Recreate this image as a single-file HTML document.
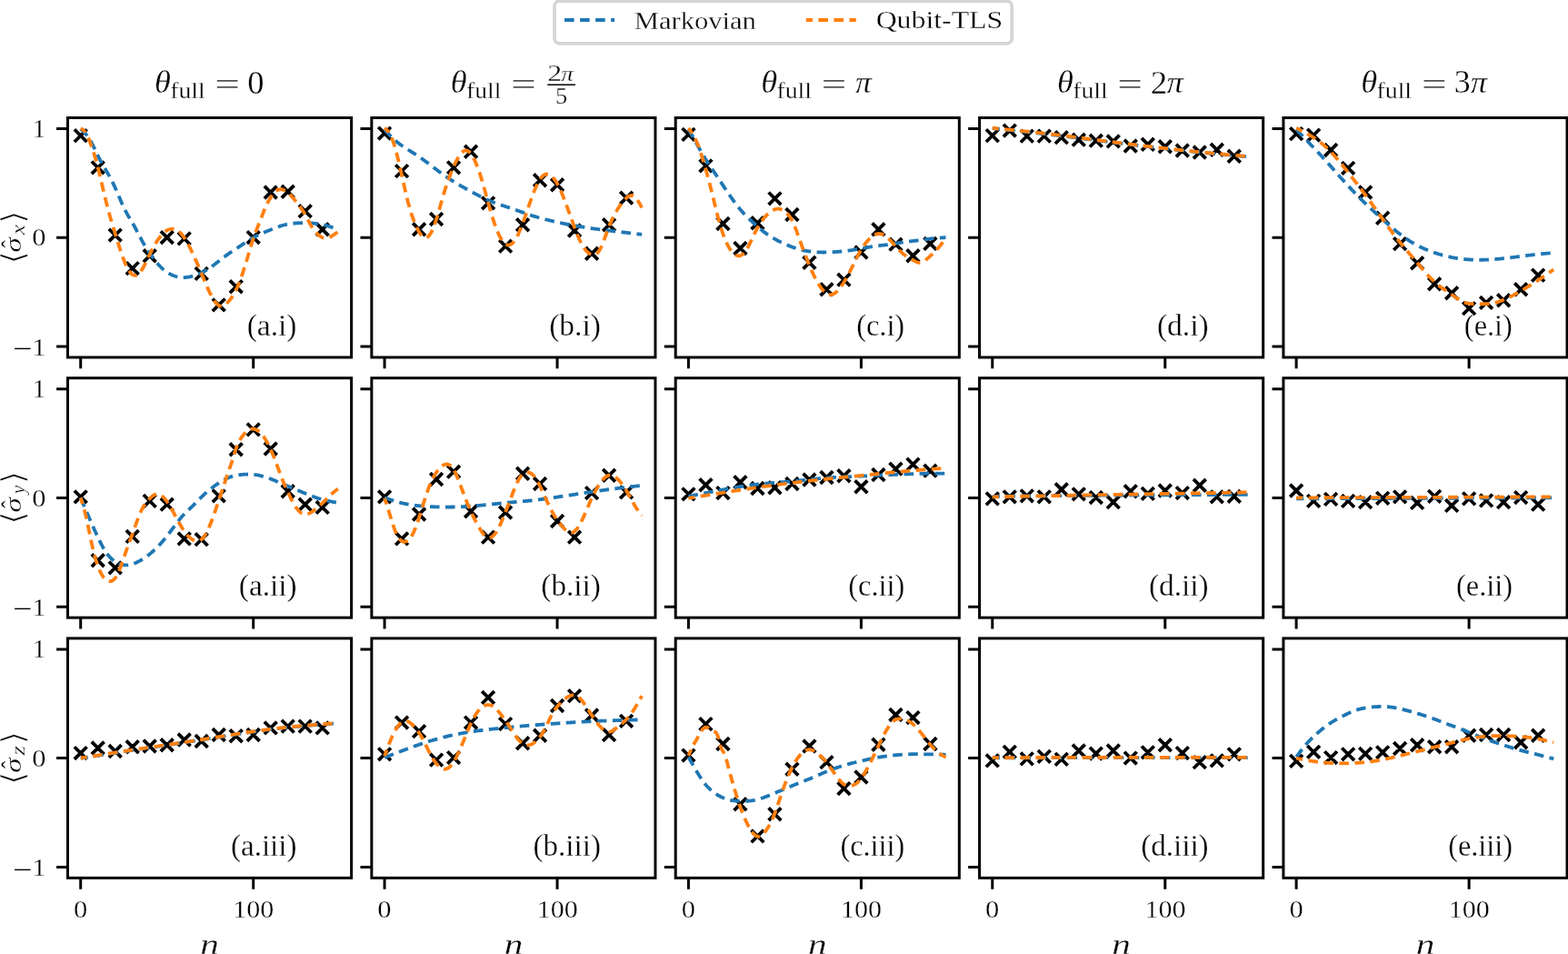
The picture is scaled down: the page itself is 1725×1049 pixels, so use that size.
<!DOCTYPE html><html><head><meta charset="utf-8"><style>html,body{margin:0;padding:0;background:#fff;overflow:hidden}svg{display:block}text{font-family:'Liberation Serif', 'DejaVu Serif', serif;fill:#000;stroke:#fff;stroke-width:0.3px}</style></head><body>
<svg width="1725" height="1049" viewBox="0 0 1725 1049">
<rect width="1725" height="1049" fill="#fff"/>
<defs>
<clipPath id="cp00"><rect x="74.50" y="129.50" width="312.10" height="263.45"/></clipPath>
<clipPath id="cp01"><rect x="408.85" y="129.50" width="312.10" height="263.45"/></clipPath>
<clipPath id="cp02"><rect x="743.20" y="129.50" width="312.10" height="263.45"/></clipPath>
<clipPath id="cp03"><rect x="1077.55" y="129.50" width="312.10" height="263.45"/></clipPath>
<clipPath id="cp04"><rect x="1411.90" y="129.50" width="312.10" height="263.45"/></clipPath>
<clipPath id="cp10"><rect x="74.50" y="415.70" width="312.10" height="263.45"/></clipPath>
<clipPath id="cp11"><rect x="408.85" y="415.70" width="312.10" height="263.45"/></clipPath>
<clipPath id="cp12"><rect x="743.20" y="415.70" width="312.10" height="263.45"/></clipPath>
<clipPath id="cp13"><rect x="1077.55" y="415.70" width="312.10" height="263.45"/></clipPath>
<clipPath id="cp14"><rect x="1411.90" y="415.70" width="312.10" height="263.45"/></clipPath>
<clipPath id="cp20"><rect x="74.50" y="701.90" width="312.10" height="263.45"/></clipPath>
<clipPath id="cp21"><rect x="408.85" y="701.90" width="312.10" height="263.45"/></clipPath>
<clipPath id="cp22"><rect x="743.20" y="701.90" width="312.10" height="263.45"/></clipPath>
<clipPath id="cp23"><rect x="1077.55" y="701.90" width="312.10" height="263.45"/></clipPath>
<clipPath id="cp24"><rect x="1411.90" y="701.90" width="312.10" height="263.45"/></clipPath>
</defs>
<g clip-path="url(#cp00)">
<path d="M81.85,142.28L95.55,155.98M81.85,155.98L95.55,142.28M100.85,177.51L114.55,191.21M100.85,191.21L114.55,177.51M119.85,251.74L133.55,265.44M119.85,265.44L133.55,251.74M138.85,288.23L152.55,301.93M138.85,301.93L152.55,288.23M157.85,274.39L171.55,288.09M157.85,288.09L171.55,274.39M176.85,254.26L190.55,267.96M176.85,267.96L190.55,254.26M195.85,255.52L209.55,269.22M195.85,269.22L209.55,255.52M214.85,294.02L228.55,307.72M214.85,307.72L228.55,294.02M233.85,328.49L247.55,342.19M233.85,342.19L247.55,328.49M252.85,308.36L266.55,322.06M252.85,322.06L266.55,308.36M271.85,254.26L285.55,267.96M271.85,267.96L285.55,254.26M290.85,204.69L304.55,218.39M290.85,218.39L304.55,204.69M309.85,203.93L323.55,217.63M309.85,217.63L323.55,203.93M328.85,225.32L342.55,239.02M328.85,239.02L342.55,225.32M347.85,245.45L361.55,259.15M347.85,259.15L361.55,245.45" stroke="#000" stroke-width="3.8" fill="none"/>
<path d="M88.70,141.68 L89.65,142.58 L90.59,143.49 L91.54,144.43 L92.49,145.40 L93.43,146.41 L94.38,147.48 L95.33,148.62 L96.27,149.84 L97.22,151.15 L98.17,152.56 L99.12,154.08 L100.06,155.72 L101.01,157.47 L101.96,159.30 L102.90,161.21 L103.85,163.16 L104.80,165.14 L105.74,167.14 L106.69,169.13 L107.64,171.10 L108.58,173.02 L109.53,174.88 L110.48,176.67 L111.42,178.40 L112.37,180.08 L113.32,181.72 L114.26,183.34 L115.21,184.94 L116.16,186.53 L117.10,188.13 L118.05,189.75 L119.00,191.39 L119.95,193.07 L120.89,194.79 L121.84,196.56 L122.79,198.37 L123.73,200.24 L124.68,202.15 L125.63,204.12 L126.57,206.14 L127.52,208.22 L128.47,210.35 L129.41,212.54 L130.36,214.76 L131.31,217.00 L132.25,219.24 L133.20,221.47 L134.15,223.65 L135.09,225.78 L136.04,227.84 L136.99,229.82 L137.93,231.69 L138.88,233.47 L139.83,235.18 L140.78,236.83 L141.72,238.44 L142.67,240.02 L143.62,241.58 L144.56,243.15 L145.51,244.74 L146.46,246.36 L147.40,248.03 L148.35,249.75 L149.30,251.51 L150.24,253.30 L151.19,255.12 L152.14,256.94 L153.08,258.76 L154.03,260.57 L154.98,262.36 L155.92,264.12 L156.87,265.84 L157.82,267.51 L158.76,269.12 L159.71,270.69 L160.66,272.22 L161.61,273.70 L162.55,275.16 L163.50,276.57 L164.45,277.97 L165.39,279.33 L166.34,280.68 L167.29,282.01 L168.23,283.31 L169.18,284.59 L170.13,285.84 L171.07,287.05 L172.02,288.23 L172.97,289.38 L173.91,290.48 L174.86,291.53 L175.81,292.54 L176.75,293.50 L177.70,294.42 L178.65,295.30 L179.59,296.13 L180.54,296.91 L181.49,297.66 L182.44,298.37 L183.38,299.04 L184.33,299.67 L185.28,300.26 L186.22,300.81 L187.17,301.34 L188.12,301.82 L189.06,302.27 L190.01,302.69 L190.96,303.07 L191.90,303.42 L192.85,303.74 L193.80,304.03 L194.74,304.28 L195.69,304.50 L196.64,304.68 L197.58,304.84 L198.53,304.96 L199.48,305.06 L200.43,305.12 L201.37,305.15 L202.32,305.15 L203.27,305.11 L204.21,305.05 L205.16,304.96 L206.11,304.85 L207.05,304.70 L208.00,304.54 L208.95,304.34 L209.89,304.13 L210.84,303.89 L211.79,303.63 L212.73,303.35 L213.68,303.05 L214.63,302.73 L215.57,302.39 L216.52,302.04 L217.47,301.67 L218.41,301.28 L219.36,300.88 L220.31,300.46 L221.26,300.02 L222.20,299.56 L223.15,299.08 L224.10,298.59 L225.04,298.08 L225.99,297.54 L226.94,297.00 L227.88,296.43 L228.83,295.84 L229.78,295.23 L230.72,294.61 L231.67,293.97 L232.62,293.31 L233.56,292.63 L234.51,291.95 L235.46,291.25 L236.40,290.54 L237.35,289.82 L238.30,289.09 L239.24,288.36 L240.19,287.62 L241.14,286.88 L242.09,286.14 L243.03,285.40 L243.98,284.66 L244.93,283.92 L245.87,283.19 L246.82,282.46 L247.77,281.74 L248.71,281.03 L249.66,280.34 L250.61,279.65 L251.55,278.97 L252.50,278.31 L253.45,277.65 L254.39,277.01 L255.34,276.37 L256.29,275.74 L257.23,275.12 L258.18,274.50 L259.13,273.88 L260.07,273.27 L261.02,272.66 L261.97,272.04 L262.92,271.43 L263.86,270.82 L264.81,270.20 L265.76,269.58 L266.70,268.95 L267.65,268.33 L268.60,267.70 L269.54,267.07 L270.49,266.45 L271.44,265.82 L272.38,265.21 L273.33,264.60 L274.28,263.99 L275.22,263.40 L276.17,262.82 L277.12,262.25 L278.06,261.69 L279.01,261.15 L279.96,260.62 L280.91,260.11 L281.85,259.62 L282.80,259.14 L283.75,258.67 L284.69,258.21 L285.64,257.77 L286.59,257.33 L287.53,256.90 L288.48,256.49 L289.43,256.07 L290.37,255.67 L291.32,255.27 L292.27,254.87 L293.21,254.48 L294.16,254.09 L295.11,253.70 L296.05,253.31 L297.00,252.92 L297.95,252.53 L298.89,252.14 L299.84,251.76 L300.79,251.38 L301.74,251.01 L302.68,250.64 L303.63,250.28 L304.58,249.93 L305.52,249.59 L306.47,249.25 L307.42,248.93 L308.36,248.62 L309.31,248.32 L310.26,248.03 L311.20,247.76 L312.15,247.50 L313.10,247.26 L314.04,247.03 L314.99,246.83 L315.94,246.63 L316.88,246.46 L317.83,246.29 L318.78,246.14 L319.72,246.01 L320.67,245.88 L321.62,245.77 L322.57,245.67 L323.51,245.57 L324.46,245.49 L325.41,245.42 L326.35,245.36 L327.30,245.30 L328.25,245.25 L329.19,245.21 L330.14,245.17 L331.09,245.14 L332.03,245.12 L332.98,245.11 L333.93,245.10 L334.87,245.10 L335.82,245.10 L336.77,245.12 L337.71,245.14 L338.66,245.17 L339.61,245.20 L340.55,245.25 L341.50,245.30 L342.45,245.36 L343.40,245.43 L344.34,245.51 L345.29,245.59 L346.24,245.69 L347.18,245.79 L348.13,245.91 L349.08,246.04 L350.02,246.17 L350.97,246.32 L351.92,246.48 L352.86,246.65 L353.81,246.84 L354.76,247.03 L355.70,247.24 L356.65,247.46 L357.60,247.69 L358.54,247.94 L359.49,248.20 L360.44,248.46 L361.38,248.74 L362.33,249.02 L363.28,249.31 L364.23,249.61 L365.17,249.92 L366.12,250.23 L367.07,250.54 L368.01,250.86 L368.96,251.19 L369.91,251.51 L370.85,251.84 L371.80,252.17" stroke="#1f77b4" stroke-width="3.8" fill="none" stroke-dasharray="10.6 6.45" stroke-dashoffset="0"/>
<path d="M88.70,141.14 L89.65,141.67 L90.59,142.26 L91.54,142.96 L92.49,143.82 L93.43,144.90 L94.38,146.24 L95.33,147.87 L96.27,149.76 L97.22,151.86 L98.17,154.13 L99.12,156.55 L100.06,159.08 L101.01,161.71 L101.96,164.46 L102.90,167.32 L103.85,170.32 L104.80,173.45 L105.74,176.73 L106.69,180.16 L107.64,183.75 L108.58,187.50 L109.53,191.38 L110.48,195.36 L111.42,199.41 L112.37,203.49 L113.32,207.58 L114.26,211.65 L115.21,215.67 L116.16,219.59 L117.10,223.41 L118.05,227.09 L119.00,230.65 L119.95,234.11 L120.89,237.47 L121.84,240.76 L122.79,243.98 L123.73,247.14 L124.68,250.27 L125.63,253.37 L126.57,256.45 L127.52,259.54 L128.47,262.61 L129.41,265.67 L130.36,268.69 L131.31,271.66 L132.25,274.58 L133.20,277.41 L134.15,280.16 L135.09,282.80 L136.04,285.33 L136.99,287.73 L137.93,289.98 L138.88,292.08 L139.83,294.02 L140.78,295.79 L141.72,297.38 L142.67,298.79 L143.62,300.00 L144.56,301.02 L145.51,301.82 L146.46,302.40 L147.40,302.76 L148.35,302.89 L149.30,302.81 L150.24,302.51 L151.19,302.02 L152.14,301.33 L153.08,300.47 L154.03,299.43 L154.98,298.22 L155.92,296.87 L156.87,295.36 L157.82,293.72 L158.76,291.97 L159.71,290.12 L160.66,288.20 L161.61,286.23 L162.55,284.24 L163.50,282.25 L164.45,280.28 L165.39,278.34 L166.34,276.46 L167.29,274.63 L168.23,272.85 L169.18,271.13 L170.13,269.46 L171.07,267.86 L172.02,266.31 L172.97,264.84 L173.91,263.42 L174.86,262.08 L175.81,260.81 L176.75,259.61 L177.70,258.49 L178.65,257.44 L179.59,256.48 L180.54,255.60 L181.49,254.81 L182.44,254.11 L183.38,253.50 L184.33,252.99 L185.28,252.57 L186.22,252.25 L187.17,252.02 L188.12,251.87 L189.06,251.80 L190.01,251.81 L190.96,251.88 L191.90,252.04 L192.85,252.28 L193.80,252.61 L194.74,253.05 L195.69,253.60 L196.64,254.27 L197.58,255.07 L198.53,256.00 L199.48,257.04 L200.43,258.21 L201.37,259.47 L202.32,260.83 L203.27,262.28 L204.21,263.81 L205.16,265.41 L206.11,267.07 L207.05,268.80 L208.00,270.58 L208.95,272.41 L209.89,274.30 L210.84,276.23 L211.79,278.21 L212.73,280.23 L213.68,282.28 L214.63,284.37 L215.57,286.49 L216.52,288.64 L217.47,290.82 L218.41,293.02 L219.36,295.24 L220.31,297.48 L221.26,299.73 L222.20,302.00 L223.15,304.27 L224.10,306.55 L225.04,308.83 L225.99,311.08 L226.94,313.30 L227.88,315.48 L228.83,317.62 L229.78,319.69 L230.72,321.69 L231.67,323.61 L232.62,325.44 L233.56,327.16 L234.51,328.78 L235.46,330.27 L236.40,331.62 L237.35,332.84 L238.30,333.91 L239.24,334.82 L240.19,335.55 L241.14,336.11 L242.09,336.48 L243.03,336.65 L243.98,336.63 L244.93,336.43 L245.87,336.06 L246.82,335.55 L247.77,334.90 L248.71,334.15 L249.66,333.29 L250.61,332.36 L251.55,331.35 L252.50,330.26 L253.45,329.09 L254.39,327.82 L255.34,326.46 L256.29,325.00 L257.23,323.42 L258.18,321.74 L259.13,319.94 L260.07,318.01 L261.02,315.96 L261.97,313.78 L262.92,311.48 L263.86,309.07 L264.81,306.54 L265.76,303.91 L266.70,301.18 L267.65,298.35 L268.60,295.43 L269.54,292.43 L270.49,289.34 L271.44,286.19 L272.38,282.99 L273.33,279.76 L274.28,276.54 L275.22,273.34 L276.17,270.20 L277.12,267.13 L278.06,264.16 L279.01,261.32 L279.96,258.62 L280.91,256.04 L281.85,253.57 L282.80,251.17 L283.75,248.82 L284.69,246.49 L285.64,244.16 L286.59,241.80 L287.53,239.39 L288.48,236.90 L289.43,234.37 L290.37,231.87 L291.32,229.48 L292.27,227.26 L293.21,225.23 L294.16,223.37 L295.11,221.65 L296.05,220.04 L297.00,218.53 L297.95,217.08 L298.89,215.69 L299.84,214.36 L300.79,213.11 L301.74,211.98 L302.68,210.97 L303.63,210.12 L304.58,209.44 L305.52,208.92 L306.47,208.56 L307.42,208.34 L308.36,208.24 L309.31,208.27 L310.26,208.40 L311.20,208.62 L312.15,208.95 L313.10,209.37 L314.04,209.87 L314.99,210.47 L315.94,211.15 L316.88,211.91 L317.83,212.74 L318.78,213.65 L319.72,214.62 L320.67,215.64 L321.62,216.71 L322.57,217.83 L323.51,218.97 L324.46,220.13 L325.41,221.31 L326.35,222.50 L327.30,223.70 L328.25,224.92 L329.19,226.17 L330.14,227.45 L331.09,228.77 L332.03,230.14 L332.98,231.57 L333.93,233.07 L334.87,234.63 L335.82,236.28 L336.77,238.00 L337.71,239.77 L338.66,241.55 L339.61,243.34 L340.55,245.10 L341.50,246.82 L342.45,248.46 L343.40,250.02 L344.34,251.46 L345.29,252.79 L346.24,254.03 L347.18,255.17 L348.13,256.21 L349.08,257.17 L350.02,258.04 L350.97,258.84 L351.92,259.55 L352.86,260.18 L353.81,260.72 L354.76,261.17 L355.70,261.52 L356.65,261.77 L357.60,261.91 L358.54,261.95 L359.49,261.88 L360.44,261.70 L361.38,261.41 L362.33,261.03 L363.28,260.58 L364.23,260.06 L365.17,259.49 L366.12,258.88 L367.07,258.24 L368.01,257.59 L368.96,256.94 L369.91,256.27 L370.85,255.61 L371.80,254.94" stroke="#ff7f0e" stroke-width="3.8" fill="none" stroke-dasharray="10.6 6.45" stroke-dashoffset="3.5"/>
</g>
<rect x="74.50" y="129.50" width="312.10" height="263.45" fill="none" stroke="#000" stroke-width="3"/>
<path d="M62.10,141.48H74.50M62.10,261.23H74.50M62.10,380.98H74.50M88.70,392.95V405.35M278.70,392.95V405.35" stroke="#000" stroke-width="3" fill="none"/>
<text transform="translate(35.22,150.98) scale(1.0751,1)" font-size="28.70">1</text>
<text transform="translate(35.28,270.35) scale(1.0884,1)" font-size="28.00">0</text>
<text transform="translate(35.22,390.58) scale(1.1105,1)" font-size="27.79">1</text>
<text transform="translate(13.98,396.17) scale(1.0130,1)" font-size="38.00">−</text>
<text transform="translate(271.63,368.72) scale(0.9733,1)" font-size="34.44">(a.i)</text>
<g clip-path="url(#cp01)">
<path d="M416.20,139.76L429.90,153.46M416.20,153.46L429.90,139.76M435.20,181.28L448.90,194.98M435.20,194.98L448.90,181.28M454.20,245.45L467.90,259.15M454.20,259.15L467.90,245.45M473.20,234.13L486.90,247.83M473.20,247.83L486.90,234.13M492.20,177.51L505.90,191.21M492.20,191.21L505.90,177.51M511.20,159.90L524.90,173.60M511.20,173.60L524.90,159.90M530.20,216.51L543.90,230.21M530.20,230.21L543.90,216.51M549.20,263.82L562.90,277.52M549.20,277.52L562.90,263.82M568.20,240.42L581.90,254.12M568.20,254.12L581.90,240.42M587.20,191.35L600.90,205.05M587.20,205.05L600.90,191.35M606.20,196.38L619.90,210.08M606.20,210.08L619.90,196.38M625.20,246.71L638.90,260.41M625.20,260.41L638.90,246.71M644.20,271.87L657.90,285.57M644.20,285.57L657.90,271.87M663.20,240.42L676.90,254.12M663.20,254.12L676.90,240.42M682.20,210.73L695.90,224.43M682.20,224.43L695.90,210.73" stroke="#000" stroke-width="3.8" fill="none"/>
<path d="M423.05,142.31 L424.00,143.36 L424.94,144.40 L425.89,145.44 L426.84,146.47 L427.78,147.48 L428.73,148.49 L429.68,149.47 L430.62,150.44 L431.57,151.38 L432.52,152.30 L433.47,153.19 L434.41,154.04 L435.36,154.88 L436.31,155.68 L437.25,156.46 L438.20,157.22 L439.15,157.95 L440.09,158.66 L441.04,159.36 L441.99,160.04 L442.93,160.70 L443.88,161.34 L444.83,161.98 L445.77,162.60 L446.72,163.21 L447.67,163.82 L448.61,164.42 L449.56,165.01 L450.51,165.60 L451.45,166.18 L452.40,166.77 L453.35,167.36 L454.30,167.95 L455.24,168.54 L456.19,169.14 L457.14,169.74 L458.08,170.36 L459.03,170.98 L459.98,171.62 L460.92,172.26 L461.87,172.92 L462.82,173.58 L463.76,174.25 L464.71,174.92 L465.66,175.61 L466.60,176.29 L467.55,176.99 L468.50,177.69 L469.44,178.39 L470.39,179.10 L471.34,179.81 L472.28,180.53 L473.23,181.24 L474.18,181.96 L475.13,182.68 L476.07,183.40 L477.02,184.12 L477.97,184.84 L478.91,185.56 L479.86,186.28 L480.81,186.99 L481.75,187.70 L482.70,188.41 L483.65,189.12 L484.59,189.82 L485.54,190.51 L486.49,191.20 L487.43,191.89 L488.38,192.56 L489.33,193.23 L490.27,193.90 L491.22,194.55 L492.17,195.19 L493.11,195.83 L494.06,196.46 L495.01,197.08 L495.96,197.69 L496.90,198.30 L497.85,198.90 L498.80,199.49 L499.74,200.08 L500.69,200.65 L501.64,201.23 L502.58,201.80 L503.53,202.36 L504.48,202.92 L505.42,203.47 L506.37,204.02 L507.32,204.56 L508.26,205.10 L509.21,205.64 L510.16,206.17 L511.10,206.70 L512.05,207.23 L513.00,207.76 L513.94,208.28 L514.89,208.80 L515.84,209.32 L516.79,209.84 L517.73,210.36 L518.68,210.88 L519.63,211.39 L520.57,211.90 L521.52,212.41 L522.47,212.92 L523.41,213.42 L524.36,213.92 L525.31,214.41 L526.25,214.90 L527.20,215.39 L528.15,215.87 L529.09,216.34 L530.04,216.81 L530.99,217.28 L531.93,217.73 L532.88,218.18 L533.83,218.63 L534.78,219.06 L535.72,219.49 L536.67,219.91 L537.62,220.32 L538.56,220.73 L539.51,221.12 L540.46,221.51 L541.40,221.88 L542.35,222.25 L543.30,222.61 L544.24,222.97 L545.19,223.32 L546.14,223.66 L547.08,224.00 L548.03,224.33 L548.98,224.66 L549.92,224.98 L550.87,225.30 L551.82,225.62 L552.76,225.94 L553.71,226.25 L554.66,226.56 L555.61,226.87 L556.55,227.18 L557.50,227.49 L558.45,227.80 L559.39,228.11 L560.34,228.42 L561.29,228.74 L562.23,229.05 L563.18,229.37 L564.13,229.69 L565.07,230.02 L566.02,230.35 L566.97,230.68 L567.91,231.01 L568.86,231.35 L569.81,231.68 L570.75,232.02 L571.70,232.36 L572.65,232.70 L573.59,233.04 L574.54,233.38 L575.49,233.72 L576.44,234.06 L577.38,234.39 L578.33,234.72 L579.28,235.05 L580.22,235.38 L581.17,235.71 L582.12,236.03 L583.06,236.34 L584.01,236.66 L584.96,236.96 L585.90,237.27 L586.85,237.56 L587.80,237.86 L588.74,238.14 L589.69,238.43 L590.64,238.71 L591.58,238.98 L592.53,239.25 L593.48,239.52 L594.42,239.78 L595.37,240.04 L596.32,240.30 L597.27,240.55 L598.21,240.80 L599.16,241.04 L600.11,241.29 L601.05,241.53 L602.00,241.76 L602.95,241.99 L603.89,242.22 L604.84,242.45 L605.79,242.68 L606.73,242.90 L607.68,243.12 L608.63,243.34 L609.57,243.55 L610.52,243.77 L611.47,243.98 L612.41,244.19 L613.36,244.40 L614.31,244.60 L615.26,244.81 L616.20,245.01 L617.15,245.21 L618.10,245.41 L619.04,245.60 L619.99,245.80 L620.94,245.99 L621.88,246.18 L622.83,246.37 L623.78,246.56 L624.72,246.74 L625.67,246.92 L626.62,247.10 L627.56,247.28 L628.51,247.46 L629.46,247.63 L630.40,247.81 L631.35,247.98 L632.30,248.15 L633.24,248.31 L634.19,248.48 L635.14,248.64 L636.09,248.80 L637.03,248.96 L637.98,249.12 L638.93,249.28 L639.87,249.43 L640.82,249.58 L641.77,249.74 L642.71,249.88 L643.66,250.03 L644.61,250.18 L645.55,250.32 L646.50,250.47 L647.45,250.61 L648.39,250.75 L649.34,250.89 L650.29,251.02 L651.23,251.16 L652.18,251.29 L653.13,251.42 L654.07,251.56 L655.02,251.69 L655.97,251.81 L656.92,251.94 L657.86,252.07 L658.81,252.19 L659.76,252.32 L660.70,252.44 L661.65,252.56 L662.60,252.68 L663.54,252.80 L664.49,252.92 L665.44,253.04 L666.38,253.15 L667.33,253.27 L668.28,253.38 L669.22,253.50 L670.17,253.61 L671.12,253.72 L672.06,253.84 L673.01,253.95 L673.96,254.06 L674.90,254.17 L675.85,254.28 L676.80,254.39 L677.75,254.50 L678.69,254.61 L679.64,254.72 L680.59,254.83 L681.53,254.94 L682.48,255.05 L683.43,255.16 L684.37,255.27 L685.32,255.38 L686.27,255.49 L687.21,255.60 L688.16,255.71 L689.11,255.82 L690.05,255.93 L691.00,256.05 L691.95,256.16 L692.89,256.27 L693.84,256.38 L694.79,256.49 L695.73,256.60 L696.68,256.71 L697.63,256.83 L698.58,256.94 L699.52,257.05 L700.47,257.16 L701.42,257.27 L702.36,257.38 L703.31,257.50 L704.26,257.61 L705.20,257.72 L706.15,257.83" stroke="#1f77b4" stroke-width="3.8" fill="none" stroke-dasharray="10.6 6.45" stroke-dashoffset="0"/>
<path d="M423.05,140.74 L424.00,141.51 L424.94,142.33 L425.89,143.26 L426.84,144.33 L427.78,145.59 L428.73,147.09 L429.68,148.85 L430.62,150.87 L431.57,153.17 L432.52,155.73 L433.47,158.58 L434.41,161.67 L435.36,164.99 L436.31,168.52 L437.25,172.22 L438.20,176.08 L439.15,180.07 L440.09,184.15 L441.04,188.32 L441.99,192.54 L442.93,196.79 L443.88,201.03 L444.83,205.23 L445.77,209.38 L446.72,213.44 L447.67,217.37 L448.61,221.16 L449.56,224.77 L450.51,228.19 L451.45,231.41 L452.40,234.45 L453.35,237.31 L454.30,240.00 L455.24,242.53 L456.19,244.92 L457.14,247.16 L458.08,249.26 L459.03,251.24 L459.98,253.09 L460.92,254.79 L461.87,256.33 L462.82,257.69 L463.76,258.87 L464.71,259.85 L465.66,260.60 L466.60,261.13 L467.55,261.42 L468.50,261.44 L469.44,261.20 L470.39,260.67 L471.34,259.86 L472.28,258.79 L473.23,257.45 L474.18,255.87 L475.13,254.05 L476.07,252.01 L477.02,249.75 L477.97,247.29 L478.91,244.63 L479.86,241.80 L480.81,238.79 L481.75,235.66 L482.70,232.41 L483.65,229.10 L484.59,225.74 L485.54,222.37 L486.49,219.02 L487.43,215.73 L488.38,212.51 L489.33,209.41 L490.27,206.43 L491.22,203.55 L492.17,200.78 L493.11,198.11 L494.06,195.53 L495.01,193.05 L495.96,190.64 L496.90,188.32 L497.85,186.07 L498.80,183.89 L499.74,181.78 L500.69,179.74 L501.64,177.80 L502.58,175.96 L503.53,174.22 L504.48,172.62 L505.42,171.14 L506.37,169.81 L507.32,168.64 L508.26,167.63 L509.21,166.81 L510.16,166.17 L511.10,165.74 L512.05,165.51 L513.00,165.51 L513.94,165.74 L514.89,166.18 L515.84,166.83 L516.79,167.69 L517.73,168.75 L518.68,170.00 L519.63,171.44 L520.57,173.06 L521.52,174.85 L522.47,176.81 L523.41,178.93 L524.36,181.21 L525.31,183.63 L526.25,186.20 L527.20,188.90 L528.15,191.72 L529.09,194.67 L530.04,197.73 L530.99,200.90 L531.93,204.17 L532.88,207.52 L533.83,210.93 L534.78,214.38 L535.72,217.84 L536.67,221.29 L537.62,224.70 L538.56,228.07 L539.51,231.36 L540.46,234.57 L541.40,237.70 L542.35,240.73 L543.30,243.64 L544.24,246.44 L545.19,249.10 L546.14,251.63 L547.08,254.00 L548.03,256.21 L548.98,258.27 L549.92,260.16 L550.87,261.88 L551.82,263.43 L552.76,264.82 L553.71,266.02 L554.66,267.05 L555.61,267.90 L556.55,268.57 L557.50,269.05 L558.45,269.33 L559.39,269.43 L560.34,269.33 L561.29,269.05 L562.23,268.57 L563.18,267.91 L564.13,267.07 L565.07,266.05 L566.02,264.85 L566.97,263.47 L567.91,261.93 L568.86,260.21 L569.81,258.32 L570.75,256.29 L571.70,254.11 L572.65,251.81 L573.59,249.41 L574.54,246.91 L575.49,244.34 L576.44,241.71 L577.38,239.03 L578.33,236.31 L579.28,233.57 L580.22,230.82 L581.17,228.08 L582.12,225.34 L583.06,222.63 L584.01,219.97 L584.96,217.35 L585.90,214.79 L586.85,212.31 L587.80,209.92 L588.74,207.63 L589.69,205.44 L590.64,203.39 L591.58,201.46 L592.53,199.69 L593.48,198.07 L594.42,196.63 L595.37,195.37 L596.32,194.28 L597.27,193.37 L598.21,192.64 L599.16,192.08 L600.11,191.69 L601.05,191.46 L602.00,191.41 L602.95,191.51 L603.89,191.78 L604.84,192.20 L605.79,192.77 L606.73,193.50 L607.68,194.37 L608.63,195.38 L609.57,196.54 L610.52,197.83 L611.47,199.25 L612.41,200.80 L613.36,202.48 L614.31,204.28 L615.26,206.19 L616.20,208.21 L617.15,210.33 L618.10,212.53 L619.04,214.82 L619.99,217.18 L620.94,219.60 L621.88,222.09 L622.83,224.62 L623.78,227.19 L624.72,229.80 L625.67,232.42 L626.62,235.06 L627.56,237.71 L628.51,240.35 L629.46,242.98 L630.40,245.59 L631.35,248.16 L632.30,250.70 L633.24,253.18 L634.19,255.61 L635.14,257.96 L636.09,260.23 L637.03,262.42 L637.98,264.50 L638.93,266.46 L639.87,268.30 L640.82,270.01 L641.77,271.58 L642.71,273.01 L643.66,274.30 L644.61,275.45 L645.55,276.48 L646.50,277.38 L647.45,278.16 L648.39,278.82 L649.34,279.36 L650.29,279.79 L651.23,280.10 L652.18,280.27 L653.13,280.28 L654.07,280.13 L655.02,279.78 L655.97,279.24 L656.92,278.48 L657.86,277.49 L658.81,276.25 L659.76,274.74 L660.70,272.97 L661.65,270.97 L662.60,268.76 L663.54,266.40 L664.49,263.92 L665.44,261.35 L666.38,258.74 L667.33,256.12 L668.28,253.54 L669.22,251.02 L670.17,248.60 L671.12,246.31 L672.06,244.13 L673.01,242.05 L673.96,240.08 L674.90,238.19 L675.85,236.39 L676.80,234.66 L677.75,233.01 L678.69,231.41 L679.64,229.86 L680.59,228.36 L681.53,226.90 L682.48,225.51 L683.43,224.16 L684.37,222.89 L685.32,221.68 L686.27,220.55 L687.21,219.50 L688.16,218.54 L689.11,217.67 L690.05,216.90 L691.00,216.23 L691.95,215.69 L692.89,215.29 L693.84,215.04 L694.79,214.97 L695.73,215.10 L696.68,215.43 L697.63,215.98 L698.58,216.77 L699.52,217.76 L700.47,218.93 L701.42,220.26 L702.36,221.72 L703.31,223.28 L704.26,224.92 L705.20,226.61 L706.15,228.33" stroke="#ff7f0e" stroke-width="3.8" fill="none" stroke-dasharray="10.6 6.45" stroke-dashoffset="3.5"/>
</g>
<rect x="408.85" y="129.50" width="312.10" height="263.45" fill="none" stroke="#000" stroke-width="3"/>
<path d="M396.45,141.48H408.85M396.45,261.23H408.85M396.45,380.98H408.85M423.05,392.95V405.35M613.05,392.95V405.35" stroke="#000" stroke-width="3" fill="none"/>
<text transform="translate(604.20,368.72) scale(0.9721,1)" font-size="34.44">(b.i)</text>
<g clip-path="url(#cp02)">
<path d="M750.55,141.02L764.25,154.72M750.55,154.72L764.25,141.02M769.55,175.50L783.25,189.20M769.55,189.20L783.25,175.50M788.55,239.16L802.25,252.86M788.55,252.86L802.25,239.16M807.55,266.09L821.25,279.79M807.55,279.79L821.25,266.09M826.55,238.41L840.25,252.11M826.55,252.11L840.25,238.41M845.55,211.48L859.25,225.18M845.55,225.18L859.25,211.48M864.55,229.10L878.25,242.80M864.55,242.80L878.25,229.10M883.55,281.94L897.25,295.64M883.55,295.64L897.25,281.94M902.55,311.38L916.25,325.08M902.55,325.08L916.25,311.38M921.55,300.81L935.25,314.51M921.55,314.51L935.25,300.81M940.55,270.62L954.25,284.32M940.55,284.32L954.25,270.62M959.55,245.45L973.25,259.15M959.55,259.15L973.25,245.45M978.55,261.81L992.25,275.51M978.55,275.51L992.25,261.81M997.55,274.39L1011.25,288.09M997.55,288.09L1011.25,274.39M1016.55,261.05L1030.25,274.75M1016.55,274.75L1030.25,261.05" stroke="#000" stroke-width="3.8" fill="none"/>
<path d="M757.40,141.64 L758.35,143.37 L759.29,145.10 L760.24,146.83 L761.19,148.56 L762.13,150.28 L763.08,152.01 L764.03,153.73 L764.97,155.46 L765.92,157.18 L766.87,158.90 L767.82,160.61 L768.76,162.31 L769.71,164.01 L770.66,165.69 L771.60,167.35 L772.55,168.99 L773.50,170.61 L774.44,172.20 L775.39,173.77 L776.34,175.30 L777.28,176.81 L778.23,178.28 L779.18,179.74 L780.12,181.17 L781.07,182.59 L782.02,183.99 L782.96,185.38 L783.91,186.76 L784.86,188.14 L785.80,189.52 L786.75,190.90 L787.70,192.29 L788.65,193.69 L789.59,195.09 L790.54,196.50 L791.49,197.93 L792.43,199.35 L793.38,200.78 L794.33,202.21 L795.27,203.64 L796.22,205.08 L797.17,206.50 L798.11,207.93 L799.06,209.34 L800.01,210.75 L800.95,212.15 L801.90,213.54 L802.85,214.92 L803.79,216.28 L804.74,217.63 L805.69,218.97 L806.63,220.29 L807.58,221.59 L808.53,222.87 L809.48,224.13 L810.42,225.37 L811.37,226.59 L812.32,227.79 L813.26,228.96 L814.21,230.10 L815.16,231.22 L816.10,232.32 L817.05,233.38 L818.00,234.42 L818.94,235.43 L819.89,236.43 L820.84,237.40 L821.78,238.35 L822.73,239.28 L823.68,240.20 L824.62,241.10 L825.57,242.00 L826.52,242.88 L827.46,243.75 L828.41,244.62 L829.36,245.48 L830.31,246.34 L831.25,247.19 L832.20,248.03 L833.15,248.87 L834.09,249.70 L835.04,250.51 L835.99,251.32 L836.93,252.11 L837.88,252.90 L838.83,253.66 L839.77,254.42 L840.72,255.16 L841.67,255.88 L842.61,256.58 L843.56,257.27 L844.51,257.93 L845.45,258.58 L846.40,259.21 L847.35,259.83 L848.29,260.42 L849.24,261.00 L850.19,261.57 L851.14,262.12 L852.08,262.66 L853.03,263.19 L853.98,263.70 L854.92,264.21 L855.87,264.70 L856.82,265.18 L857.76,265.66 L858.71,266.12 L859.66,266.58 L860.60,267.03 L861.55,267.47 L862.50,267.91 L863.44,268.33 L864.39,268.75 L865.34,269.16 L866.28,269.56 L867.23,269.95 L868.18,270.34 L869.13,270.71 L870.07,271.08 L871.02,271.43 L871.97,271.78 L872.91,272.11 L873.86,272.44 L874.81,272.75 L875.75,273.05 L876.70,273.35 L877.65,273.63 L878.59,273.90 L879.54,274.17 L880.49,274.42 L881.43,274.66 L882.38,274.89 L883.33,275.11 L884.27,275.32 L885.22,275.52 L886.17,275.71 L887.11,275.89 L888.06,276.06 L889.01,276.22 L889.96,276.36 L890.90,276.50 L891.85,276.63 L892.80,276.75 L893.74,276.85 L894.69,276.95 L895.64,277.04 L896.58,277.12 L897.53,277.19 L898.48,277.26 L899.42,277.31 L900.37,277.36 L901.32,277.40 L902.26,277.43 L903.21,277.45 L904.16,277.47 L905.10,277.48 L906.05,277.48 L907.00,277.47 L907.94,277.46 L908.89,277.45 L909.84,277.43 L910.79,277.40 L911.73,277.37 L912.68,277.33 L913.63,277.29 L914.57,277.24 L915.52,277.19 L916.47,277.13 L917.41,277.08 L918.36,277.02 L919.31,276.95 L920.25,276.88 L921.20,276.81 L922.15,276.74 L923.09,276.66 L924.04,276.58 L924.99,276.50 L925.93,276.41 L926.88,276.32 L927.83,276.22 L928.77,276.12 L929.72,276.02 L930.67,275.91 L931.62,275.79 L932.56,275.67 L933.51,275.55 L934.46,275.42 L935.40,275.29 L936.35,275.15 L937.30,275.01 L938.24,274.86 L939.19,274.71 L940.14,274.56 L941.08,274.40 L942.03,274.24 L942.98,274.08 L943.92,273.91 L944.87,273.74 L945.82,273.58 L946.76,273.40 L947.71,273.23 L948.66,273.06 L949.61,272.89 L950.55,272.71 L951.50,272.54 L952.45,272.37 L953.39,272.20 L954.34,272.03 L955.29,271.86 L956.23,271.69 L957.18,271.53 L958.13,271.37 L959.07,271.21 L960.02,271.06 L960.97,270.91 L961.91,270.77 L962.86,270.63 L963.81,270.50 L964.75,270.38 L965.70,270.26 L966.65,270.15 L967.59,270.04 L968.54,269.93 L969.49,269.83 L970.44,269.73 L971.38,269.63 L972.33,269.53 L973.28,269.42 L974.22,269.32 L975.17,269.21 L976.12,269.10 L977.06,268.99 L978.01,268.87 L978.96,268.74 L979.90,268.60 L980.85,268.46 L981.80,268.31 L982.74,268.16 L983.69,268.00 L984.64,267.84 L985.58,267.67 L986.53,267.50 L987.48,267.34 L988.42,267.17 L989.37,267.00 L990.32,266.84 L991.27,266.67 L992.21,266.52 L993.16,266.37 L994.11,266.22 L995.05,266.08 L996.00,265.95 L996.95,265.82 L997.89,265.71 L998.84,265.59 L999.79,265.48 L1000.73,265.38 L1001.68,265.27 L1002.63,265.17 L1003.57,265.07 L1004.52,264.97 L1005.47,264.87 L1006.41,264.76 L1007.36,264.66 L1008.31,264.55 L1009.25,264.44 L1010.20,264.32 L1011.15,264.20 L1012.10,264.08 L1013.04,263.95 L1013.99,263.82 L1014.94,263.69 L1015.88,263.55 L1016.83,263.42 L1017.78,263.29 L1018.72,263.15 L1019.67,263.02 L1020.62,262.89 L1021.56,262.77 L1022.51,262.65 L1023.46,262.53 L1024.40,262.42 L1025.35,262.31 L1026.30,262.21 L1027.24,262.11 L1028.19,262.02 L1029.14,261.94 L1030.08,261.85 L1031.03,261.78 L1031.98,261.70 L1032.93,261.63 L1033.87,261.56 L1034.82,261.50 L1035.77,261.44 L1036.71,261.38 L1037.66,261.32 L1038.61,261.26 L1039.55,261.20 L1040.50,261.15" stroke="#1f77b4" stroke-width="3.8" fill="none" stroke-dasharray="10.6 6.45" stroke-dashoffset="0"/>
<path d="M757.40,140.98 L758.35,142.22 L759.29,143.49 L760.24,144.80 L761.19,146.18 L762.13,147.65 L763.08,149.22 L764.03,150.92 L764.97,152.76 L765.92,154.76 L766.87,156.94 L767.82,159.28 L768.76,161.78 L769.71,164.41 L770.66,167.18 L771.60,170.06 L772.55,173.05 L773.50,176.13 L774.44,179.29 L775.39,182.52 L776.34,185.83 L777.28,189.20 L778.23,192.64 L779.18,196.15 L780.12,199.73 L781.07,203.37 L782.02,207.07 L782.96,210.84 L783.91,214.67 L784.86,218.55 L785.80,222.45 L786.75,226.33 L787.70,230.18 L788.65,233.96 L789.59,237.66 L790.54,241.23 L791.49,244.67 L792.43,247.95 L793.38,251.07 L794.33,254.04 L795.27,256.85 L796.22,259.50 L797.17,261.98 L798.11,264.31 L799.06,266.46 L800.01,268.46 L800.95,270.30 L801.90,271.98 L802.85,273.51 L803.79,274.90 L804.74,276.15 L805.69,277.25 L806.63,278.23 L807.58,279.08 L808.53,279.80 L809.48,280.38 L810.42,280.83 L811.37,281.12 L812.32,281.27 L813.26,281.26 L814.21,281.09 L815.16,280.75 L816.10,280.25 L817.05,279.58 L818.00,278.74 L818.94,277.73 L819.89,276.56 L820.84,275.21 L821.78,273.69 L822.73,272.02 L823.68,270.23 L824.62,268.33 L825.57,266.36 L826.52,264.35 L827.46,262.31 L828.41,260.28 L829.36,258.28 L830.31,256.33 L831.25,254.46 L832.20,252.65 L833.15,250.91 L834.09,249.24 L835.04,247.65 L835.99,246.12 L836.93,244.66 L837.88,243.27 L838.83,241.96 L839.77,240.71 L840.72,239.53 L841.67,238.42 L842.61,237.38 L843.56,236.40 L844.51,235.48 L845.45,234.63 L846.40,233.84 L847.35,233.11 L848.29,232.43 L849.24,231.82 L850.19,231.26 L851.14,230.77 L852.08,230.36 L853.03,230.03 L853.98,229.80 L854.92,229.66 L855.87,229.63 L856.82,229.70 L857.76,229.87 L858.71,230.13 L859.66,230.48 L860.60,230.91 L861.55,231.43 L862.50,232.01 L863.44,232.67 L864.39,233.40 L865.34,234.20 L866.28,235.09 L867.23,236.10 L868.18,237.24 L869.13,238.53 L870.07,239.99 L871.02,241.64 L871.97,243.50 L872.91,245.55 L873.86,247.77 L874.81,250.14 L875.75,252.62 L876.70,255.20 L877.65,257.83 L878.59,260.51 L879.54,263.19 L880.49,265.85 L881.43,268.48 L882.38,271.08 L883.33,273.64 L884.27,276.17 L885.22,278.67 L886.17,281.13 L887.11,283.56 L888.06,285.95 L889.01,288.30 L889.96,290.62 L890.90,292.89 L891.85,295.11 L892.80,297.28 L893.74,299.39 L894.69,301.43 L895.64,303.41 L896.58,305.31 L897.53,307.14 L898.48,308.89 L899.42,310.56 L900.37,312.15 L901.32,313.65 L902.26,315.06 L903.21,316.39 L904.16,317.62 L905.10,318.76 L906.05,319.80 L907.00,320.74 L907.94,321.57 L908.89,322.29 L909.84,322.90 L910.79,323.38 L911.73,323.73 L912.68,323.95 L913.63,324.03 L914.57,323.97 L915.52,323.76 L916.47,323.41 L917.41,322.94 L918.36,322.34 L919.31,321.64 L920.25,320.82 L921.20,319.90 L922.15,318.90 L923.09,317.81 L924.04,316.64 L924.99,315.41 L925.93,314.11 L926.88,312.74 L927.83,311.31 L928.77,309.82 L929.72,308.27 L930.67,306.67 L931.62,305.00 L932.56,303.29 L933.51,301.52 L934.46,299.70 L935.40,297.83 L936.35,295.93 L937.30,294.00 L938.24,292.06 L939.19,290.12 L940.14,288.18 L941.08,286.25 L942.03,284.36 L942.98,282.50 L943.92,280.70 L944.87,278.95 L945.82,277.27 L946.76,275.65 L947.71,274.09 L948.66,272.60 L949.61,271.17 L950.55,269.80 L951.50,268.49 L952.45,267.24 L953.39,266.05 L954.34,264.92 L955.29,263.86 L956.23,262.85 L957.18,261.91 L958.13,261.04 L959.07,260.25 L960.02,259.53 L960.97,258.90 L961.91,258.35 L962.86,257.89 L963.81,257.52 L964.75,257.26 L965.70,257.09 L966.65,257.01 L967.59,257.03 L968.54,257.15 L969.49,257.35 L970.44,257.64 L971.38,258.02 L972.33,258.48 L973.28,259.03 L974.22,259.65 L975.17,260.35 L976.12,261.12 L977.06,261.96 L978.01,262.85 L978.96,263.79 L979.90,264.77 L980.85,265.78 L981.80,266.82 L982.74,267.87 L983.69,268.93 L984.64,269.99 L985.58,271.04 L986.53,272.09 L987.48,273.11 L988.42,274.12 L989.37,275.10 L990.32,276.06 L991.27,276.99 L992.21,277.88 L993.16,278.74 L994.11,279.55 L995.05,280.31 L996.00,281.03 L996.95,281.71 L997.89,282.35 L998.84,282.96 L999.79,283.54 L1000.73,284.09 L1001.68,284.63 L1002.63,285.15 L1003.57,285.67 L1004.52,286.18 L1005.47,286.68 L1006.41,287.17 L1007.36,287.63 L1008.31,288.04 L1009.25,288.38 L1010.20,288.63 L1011.15,288.78 L1012.10,288.80 L1013.04,288.68 L1013.99,288.43 L1014.94,288.06 L1015.88,287.58 L1016.83,287.00 L1017.78,286.35 L1018.72,285.62 L1019.67,284.85 L1020.62,284.03 L1021.56,283.18 L1022.51,282.32 L1023.46,281.45 L1024.40,280.58 L1025.35,279.69 L1026.30,278.79 L1027.24,277.87 L1028.19,276.93 L1029.14,275.97 L1030.08,274.98 L1031.03,273.95 L1031.98,272.89 L1032.93,271.80 L1033.87,270.66 L1034.82,269.50 L1035.77,268.30 L1036.71,267.08 L1037.66,265.84 L1038.61,264.58 L1039.55,263.31 L1040.50,262.04" stroke="#ff7f0e" stroke-width="3.8" fill="none" stroke-dasharray="10.6 6.45" stroke-dashoffset="3.5"/>
</g>
<rect x="743.20" y="129.50" width="312.10" height="263.45" fill="none" stroke="#000" stroke-width="3"/>
<path d="M730.80,141.48H743.20M730.80,261.23H743.20M730.80,380.98H743.20M757.40,392.95V405.35M947.40,392.95V405.35" stroke="#000" stroke-width="3" fill="none"/>
<text transform="translate(942.16,368.72) scale(0.9399,1)" font-size="34.44">(c.i)</text>
<g clip-path="url(#cp03)">
<path d="M1084.90,142.28L1098.60,155.98M1084.90,155.98L1098.60,142.28M1103.90,136.74L1117.60,150.44M1103.90,150.44L1117.60,136.74M1122.90,142.78L1136.60,156.48M1122.90,156.48L1136.60,142.78M1141.90,142.78L1155.60,156.48M1141.90,156.48L1155.60,142.78M1160.90,144.29L1174.60,157.99M1160.90,157.99L1174.60,144.29M1179.90,146.81L1193.60,160.51M1179.90,160.51L1193.60,146.81M1198.90,147.82L1212.60,161.52M1198.90,161.52L1212.60,147.82M1217.90,148.57L1231.60,162.27M1217.90,162.27L1231.60,148.57M1236.90,153.60L1250.60,167.30M1236.90,167.30L1250.60,153.60M1255.90,151.84L1269.60,165.54M1255.90,165.54L1269.60,151.84M1274.90,154.36L1288.60,168.06M1274.90,168.06L1288.60,154.36M1293.90,158.64L1307.60,172.34M1293.90,172.34L1307.60,158.64M1312.90,160.65L1326.60,174.35M1312.90,174.35L1326.60,160.65M1331.90,157.88L1345.60,171.58M1331.90,171.58L1345.60,157.88M1350.90,164.93L1364.60,178.63M1350.90,178.63L1364.60,164.93" stroke="#000" stroke-width="3.8" fill="none"/>
<path d="M1091.75,141.12 L1092.70,141.22 L1093.64,141.32 L1094.59,141.41 L1095.54,141.51 L1096.48,141.61 L1097.43,141.71 L1098.38,141.80 L1099.32,141.90 L1100.27,142.00 L1101.22,142.10 L1102.17,142.19 L1103.11,142.29 L1104.06,142.39 L1105.01,142.49 L1105.95,142.59 L1106.90,142.68 L1107.85,142.78 L1108.79,142.88 L1109.74,142.98 L1110.69,143.08 L1111.63,143.18 L1112.58,143.28 L1113.53,143.37 L1114.47,143.47 L1115.42,143.57 L1116.37,143.67 L1117.31,143.77 L1118.26,143.87 L1119.21,143.97 L1120.15,144.07 L1121.10,144.17 L1122.05,144.27 L1123.00,144.37 L1123.94,144.47 L1124.89,144.57 L1125.84,144.67 L1126.78,144.78 L1127.73,144.88 L1128.68,144.98 L1129.62,145.08 L1130.57,145.18 L1131.52,145.29 L1132.46,145.39 L1133.41,145.49 L1134.36,145.59 L1135.30,145.70 L1136.25,145.80 L1137.20,145.90 L1138.14,146.01 L1139.09,146.11 L1140.04,146.22 L1140.98,146.32 L1141.93,146.43 L1142.88,146.53 L1143.83,146.64 L1144.77,146.74 L1145.72,146.85 L1146.67,146.96 L1147.61,147.06 L1148.56,147.17 L1149.51,147.28 L1150.45,147.39 L1151.40,147.50 L1152.35,147.60 L1153.29,147.71 L1154.24,147.82 L1155.19,147.93 L1156.13,148.04 L1157.08,148.15 L1158.03,148.26 L1158.97,148.37 L1159.92,148.49 L1160.87,148.60 L1161.81,148.71 L1162.76,148.82 L1163.71,148.93 L1164.66,149.05 L1165.60,149.16 L1166.55,149.27 L1167.50,149.39 L1168.44,149.50 L1169.39,149.62 L1170.34,149.73 L1171.28,149.84 L1172.23,149.96 L1173.18,150.07 L1174.12,150.19 L1175.07,150.31 L1176.02,150.42 L1176.96,150.54 L1177.91,150.65 L1178.86,150.77 L1179.80,150.89 L1180.75,151.00 L1181.70,151.12 L1182.64,151.24 L1183.59,151.35 L1184.54,151.47 L1185.49,151.59 L1186.43,151.71 L1187.38,151.82 L1188.33,151.94 L1189.27,152.06 L1190.22,152.18 L1191.17,152.30 L1192.11,152.42 L1193.06,152.53 L1194.01,152.65 L1194.95,152.77 L1195.90,152.89 L1196.85,153.01 L1197.79,153.13 L1198.74,153.25 L1199.69,153.37 L1200.63,153.49 L1201.58,153.61 L1202.53,153.73 L1203.48,153.84 L1204.42,153.96 L1205.37,154.08 L1206.32,154.20 L1207.26,154.32 L1208.21,154.44 L1209.16,154.56 L1210.10,154.68 L1211.05,154.80 L1212.00,154.92 L1212.94,155.04 L1213.89,155.16 L1214.84,155.28 L1215.78,155.40 L1216.73,155.52 L1217.68,155.64 L1218.62,155.76 L1219.57,155.88 L1220.52,155.99 L1221.46,156.11 L1222.41,156.23 L1223.36,156.35 L1224.31,156.47 L1225.25,156.59 L1226.20,156.71 L1227.15,156.83 L1228.09,156.95 L1229.04,157.06 L1229.99,157.18 L1230.93,157.30 L1231.88,157.42 L1232.83,157.54 L1233.77,157.65 L1234.72,157.77 L1235.67,157.89 L1236.61,158.01 L1237.56,158.12 L1238.51,158.24 L1239.45,158.36 L1240.40,158.47 L1241.35,158.59 L1242.29,158.71 L1243.24,158.82 L1244.19,158.94 L1245.14,159.06 L1246.08,159.17 L1247.03,159.29 L1247.98,159.40 L1248.92,159.52 L1249.87,159.63 L1250.82,159.75 L1251.76,159.86 L1252.71,159.98 L1253.66,160.09 L1254.60,160.20 L1255.55,160.32 L1256.50,160.43 L1257.44,160.55 L1258.39,160.66 L1259.34,160.77 L1260.28,160.88 L1261.23,161.00 L1262.18,161.11 L1263.12,161.22 L1264.07,161.33 L1265.02,161.44 L1265.97,161.56 L1266.91,161.67 L1267.86,161.78 L1268.81,161.89 L1269.75,162.00 L1270.70,162.11 L1271.65,162.22 L1272.59,162.33 L1273.54,162.44 L1274.49,162.55 L1275.43,162.66 L1276.38,162.76 L1277.33,162.87 L1278.27,162.98 L1279.22,163.09 L1280.17,163.20 L1281.11,163.30 L1282.06,163.41 L1283.01,163.52 L1283.96,163.62 L1284.90,163.73 L1285.85,163.83 L1286.80,163.94 L1287.74,164.04 L1288.69,164.15 L1289.64,164.25 L1290.58,164.36 L1291.53,164.46 L1292.48,164.56 L1293.42,164.67 L1294.37,164.77 L1295.32,164.87 L1296.26,164.97 L1297.21,165.08 L1298.16,165.18 L1299.10,165.28 L1300.05,165.38 L1301.00,165.48 L1301.94,165.58 L1302.89,165.68 L1303.84,165.78 L1304.79,165.88 L1305.73,165.97 L1306.68,166.07 L1307.63,166.17 L1308.57,166.27 L1309.52,166.36 L1310.47,166.46 L1311.41,166.56 L1312.36,166.65 L1313.31,166.75 L1314.25,166.84 L1315.20,166.94 L1316.15,167.03 L1317.09,167.13 L1318.04,167.22 L1318.99,167.32 L1319.93,167.41 L1320.88,167.50 L1321.83,167.60 L1322.77,167.69 L1323.72,167.78 L1324.67,167.87 L1325.62,167.96 L1326.56,168.06 L1327.51,168.15 L1328.46,168.24 L1329.40,168.33 L1330.35,168.42 L1331.30,168.51 L1332.24,168.60 L1333.19,168.69 L1334.14,168.78 L1335.08,168.87 L1336.03,168.96 L1336.98,169.05 L1337.92,169.14 L1338.87,169.23 L1339.82,169.31 L1340.76,169.40 L1341.71,169.49 L1342.66,169.58 L1343.60,169.67 L1344.55,169.75 L1345.50,169.84 L1346.45,169.93 L1347.39,170.02 L1348.34,170.10 L1349.29,170.19 L1350.23,170.28 L1351.18,170.36 L1352.13,170.45 L1353.07,170.54 L1354.02,170.62 L1354.97,170.71 L1355.91,170.80 L1356.86,170.88 L1357.81,170.97 L1358.75,171.05 L1359.70,171.14 L1360.65,171.22 L1361.59,171.31 L1362.54,171.40 L1363.49,171.48 L1364.43,171.57 L1365.38,171.65 L1366.33,171.74 L1367.28,171.82 L1368.22,171.91 L1369.17,171.99 L1370.12,172.08 L1371.06,172.16 L1372.01,172.25 L1372.96,172.33 L1373.90,172.42 L1374.85,172.50" stroke="#1f77b4" stroke-width="3.8" fill="none" stroke-dasharray="10.6 6.45" stroke-dashoffset="2.5"/>
<path d="M1091.75,140.87 L1092.70,140.96 L1093.64,141.05 L1094.59,141.14 L1095.54,141.23 L1096.48,141.32 L1097.43,141.42 L1098.38,141.51 L1099.32,141.60 L1100.27,141.69 L1101.22,141.78 L1102.17,141.88 L1103.11,141.97 L1104.06,142.06 L1105.01,142.15 L1105.95,142.25 L1106.90,142.34 L1107.85,142.43 L1108.79,142.53 L1109.74,142.62 L1110.69,142.71 L1111.63,142.81 L1112.58,142.90 L1113.53,142.99 L1114.47,143.09 L1115.42,143.18 L1116.37,143.28 L1117.31,143.37 L1118.26,143.47 L1119.21,143.56 L1120.15,143.66 L1121.10,143.75 L1122.05,143.85 L1123.00,143.94 L1123.94,144.04 L1124.89,144.14 L1125.84,144.23 L1126.78,144.33 L1127.73,144.43 L1128.68,144.53 L1129.62,144.62 L1130.57,144.72 L1131.52,144.82 L1132.46,144.92 L1133.41,145.02 L1134.36,145.12 L1135.30,145.22 L1136.25,145.32 L1137.20,145.42 L1138.14,145.52 L1139.09,145.63 L1140.04,145.73 L1140.98,145.83 L1141.93,145.94 L1142.88,146.04 L1143.83,146.14 L1144.77,146.25 L1145.72,146.35 L1146.67,146.46 L1147.61,146.56 L1148.56,146.67 L1149.51,146.78 L1150.45,146.88 L1151.40,146.99 L1152.35,147.10 L1153.29,147.21 L1154.24,147.32 L1155.19,147.43 L1156.13,147.54 L1157.08,147.65 L1158.03,147.76 L1158.97,147.87 L1159.92,147.99 L1160.87,148.10 L1161.81,148.21 L1162.76,148.33 L1163.71,148.44 L1164.66,148.56 L1165.60,148.67 L1166.55,148.79 L1167.50,148.90 L1168.44,149.02 L1169.39,149.14 L1170.34,149.25 L1171.28,149.37 L1172.23,149.49 L1173.18,149.61 L1174.12,149.72 L1175.07,149.84 L1176.02,149.96 L1176.96,150.08 L1177.91,150.20 L1178.86,150.32 L1179.80,150.44 L1180.75,150.56 L1181.70,150.68 L1182.64,150.80 L1183.59,150.92 L1184.54,151.04 L1185.49,151.17 L1186.43,151.29 L1187.38,151.41 L1188.33,151.53 L1189.27,151.65 L1190.22,151.78 L1191.17,151.90 L1192.11,152.02 L1193.06,152.14 L1194.01,152.27 L1194.95,152.39 L1195.90,152.51 L1196.85,152.64 L1197.79,152.76 L1198.74,152.88 L1199.69,153.01 L1200.63,153.13 L1201.58,153.25 L1202.53,153.38 L1203.48,153.50 L1204.42,153.62 L1205.37,153.75 L1206.32,153.87 L1207.26,153.99 L1208.21,154.12 L1209.16,154.24 L1210.10,154.37 L1211.05,154.49 L1212.00,154.61 L1212.94,154.74 L1213.89,154.86 L1214.84,154.98 L1215.78,155.11 L1216.73,155.23 L1217.68,155.35 L1218.62,155.47 L1219.57,155.60 L1220.52,155.72 L1221.46,155.84 L1222.41,155.96 L1223.36,156.09 L1224.31,156.21 L1225.25,156.33 L1226.20,156.45 L1227.15,156.57 L1228.09,156.69 L1229.04,156.81 L1229.99,156.94 L1230.93,157.06 L1231.88,157.18 L1232.83,157.30 L1233.77,157.42 L1234.72,157.54 L1235.67,157.65 L1236.61,157.77 L1237.56,157.89 L1238.51,158.01 L1239.45,158.13 L1240.40,158.25 L1241.35,158.36 L1242.29,158.48 L1243.24,158.60 L1244.19,158.72 L1245.14,158.83 L1246.08,158.95 L1247.03,159.07 L1247.98,159.18 L1248.92,159.30 L1249.87,159.41 L1250.82,159.53 L1251.76,159.64 L1252.71,159.76 L1253.66,159.87 L1254.60,159.99 L1255.55,160.10 L1256.50,160.22 L1257.44,160.33 L1258.39,160.44 L1259.34,160.55 L1260.28,160.67 L1261.23,160.78 L1262.18,160.89 L1263.12,161.00 L1264.07,161.11 L1265.02,161.23 L1265.97,161.34 L1266.91,161.45 L1267.86,161.56 L1268.81,161.67 L1269.75,161.78 L1270.70,161.89 L1271.65,162.00 L1272.59,162.11 L1273.54,162.21 L1274.49,162.32 L1275.43,162.43 L1276.38,162.54 L1277.33,162.65 L1278.27,162.75 L1279.22,162.86 L1280.17,162.97 L1281.11,163.07 L1282.06,163.18 L1283.01,163.28 L1283.96,163.39 L1284.90,163.49 L1285.85,163.60 L1286.80,163.70 L1287.74,163.81 L1288.69,163.91 L1289.64,164.01 L1290.58,164.12 L1291.53,164.22 L1292.48,164.32 L1293.42,164.42 L1294.37,164.53 L1295.32,164.63 L1296.26,164.73 L1297.21,164.83 L1298.16,164.93 L1299.10,165.03 L1300.05,165.13 L1301.00,165.23 L1301.94,165.33 L1302.89,165.43 L1303.84,165.53 L1304.79,165.62 L1305.73,165.72 L1306.68,165.82 L1307.63,165.92 L1308.57,166.01 L1309.52,166.11 L1310.47,166.20 L1311.41,166.30 L1312.36,166.40 L1313.31,166.49 L1314.25,166.59 L1315.20,166.68 L1316.15,166.77 L1317.09,166.87 L1318.04,166.96 L1318.99,167.06 L1319.93,167.15 L1320.88,167.24 L1321.83,167.34 L1322.77,167.43 L1323.72,167.52 L1324.67,167.61 L1325.62,167.70 L1326.56,167.79 L1327.51,167.89 L1328.46,167.98 L1329.40,168.07 L1330.35,168.16 L1331.30,168.25 L1332.24,168.34 L1333.19,168.43 L1334.14,168.52 L1335.08,168.61 L1336.03,168.70 L1336.98,168.79 L1337.92,168.88 L1338.87,168.96 L1339.82,169.05 L1340.76,169.14 L1341.71,169.23 L1342.66,169.32 L1343.60,169.41 L1344.55,169.49 L1345.50,169.58 L1346.45,169.67 L1347.39,169.76 L1348.34,169.84 L1349.29,169.93 L1350.23,170.02 L1351.18,170.10 L1352.13,170.19 L1353.07,170.28 L1354.02,170.36 L1354.97,170.45 L1355.91,170.54 L1356.86,170.62 L1357.81,170.71 L1358.75,170.80 L1359.70,170.88 L1360.65,170.97 L1361.59,171.05 L1362.54,171.14 L1363.49,171.22 L1364.43,171.31 L1365.38,171.40 L1366.33,171.48 L1367.28,171.57 L1368.22,171.65 L1369.17,171.74 L1370.12,171.82 L1371.06,171.91 L1372.01,171.99 L1372.96,172.08 L1373.90,172.17 L1374.85,172.25" stroke="#ff7f0e" stroke-width="3.8" fill="none" stroke-dasharray="10.6 6.45" stroke-dashoffset="3.5"/>
</g>
<rect x="1077.55" y="129.50" width="312.10" height="263.45" fill="none" stroke="#000" stroke-width="3"/>
<path d="M1065.15,141.48H1077.55M1065.15,261.23H1077.55M1065.15,380.98H1077.55M1091.75,392.95V405.35M1281.75,392.95V405.35" stroke="#000" stroke-width="3" fill="none"/>
<text transform="translate(1272.90,368.72) scale(0.9721,1)" font-size="34.44">(d.i)</text>
<g clip-path="url(#cp04)">
<path d="M1419.25,140.27L1432.95,153.97M1419.25,153.97L1432.95,140.27M1438.25,141.78L1451.95,155.48M1438.25,155.48L1451.95,141.78M1457.25,158.13L1470.95,171.83M1457.25,171.83L1470.95,158.13M1476.25,178.01L1489.95,191.71M1476.25,191.71L1489.95,178.01M1495.25,204.69L1508.95,218.39M1495.25,218.39L1508.95,204.69M1514.25,232.87L1527.95,246.57M1514.25,246.57L1527.95,232.87M1533.25,261.30L1546.95,275.00M1533.25,275.00L1546.95,261.30M1552.25,282.44L1565.95,296.14M1552.25,296.14L1565.95,282.44M1571.25,305.34L1584.95,319.04M1571.25,319.04L1584.95,305.34M1590.25,315.41L1603.95,329.11M1590.25,329.11L1603.95,315.41M1609.25,332.27L1622.95,345.97M1609.25,345.97L1622.95,332.27M1628.25,325.97L1641.95,339.67M1628.25,339.67L1641.95,325.97M1647.25,323.46L1660.95,337.16M1647.25,337.16L1660.95,323.46M1666.25,311.38L1679.95,325.08M1666.25,325.08L1679.95,311.38M1685.25,295.78L1698.95,309.48M1685.25,309.48L1698.95,295.78" stroke="#000" stroke-width="3.8" fill="none"/>
<path d="M1426.10,142.13 L1427.05,143.14 L1427.99,144.16 L1428.94,145.18 L1429.89,146.20 L1430.83,147.22 L1431.78,148.23 L1432.73,149.24 L1433.67,150.26 L1434.62,151.27 L1435.57,152.27 L1436.52,153.28 L1437.46,154.28 L1438.41,155.28 L1439.36,156.28 L1440.30,157.28 L1441.25,158.27 L1442.20,159.27 L1443.14,160.26 L1444.09,161.26 L1445.04,162.26 L1445.98,163.25 L1446.93,164.25 L1447.88,165.25 L1448.82,166.26 L1449.77,167.26 L1450.72,168.27 L1451.66,169.28 L1452.61,170.30 L1453.56,171.32 L1454.50,172.34 L1455.45,173.37 L1456.40,174.41 L1457.35,175.45 L1458.29,176.50 L1459.24,177.55 L1460.19,178.60 L1461.13,179.66 L1462.08,180.72 L1463.03,181.79 L1463.97,182.86 L1464.92,183.93 L1465.87,185.00 L1466.81,186.08 L1467.76,187.15 L1468.71,188.22 L1469.65,189.30 L1470.60,190.37 L1471.55,191.45 L1472.49,192.52 L1473.44,193.59 L1474.39,194.66 L1475.33,195.72 L1476.28,196.78 L1477.23,197.84 L1478.18,198.89 L1479.12,199.94 L1480.07,200.99 L1481.02,202.03 L1481.96,203.06 L1482.91,204.10 L1483.86,205.12 L1484.80,206.14 L1485.75,207.16 L1486.70,208.17 L1487.64,209.18 L1488.59,210.18 L1489.54,211.17 L1490.48,212.16 L1491.43,213.14 L1492.38,214.11 L1493.32,215.08 L1494.27,216.04 L1495.22,216.99 L1496.16,217.94 L1497.11,218.88 L1498.06,219.81 L1499.01,220.74 L1499.95,221.66 L1500.90,222.57 L1501.85,223.48 L1502.79,224.38 L1503.74,225.28 L1504.69,226.17 L1505.63,227.05 L1506.58,227.94 L1507.53,228.82 L1508.47,229.69 L1509.42,230.57 L1510.37,231.44 L1511.31,232.30 L1512.26,233.17 L1513.21,234.04 L1514.15,234.90 L1515.10,235.76 L1516.05,236.62 L1516.99,237.48 L1517.94,238.34 L1518.89,239.21 L1519.84,240.07 L1520.78,240.92 L1521.73,241.78 L1522.68,242.63 L1523.62,243.48 L1524.57,244.33 L1525.52,245.18 L1526.46,246.02 L1527.41,246.85 L1528.36,247.68 L1529.30,248.51 L1530.25,249.33 L1531.20,250.14 L1532.14,250.95 L1533.09,251.75 L1534.04,252.54 L1534.98,253.32 L1535.93,254.10 L1536.88,254.87 L1537.83,255.62 L1538.77,256.37 L1539.72,257.11 L1540.67,257.84 L1541.61,258.56 L1542.56,259.26 L1543.51,259.96 L1544.45,260.65 L1545.40,261.33 L1546.35,261.99 L1547.29,262.65 L1548.24,263.29 L1549.19,263.92 L1550.13,264.54 L1551.08,265.15 L1552.03,265.75 L1552.97,266.34 L1553.92,266.91 L1554.87,267.47 L1555.81,268.02 L1556.76,268.55 L1557.71,269.08 L1558.66,269.59 L1559.60,270.08 L1560.55,270.57 L1561.50,271.04 L1562.44,271.51 L1563.39,271.96 L1564.34,272.40 L1565.28,272.83 L1566.23,273.25 L1567.18,273.66 L1568.12,274.06 L1569.07,274.46 L1570.02,274.84 L1570.96,275.22 L1571.91,275.58 L1572.86,275.94 L1573.80,276.30 L1574.75,276.64 L1575.70,276.98 L1576.64,277.31 L1577.59,277.64 L1578.54,277.96 L1579.49,278.28 L1580.43,278.59 L1581.38,278.89 L1582.33,279.19 L1583.27,279.48 L1584.22,279.76 L1585.17,280.04 L1586.11,280.31 L1587.06,280.58 L1588.01,280.84 L1588.95,281.09 L1589.90,281.33 L1590.85,281.57 L1591.79,281.81 L1592.74,282.03 L1593.69,282.25 L1594.63,282.46 L1595.58,282.67 L1596.53,282.86 L1597.47,283.05 L1598.42,283.24 L1599.37,283.41 L1600.32,283.58 L1601.26,283.74 L1602.21,283.90 L1603.16,284.05 L1604.10,284.19 L1605.05,284.33 L1606.00,284.45 L1606.94,284.58 L1607.89,284.69 L1608.84,284.80 L1609.78,284.91 L1610.73,285.00 L1611.68,285.09 L1612.62,285.18 L1613.57,285.26 L1614.52,285.33 L1615.46,285.40 L1616.41,285.46 L1617.36,285.52 L1618.31,285.57 L1619.25,285.61 L1620.20,285.65 L1621.15,285.69 L1622.09,285.72 L1623.04,285.74 L1623.99,285.76 L1624.93,285.78 L1625.88,285.78 L1626.83,285.79 L1627.77,285.79 L1628.72,285.78 L1629.67,285.77 L1630.61,285.76 L1631.56,285.74 L1632.51,285.71 L1633.45,285.68 L1634.40,285.65 L1635.35,285.62 L1636.29,285.57 L1637.24,285.53 L1638.19,285.48 L1639.14,285.43 L1640.08,285.37 L1641.03,285.31 L1641.98,285.24 L1642.92,285.18 L1643.87,285.10 L1644.82,285.03 L1645.76,284.95 L1646.71,284.87 L1647.66,284.79 L1648.60,284.70 L1649.55,284.61 L1650.50,284.52 L1651.44,284.43 L1652.39,284.33 L1653.34,284.23 L1654.28,284.13 L1655.23,284.02 L1656.18,283.92 L1657.12,283.81 L1658.07,283.70 L1659.02,283.59 L1659.97,283.48 L1660.91,283.36 L1661.86,283.25 L1662.81,283.13 L1663.75,283.02 L1664.70,282.90 L1665.65,282.78 L1666.59,282.66 L1667.54,282.54 L1668.49,282.42 L1669.43,282.30 L1670.38,282.18 L1671.33,282.05 L1672.27,281.93 L1673.22,281.81 L1674.17,281.69 L1675.11,281.57 L1676.06,281.45 L1677.01,281.33 L1677.95,281.21 L1678.90,281.09 L1679.85,280.98 L1680.80,280.86 L1681.74,280.74 L1682.69,280.63 L1683.64,280.52 L1684.58,280.41 L1685.53,280.29 L1686.48,280.18 L1687.42,280.08 L1688.37,279.97 L1689.32,279.86 L1690.26,279.76 L1691.21,279.66 L1692.16,279.56 L1693.10,279.46 L1694.05,279.36 L1695.00,279.26 L1695.94,279.17 L1696.89,279.07 L1697.84,278.98 L1698.78,278.89 L1699.73,278.80 L1700.68,278.72 L1701.63,278.63 L1702.57,278.55 L1703.52,278.46 L1704.47,278.38 L1705.41,278.30 L1706.36,278.21 L1707.31,278.13 L1708.25,278.05 L1709.20,277.97" stroke="#1f77b4" stroke-width="3.8" fill="none" stroke-dasharray="10.6 6.45" stroke-dashoffset="0"/>
<path d="M1426.10,140.83 L1427.05,141.30 L1427.99,141.77 L1428.94,142.25 L1429.89,142.73 L1430.83,143.21 L1431.78,143.69 L1432.73,144.18 L1433.67,144.68 L1434.62,145.17 L1435.57,145.68 L1436.52,146.19 L1437.46,146.71 L1438.41,147.24 L1439.36,147.78 L1440.30,148.33 L1441.25,148.89 L1442.20,149.45 L1443.14,150.03 L1444.09,150.63 L1445.04,151.23 L1445.98,151.85 L1446.93,152.48 L1447.88,153.13 L1448.82,153.79 L1449.77,154.47 L1450.72,155.17 L1451.66,155.88 L1452.61,156.61 L1453.56,157.35 L1454.50,158.12 L1455.45,158.90 L1456.40,159.71 L1457.35,160.53 L1458.29,161.37 L1459.24,162.24 L1460.19,163.13 L1461.13,164.04 L1462.08,164.97 L1463.03,165.93 L1463.97,166.90 L1464.92,167.90 L1465.87,168.92 L1466.81,169.95 L1467.76,171.00 L1468.71,172.07 L1469.65,173.15 L1470.60,174.25 L1471.55,175.36 L1472.49,176.48 L1473.44,177.62 L1474.39,178.76 L1475.33,179.91 L1476.28,181.07 L1477.23,182.24 L1478.18,183.41 L1479.12,184.58 L1480.07,185.77 L1481.02,186.95 L1481.96,188.14 L1482.91,189.33 L1483.86,190.53 L1484.80,191.73 L1485.75,192.94 L1486.70,194.15 L1487.64,195.36 L1488.59,196.58 L1489.54,197.80 L1490.48,199.03 L1491.43,200.26 L1492.38,201.50 L1493.32,202.74 L1494.27,203.98 L1495.22,205.23 L1496.16,206.49 L1497.11,207.75 L1498.06,209.01 L1499.01,210.28 L1499.95,211.55 L1500.90,212.83 L1501.85,214.11 L1502.79,215.40 L1503.74,216.69 L1504.69,217.98 L1505.63,219.28 L1506.58,220.58 L1507.53,221.89 L1508.47,223.20 L1509.42,224.51 L1510.37,225.83 L1511.31,227.15 L1512.26,228.47 L1513.21,229.79 L1514.15,231.12 L1515.10,232.45 L1516.05,233.79 L1516.99,235.12 L1517.94,236.46 L1518.89,237.80 L1519.84,239.14 L1520.78,240.48 L1521.73,241.82 L1522.68,243.16 L1523.62,244.49 L1524.57,245.82 L1525.52,247.15 L1526.46,248.47 L1527.41,249.79 L1528.36,251.10 L1529.30,252.40 L1530.25,253.69 L1531.20,254.98 L1532.14,256.25 L1533.09,257.51 L1534.04,258.77 L1534.98,260.01 L1535.93,261.23 L1536.88,262.44 L1537.83,263.64 L1538.77,264.83 L1539.72,266.00 L1540.67,267.16 L1541.61,268.31 L1542.56,269.44 L1543.51,270.58 L1544.45,271.70 L1545.40,272.81 L1546.35,273.92 L1547.29,275.03 L1548.24,276.13 L1549.19,277.23 L1550.13,278.33 L1551.08,279.43 L1552.03,280.52 L1552.97,281.62 L1553.92,282.72 L1554.87,283.83 L1555.81,284.94 L1556.76,286.05 L1557.71,287.17 L1558.66,288.30 L1559.60,289.43 L1560.55,290.56 L1561.50,291.69 L1562.44,292.82 L1563.39,293.95 L1564.34,295.07 L1565.28,296.19 L1566.23,297.30 L1567.18,298.40 L1568.12,299.48 L1569.07,300.56 L1570.02,301.62 L1570.96,302.67 L1571.91,303.69 L1572.86,304.70 L1573.80,305.69 L1574.75,306.65 L1575.70,307.59 L1576.64,308.51 L1577.59,309.40 L1578.54,310.26 L1579.49,311.09 L1580.43,311.90 L1581.38,312.69 L1582.33,313.45 L1583.27,314.20 L1584.22,314.93 L1585.17,315.65 L1586.11,316.35 L1587.06,317.03 L1588.01,317.71 L1588.95,318.37 L1589.90,319.03 L1590.85,319.68 L1591.79,320.33 L1592.74,320.97 L1593.69,321.61 L1594.63,322.26 L1595.58,322.90 L1596.53,323.55 L1597.47,324.20 L1598.42,324.86 L1599.37,325.52 L1600.32,326.17 L1601.26,326.82 L1602.21,327.47 L1603.16,328.10 L1604.10,328.71 L1605.05,329.30 L1606.00,329.87 L1606.94,330.42 L1607.89,330.93 L1608.84,331.41 L1609.78,331.85 L1610.73,332.26 L1611.68,332.61 L1612.62,332.92 L1613.57,333.18 L1614.52,333.40 L1615.46,333.58 L1616.41,333.72 L1617.36,333.82 L1618.31,333.91 L1619.25,333.97 L1620.20,334.01 L1621.15,334.03 L1622.09,334.05 L1623.04,334.06 L1623.99,334.07 L1624.93,334.08 L1625.88,334.10 L1626.83,334.13 L1627.77,334.16 L1628.72,334.19 L1629.67,334.21 L1630.61,334.24 L1631.56,334.25 L1632.51,334.26 L1633.45,334.26 L1634.40,334.25 L1635.35,334.22 L1636.29,334.17 L1637.24,334.10 L1638.19,334.01 L1639.14,333.90 L1640.08,333.77 L1641.03,333.62 L1641.98,333.45 L1642.92,333.25 L1643.87,333.04 L1644.82,332.81 L1645.76,332.56 L1646.71,332.30 L1647.66,332.02 L1648.60,331.72 L1649.55,331.41 L1650.50,331.08 L1651.44,330.73 L1652.39,330.38 L1653.34,330.01 L1654.28,329.62 L1655.23,329.23 L1656.18,328.82 L1657.12,328.40 L1658.07,327.97 L1659.02,327.53 L1659.97,327.08 L1660.91,326.62 L1661.86,326.15 L1662.81,325.68 L1663.75,325.19 L1664.70,324.69 L1665.65,324.19 L1666.59,323.68 L1667.54,323.16 L1668.49,322.64 L1669.43,322.11 L1670.38,321.58 L1671.33,321.04 L1672.27,320.49 L1673.22,319.94 L1674.17,319.39 L1675.11,318.83 L1676.06,318.27 L1677.01,317.70 L1677.95,317.13 L1678.90,316.56 L1679.85,315.98 L1680.80,315.40 L1681.74,314.81 L1682.69,314.23 L1683.64,313.63 L1684.58,313.03 L1685.53,312.43 L1686.48,311.83 L1687.42,311.22 L1688.37,310.60 L1689.32,309.99 L1690.26,309.37 L1691.21,308.74 L1692.16,308.11 L1693.10,307.48 L1694.05,306.84 L1695.00,306.20 L1695.94,305.56 L1696.89,304.91 L1697.84,304.26 L1698.78,303.61 L1699.73,302.96 L1700.68,302.30 L1701.63,301.64 L1702.57,300.98 L1703.52,300.32 L1704.47,299.66 L1705.41,298.99 L1706.36,298.33 L1707.31,297.66 L1708.25,297.00 L1709.20,296.33" stroke="#ff7f0e" stroke-width="3.8" fill="none" stroke-dasharray="10.6 6.45" stroke-dashoffset="3.5"/>
</g>
<rect x="1411.90" y="129.50" width="312.10" height="263.45" fill="none" stroke="#000" stroke-width="3"/>
<path d="M1399.50,141.48H1411.90M1399.50,261.23H1411.90M1399.50,380.98H1411.90M1426.10,392.95V405.35M1616.10,392.95V405.35" stroke="#000" stroke-width="3" fill="none"/>
<text transform="translate(1610.86,368.72) scale(0.9399,1)" font-size="34.44">(e.i)</text>
<g clip-path="url(#cp10)">
<path d="M81.85,539.50L95.55,553.20M81.85,553.20L95.55,539.50M100.85,609.46L114.55,623.16M100.85,623.16L114.55,609.46M119.85,617.51L133.55,631.21M119.85,631.21L133.55,617.51M138.85,583.04L152.55,596.74M138.85,596.74L152.55,583.04M157.85,544.03L171.55,557.73M157.85,557.73L171.55,544.03M176.85,547.81L190.55,561.51M176.85,561.51L190.55,547.81M195.85,585.55L209.55,599.25M195.85,599.25L209.55,585.55M214.85,586.31L228.55,600.01M214.85,600.01L228.55,586.31M233.85,538.50L247.55,552.20M233.85,552.20L247.55,538.50M252.85,487.42L266.55,501.12M252.85,501.12L266.55,487.42M271.85,465.52L285.55,479.22M271.85,479.22L285.55,465.52M290.85,486.66L304.55,500.36M290.85,500.36L304.55,486.66M309.85,533.46L323.55,547.16M309.85,547.16L323.55,533.46M328.85,547.81L342.55,561.51M328.85,561.51L342.55,547.81M347.85,551.08L361.55,564.78M347.85,564.78L361.55,551.08" stroke="#000" stroke-width="3.8" fill="none"/>
<path d="M88.70,547.36 L89.65,549.59 L90.59,551.81 L91.54,554.04 L92.49,556.26 L93.43,558.49 L94.38,560.70 L95.33,562.91 L96.27,565.12 L97.22,567.31 L98.17,569.50 L99.12,571.68 L100.06,573.85 L101.01,576.00 L101.96,578.14 L102.90,580.27 L103.85,582.38 L104.80,584.46 L105.74,586.53 L106.69,588.58 L107.64,590.60 L108.58,592.59 L109.53,594.55 L110.48,596.46 L111.42,598.32 L112.37,600.11 L113.32,601.85 L114.26,603.51 L115.21,605.08 L116.16,606.58 L117.10,607.97 L118.05,609.27 L119.00,610.48 L119.95,611.59 L120.89,612.63 L121.84,613.59 L122.79,614.47 L123.73,615.29 L124.68,616.05 L125.63,616.75 L126.57,617.39 L127.52,617.99 L128.47,618.54 L129.41,619.05 L130.36,619.50 L131.31,619.92 L132.25,620.28 L133.20,620.59 L134.15,620.86 L135.09,621.07 L136.04,621.23 L136.99,621.35 L137.93,621.41 L138.88,621.43 L139.83,621.39 L140.78,621.32 L141.72,621.19 L142.67,621.03 L143.62,620.83 L144.56,620.59 L145.51,620.32 L146.46,620.01 L147.40,619.67 L148.35,619.30 L149.30,618.91 L150.24,618.49 L151.19,618.04 L152.14,617.57 L153.08,617.08 L154.03,616.56 L154.98,616.02 L155.92,615.46 L156.87,614.87 L157.82,614.27 L158.76,613.64 L159.71,612.99 L160.66,612.32 L161.61,611.62 L162.55,610.91 L163.50,610.18 L164.45,609.43 L165.39,608.65 L166.34,607.86 L167.29,607.05 L168.23,606.21 L169.18,605.35 L170.13,604.47 L171.07,603.57 L172.02,602.64 L172.97,601.70 L173.91,600.73 L174.86,599.73 L175.81,598.72 L176.75,597.68 L177.70,596.62 L178.65,595.53 L179.59,594.43 L180.54,593.31 L181.49,592.17 L182.44,591.00 L183.38,589.83 L184.33,588.63 L185.28,587.42 L186.22,586.19 L187.17,584.94 L188.12,583.68 L189.06,582.41 L190.01,581.14 L190.96,579.86 L191.90,578.58 L192.85,577.30 L193.80,576.04 L194.74,574.79 L195.69,573.56 L196.64,572.35 L197.58,571.16 L198.53,570.01 L199.48,568.89 L200.43,567.81 L201.37,566.76 L202.32,565.75 L203.27,564.77 L204.21,563.81 L205.16,562.87 L206.11,561.95 L207.05,561.03 L208.00,560.13 L208.95,559.23 L209.89,558.33 L210.84,557.43 L211.79,556.51 L212.73,555.59 L213.68,554.65 L214.63,553.69 L215.57,552.73 L216.52,551.77 L217.47,550.79 L218.41,549.82 L219.36,548.86 L220.31,547.90 L221.26,546.94 L222.20,546.00 L223.15,545.07 L224.10,544.17 L225.04,543.28 L225.99,542.41 L226.94,541.57 L227.88,540.75 L228.83,539.94 L229.78,539.16 L230.72,538.39 L231.67,537.64 L232.62,536.90 L233.56,536.18 L234.51,535.48 L235.46,534.78 L236.40,534.09 L237.35,533.42 L238.30,532.75 L239.24,532.09 L240.19,531.45 L241.14,530.81 L242.09,530.19 L243.03,529.59 L243.98,529.00 L244.93,528.44 L245.87,527.89 L246.82,527.37 L247.77,526.86 L248.71,526.39 L249.66,525.94 L250.61,525.52 L251.55,525.13 L252.50,524.76 L253.45,524.42 L254.39,524.11 L255.34,523.82 L256.29,523.55 L257.23,523.31 L258.18,523.08 L259.13,522.88 L260.07,522.69 L261.02,522.52 L261.97,522.37 L262.92,522.23 L263.86,522.11 L264.81,521.99 L265.76,521.89 L266.70,521.80 L267.65,521.72 L268.60,521.66 L269.54,521.60 L270.49,521.56 L271.44,521.53 L272.38,521.51 L273.33,521.51 L274.28,521.52 L275.22,521.54 L276.17,521.58 L277.12,521.64 L278.06,521.71 L279.01,521.80 L279.96,521.90 L280.91,522.02 L281.85,522.15 L282.80,522.31 L283.75,522.47 L284.69,522.66 L285.64,522.85 L286.59,523.07 L287.53,523.29 L288.48,523.54 L289.43,523.79 L290.37,524.06 L291.32,524.34 L292.27,524.64 L293.21,524.95 L294.16,525.27 L295.11,525.60 L296.05,525.94 L297.00,526.30 L297.95,526.66 L298.89,527.04 L299.84,527.42 L300.79,527.81 L301.74,528.21 L302.68,528.61 L303.63,529.01 L304.58,529.42 L305.52,529.83 L306.47,530.24 L307.42,530.66 L308.36,531.07 L309.31,531.48 L310.26,531.89 L311.20,532.30 L312.15,532.70 L313.10,533.10 L314.04,533.50 L314.99,533.89 L315.94,534.29 L316.88,534.68 L317.83,535.07 L318.78,535.46 L319.72,535.85 L320.67,536.24 L321.62,536.63 L322.57,537.02 L323.51,537.42 L324.46,537.81 L325.41,538.21 L326.35,538.60 L327.30,539.00 L328.25,539.40 L329.19,539.81 L330.14,540.21 L331.09,540.61 L332.03,541.01 L332.98,541.41 L333.93,541.81 L334.87,542.21 L335.82,542.60 L336.77,542.99 L337.71,543.38 L338.66,543.77 L339.61,544.15 L340.55,544.52 L341.50,544.89 L342.45,545.26 L343.40,545.61 L344.34,545.97 L345.29,546.31 L346.24,546.65 L347.18,546.98 L348.13,547.30 L349.08,547.62 L350.02,547.93 L350.97,548.23 L351.92,548.52 L352.86,548.80 L353.81,549.07 L354.76,549.34 L355.70,549.59 L356.65,549.84 L357.60,550.07 L358.54,550.29 L359.49,550.51 L360.44,550.72 L361.38,550.92 L362.33,551.12 L363.28,551.31 L364.23,551.49 L365.17,551.67 L366.12,551.84 L367.07,552.01 L368.01,552.18 L368.96,552.35 L369.91,552.51 L370.85,552.67 L371.80,552.83" stroke="#1f77b4" stroke-width="3.8" fill="none" stroke-dasharray="10.6 6.45" stroke-dashoffset="0"/>
<path d="M88.70,547.43 L89.65,550.34 L90.59,553.32 L91.54,556.42 L92.49,559.70 L93.43,563.21 L94.38,567.02 L95.33,571.13 L96.27,575.48 L97.22,580.00 L98.17,584.61 L99.12,589.23 L100.06,593.78 L101.01,598.20 L101.96,602.41 L102.90,606.36 L103.85,610.04 L104.80,613.48 L105.74,616.67 L106.69,619.61 L107.64,622.33 L108.58,624.81 L109.53,627.07 L110.48,629.11 L111.42,630.95 L112.37,632.57 L113.32,634.01 L114.26,635.25 L115.21,636.31 L116.16,637.20 L117.10,637.91 L118.05,638.47 L119.00,638.86 L119.95,639.11 L120.89,639.20 L121.84,639.13 L122.79,638.88 L123.73,638.45 L124.68,637.81 L125.63,636.97 L126.57,635.91 L127.52,634.62 L128.47,633.08 L129.41,631.30 L130.36,629.26 L131.31,627.00 L132.25,624.56 L133.20,621.98 L134.15,619.30 L135.09,616.56 L136.04,613.79 L136.99,611.05 L137.93,608.35 L138.88,605.70 L139.83,603.08 L140.78,600.50 L141.72,597.93 L142.67,595.37 L143.62,592.81 L144.56,590.24 L145.51,587.65 L146.46,585.04 L147.40,582.39 L148.35,579.72 L149.30,577.04 L150.24,574.39 L151.19,571.79 L152.14,569.28 L153.08,566.87 L154.03,564.59 L154.98,562.47 L155.92,560.52 L156.87,558.73 L157.82,557.08 L158.76,555.56 L159.71,554.16 L160.66,552.87 L161.61,551.67 L162.55,550.55 L163.50,549.50 L164.45,548.51 L165.39,547.57 L166.34,546.68 L167.29,545.86 L168.23,545.13 L169.18,544.50 L170.13,543.98 L171.07,543.59 L172.02,543.35 L172.97,543.27 L173.91,543.35 L174.86,543.57 L175.81,543.94 L176.75,544.44 L177.70,545.07 L178.65,545.82 L179.59,546.69 L180.54,547.67 L181.49,548.75 L182.44,549.92 L183.38,551.18 L184.33,552.52 L185.28,553.93 L186.22,555.42 L187.17,556.96 L188.12,558.55 L189.06,560.19 L190.01,561.86 L190.96,563.57 L191.90,565.31 L192.85,567.06 L193.80,568.82 L194.74,570.58 L195.69,572.34 L196.64,574.07 L197.58,575.78 L198.53,577.45 L199.48,579.07 L200.43,580.64 L201.37,582.14 L202.32,583.57 L203.27,584.92 L204.21,586.18 L205.16,587.37 L206.11,588.46 L207.05,589.48 L208.00,590.41 L208.95,591.26 L209.89,592.03 L210.84,592.71 L211.79,593.31 L212.73,593.84 L213.68,594.27 L214.63,594.61 L215.57,594.84 L216.52,594.96 L217.47,594.95 L218.41,594.81 L219.36,594.51 L220.31,594.07 L221.26,593.45 L222.20,592.66 L223.15,591.68 L224.10,590.51 L225.04,589.18 L225.99,587.67 L226.94,586.01 L227.88,584.21 L228.83,582.26 L229.78,580.19 L230.72,578.00 L231.67,575.71 L232.62,573.31 L233.56,570.82 L234.51,568.25 L235.46,565.61 L236.40,562.92 L237.35,560.18 L238.30,557.41 L239.24,554.61 L240.19,551.81 L241.14,549.00 L242.09,546.19 L243.03,543.37 L243.98,540.54 L244.93,537.70 L245.87,534.84 L246.82,531.97 L247.77,529.07 L248.71,526.17 L249.66,523.28 L250.61,520.47 L251.55,517.75 L252.50,515.14 L253.45,512.55 L254.39,509.91 L255.34,507.10 L256.29,504.10 L257.23,501.00 L258.18,497.89 L259.13,494.90 L260.07,492.12 L261.02,489.66 L261.97,487.49 L262.92,485.59 L263.86,483.89 L264.81,482.35 L265.76,480.92 L266.70,479.59 L267.65,478.36 L268.60,477.22 L269.54,476.18 L270.49,475.24 L271.44,474.40 L272.38,473.67 L273.33,473.05 L274.28,472.55 L275.22,472.15 L276.17,471.87 L277.12,471.70 L278.06,471.65 L279.01,471.71 L279.96,471.88 L280.91,472.16 L281.85,472.54 L282.80,473.03 L283.75,473.63 L284.69,474.32 L285.64,475.12 L286.59,476.02 L287.53,477.02 L288.48,478.12 L289.43,479.32 L290.37,480.62 L291.32,482.01 L292.27,483.51 L293.21,485.10 L294.16,486.79 L295.11,488.58 L296.05,490.47 L297.00,492.45 L297.95,494.52 L298.89,496.67 L299.84,498.90 L300.79,501.20 L301.74,503.56 L302.68,505.99 L303.63,508.47 L304.58,511.00 L305.52,513.57 L306.47,516.16 L307.42,518.75 L308.36,521.31 L309.31,523.82 L310.26,526.27 L311.20,528.63 L312.15,530.90 L313.10,533.11 L314.04,535.25 L314.99,537.34 L315.94,539.40 L316.88,541.44 L317.83,543.46 L318.78,545.46 L319.72,547.42 L320.67,549.32 L321.62,551.16 L322.57,552.92 L323.51,554.58 L324.46,556.14 L325.41,557.59 L326.35,558.93 L327.30,560.16 L328.25,561.27 L329.19,562.27 L330.14,563.14 L331.09,563.88 L332.03,564.50 L332.98,564.99 L333.93,565.34 L334.87,565.56 L335.82,565.64 L336.77,565.60 L337.71,565.45 L338.66,565.19 L339.61,564.84 L340.55,564.40 L341.50,563.89 L342.45,563.32 L343.40,562.69 L344.34,562.02 L345.29,561.31 L346.24,560.59 L347.18,559.84 L348.13,559.07 L349.08,558.29 L350.02,557.49 L350.97,556.67 L351.92,555.82 L352.86,554.96 L353.81,554.08 L354.76,553.19 L355.70,552.27 L356.65,551.33 L357.60,550.38 L358.54,549.42 L359.49,548.45 L360.44,547.49 L361.38,546.54 L362.33,545.60 L363.28,544.69 L364.23,543.80 L365.17,542.94 L366.12,542.10 L367.07,541.28 L368.01,540.47 L368.96,539.68 L369.91,538.90 L370.85,538.13 L371.80,537.36" stroke="#ff7f0e" stroke-width="3.8" fill="none" stroke-dasharray="10.6 6.45" stroke-dashoffset="3.5"/>
</g>
<rect x="74.50" y="415.70" width="312.10" height="263.45" fill="none" stroke="#000" stroke-width="3"/>
<path d="M62.10,427.68H74.50M62.10,547.42H74.50M62.10,667.17H74.50M88.70,679.15V691.55M278.70,679.15V691.55" stroke="#000" stroke-width="3" fill="none"/>
<text transform="translate(35.22,437.18) scale(1.0751,1)" font-size="28.70">1</text>
<text transform="translate(35.28,556.54) scale(1.0884,1)" font-size="28.00">0</text>
<text transform="translate(35.22,676.77) scale(1.1105,1)" font-size="27.79">1</text>
<text transform="translate(13.98,682.36) scale(1.0130,1)" font-size="38.00">−</text>
<text transform="translate(262.80,654.92) scale(0.9672,1)" font-size="34.44">(a.ii)</text>
<g clip-path="url(#cp11)">
<path d="M416.20,539.50L429.90,553.20M416.20,553.20L429.90,539.50M435.20,585.55L448.90,599.25M435.20,599.25L448.90,585.55M454.20,558.63L467.90,572.33M454.20,572.33L467.90,558.63M473.20,520.13L486.90,533.83M473.20,533.83L486.90,520.13M492.20,511.82L505.90,525.52M492.20,525.52L505.90,511.82M511.20,555.36L524.90,569.06M511.20,569.06L524.90,555.36M530.20,583.79L543.90,597.49M530.20,597.49L543.90,583.79M549.20,556.62L562.90,570.32M549.20,570.32L562.90,556.62M568.20,513.84L581.90,527.54M568.20,527.54L581.90,513.84M587.20,525.16L600.90,538.86M587.20,538.86L600.90,525.16M606.20,566.18L619.90,579.88M606.20,579.88L619.90,566.18M625.20,583.79L638.90,597.49M625.20,597.49L638.90,583.79M644.20,535.23L657.90,548.93M644.20,548.93L657.90,535.23M663.20,515.85L676.90,529.55M663.20,529.55L676.90,515.85M682.20,534.47L695.90,548.17M682.20,548.17L695.90,534.47" stroke="#000" stroke-width="3.8" fill="none"/>
<path d="M423.05,547.18 L424.00,547.52 L424.94,547.85 L425.89,548.18 L426.84,548.51 L427.78,548.84 L428.73,549.17 L429.68,549.49 L430.62,549.81 L431.57,550.12 L432.52,550.43 L433.47,550.74 L434.41,551.03 L435.36,551.32 L436.31,551.60 L437.25,551.88 L438.20,552.14 L439.15,552.40 L440.09,552.65 L441.04,552.88 L441.99,553.11 L442.93,553.33 L443.88,553.55 L444.83,553.75 L445.77,553.95 L446.72,554.14 L447.67,554.32 L448.61,554.50 L449.56,554.66 L450.51,554.82 L451.45,554.98 L452.40,555.13 L453.35,555.27 L454.30,555.40 L455.24,555.53 L456.19,555.66 L457.14,555.77 L458.08,555.89 L459.03,556.00 L459.98,556.10 L460.92,556.20 L461.87,556.29 L462.82,556.38 L463.76,556.46 L464.71,556.54 L465.66,556.62 L466.60,556.69 L467.55,556.76 L468.50,556.82 L469.44,556.88 L470.39,556.94 L471.34,556.99 L472.28,557.04 L473.23,557.09 L474.18,557.13 L475.13,557.17 L476.07,557.21 L477.02,557.25 L477.97,557.28 L478.91,557.31 L479.86,557.34 L480.81,557.36 L481.75,557.39 L482.70,557.41 L483.65,557.43 L484.59,557.45 L485.54,557.46 L486.49,557.48 L487.43,557.49 L488.38,557.50 L489.33,557.51 L490.27,557.52 L491.22,557.52 L492.17,557.53 L493.11,557.53 L494.06,557.53 L495.01,557.52 L495.96,557.52 L496.90,557.51 L497.85,557.50 L498.80,557.48 L499.74,557.47 L500.69,557.45 L501.64,557.42 L502.58,557.40 L503.53,557.37 L504.48,557.34 L505.42,557.31 L506.37,557.27 L507.32,557.23 L508.26,557.19 L509.21,557.15 L510.16,557.10 L511.10,557.05 L512.05,556.99 L513.00,556.94 L513.94,556.88 L514.89,556.81 L515.84,556.75 L516.79,556.68 L517.73,556.61 L518.68,556.54 L519.63,556.46 L520.57,556.39 L521.52,556.31 L522.47,556.23 L523.41,556.15 L524.36,556.06 L525.31,555.98 L526.25,555.89 L527.20,555.81 L528.15,555.72 L529.09,555.63 L530.04,555.53 L530.99,555.44 L531.93,555.35 L532.88,555.25 L533.83,555.16 L534.78,555.06 L535.72,554.97 L536.67,554.87 L537.62,554.78 L538.56,554.68 L539.51,554.58 L540.46,554.48 L541.40,554.39 L542.35,554.29 L543.30,554.19 L544.24,554.09 L545.19,554.00 L546.14,553.90 L547.08,553.80 L548.03,553.71 L548.98,553.61 L549.92,553.52 L550.87,553.42 L551.82,553.33 L552.76,553.23 L553.71,553.14 L554.66,553.05 L555.61,552.96 L556.55,552.87 L557.50,552.78 L558.45,552.69 L559.39,552.61 L560.34,552.52 L561.29,552.44 L562.23,552.36 L563.18,552.27 L564.13,552.19 L565.07,552.11 L566.02,552.03 L566.97,551.95 L567.91,551.87 L568.86,551.79 L569.81,551.71 L570.75,551.63 L571.70,551.55 L572.65,551.47 L573.59,551.38 L574.54,551.30 L575.49,551.22 L576.44,551.13 L577.38,551.05 L578.33,550.96 L579.28,550.87 L580.22,550.78 L581.17,550.68 L582.12,550.59 L583.06,550.49 L584.01,550.39 L584.96,550.29 L585.90,550.19 L586.85,550.08 L587.80,549.98 L588.74,549.87 L589.69,549.75 L590.64,549.64 L591.58,549.52 L592.53,549.41 L593.48,549.29 L594.42,549.17 L595.37,549.05 L596.32,548.92 L597.27,548.80 L598.21,548.67 L599.16,548.54 L600.11,548.41 L601.05,548.28 L602.00,548.15 L602.95,548.02 L603.89,547.89 L604.84,547.75 L605.79,547.62 L606.73,547.48 L607.68,547.34 L608.63,547.21 L609.57,547.07 L610.52,546.93 L611.47,546.79 L612.41,546.66 L613.36,546.52 L614.31,546.38 L615.26,546.24 L616.20,546.10 L617.15,545.96 L618.10,545.82 L619.04,545.67 L619.99,545.53 L620.94,545.39 L621.88,545.25 L622.83,545.11 L623.78,544.96 L624.72,544.82 L625.67,544.68 L626.62,544.53 L627.56,544.39 L628.51,544.25 L629.46,544.10 L630.40,543.96 L631.35,543.81 L632.30,543.67 L633.24,543.52 L634.19,543.38 L635.14,543.23 L636.09,543.09 L637.03,542.94 L637.98,542.80 L638.93,542.65 L639.87,542.51 L640.82,542.36 L641.77,542.21 L642.71,542.07 L643.66,541.93 L644.61,541.78 L645.55,541.64 L646.50,541.49 L647.45,541.35 L648.39,541.21 L649.34,541.06 L650.29,540.92 L651.23,540.78 L652.18,540.64 L653.13,540.50 L654.07,540.36 L655.02,540.22 L655.97,540.09 L656.92,539.95 L657.86,539.81 L658.81,539.68 L659.76,539.54 L660.70,539.41 L661.65,539.28 L662.60,539.15 L663.54,539.02 L664.49,538.89 L665.44,538.76 L666.38,538.63 L667.33,538.50 L668.28,538.38 L669.22,538.25 L670.17,538.13 L671.12,538.00 L672.06,537.88 L673.01,537.76 L673.96,537.64 L674.90,537.52 L675.85,537.40 L676.80,537.28 L677.75,537.16 L678.69,537.04 L679.64,536.92 L680.59,536.80 L681.53,536.69 L682.48,536.57 L683.43,536.46 L684.37,536.34 L685.32,536.23 L686.27,536.11 L687.21,536.00 L688.16,535.88 L689.11,535.77 L690.05,535.66 L691.00,535.55 L691.95,535.43 L692.89,535.32 L693.84,535.21 L694.79,535.10 L695.73,534.99 L696.68,534.88 L697.63,534.77 L698.58,534.66 L699.52,534.55 L700.47,534.44 L701.42,534.33 L702.36,534.22 L703.31,534.11 L704.26,534.00 L705.20,533.89 L706.15,533.78" stroke="#1f77b4" stroke-width="3.8" fill="none" stroke-dasharray="10.6 6.45" stroke-dashoffset="0"/>
<path d="M423.05,547.73 L424.00,550.60 L424.94,553.49 L425.89,556.41 L426.84,559.36 L427.78,562.35 L428.73,565.41 L429.68,568.49 L430.62,571.58 L431.57,574.60 L432.52,577.54 L433.47,580.34 L434.41,582.96 L435.36,585.36 L436.31,587.49 L437.25,589.35 L438.20,590.95 L439.15,592.30 L440.09,593.41 L441.04,594.30 L441.99,594.96 L442.93,595.42 L443.88,595.68 L444.83,595.76 L445.77,595.67 L446.72,595.41 L447.67,594.98 L448.61,594.38 L449.56,593.60 L450.51,592.63 L451.45,591.47 L452.40,590.10 L453.35,588.53 L454.30,586.76 L455.24,584.78 L456.19,582.62 L457.14,580.30 L458.08,577.83 L459.03,575.22 L459.98,572.48 L460.92,569.64 L461.87,566.71 L462.82,563.70 L463.76,560.64 L464.71,557.55 L465.66,554.45 L466.60,551.37 L467.55,548.34 L468.50,545.37 L469.44,542.50 L470.39,539.75 L471.34,537.14 L472.28,534.68 L473.23,532.37 L474.18,530.20 L475.13,528.16 L476.07,526.25 L477.02,524.46 L477.97,522.79 L478.91,521.23 L479.86,519.77 L480.81,518.40 L481.75,517.13 L482.70,515.95 L483.65,514.87 L484.59,513.89 L485.54,513.02 L486.49,512.27 L487.43,511.63 L488.38,511.13 L489.33,510.75 L490.27,510.52 L491.22,510.42 L492.17,510.48 L493.11,510.70 L494.06,511.10 L495.01,511.68 L495.96,512.44 L496.90,513.41 L497.85,514.58 L498.80,515.98 L499.74,517.59 L500.69,519.40 L501.64,521.38 L502.58,523.51 L503.53,525.76 L504.48,528.12 L505.42,530.56 L506.37,533.05 L507.32,535.57 L508.26,538.11 L509.21,540.64 L510.16,543.16 L511.10,545.66 L512.05,548.14 L513.00,550.58 L513.94,552.97 L514.89,555.30 L515.84,557.58 L516.79,559.78 L517.73,561.91 L518.68,563.97 L519.63,565.96 L520.57,567.90 L521.52,569.78 L522.47,571.61 L523.41,573.40 L524.36,575.15 L525.31,576.86 L526.25,578.54 L527.20,580.18 L528.15,581.79 L529.09,583.33 L530.04,584.79 L530.99,586.15 L531.93,587.40 L532.88,588.51 L533.83,589.47 L534.78,590.26 L535.72,590.86 L536.67,591.26 L537.62,591.44 L538.56,591.42 L539.51,591.20 L540.46,590.78 L541.40,590.18 L542.35,589.39 L543.30,588.44 L544.24,587.32 L545.19,586.04 L546.14,584.62 L547.08,583.05 L548.03,581.35 L548.98,579.54 L549.92,577.61 L550.87,575.60 L551.82,573.49 L552.76,571.31 L553.71,569.07 L554.66,566.77 L555.61,564.43 L556.55,562.04 L557.50,559.63 L558.45,557.18 L559.39,554.71 L560.34,552.23 L561.29,549.73 L562.23,547.23 L563.18,544.73 L564.13,542.25 L565.07,539.80 L566.02,537.41 L566.97,535.10 L567.91,532.89 L568.86,530.80 L569.81,528.86 L570.75,527.09 L571.70,525.50 L572.65,524.12 L573.59,522.93 L574.54,521.93 L575.49,521.10 L576.44,520.45 L577.38,519.95 L578.33,519.61 L579.28,519.40 L580.22,519.34 L581.17,519.40 L582.12,519.61 L583.06,519.96 L584.01,520.45 L584.96,521.08 L585.90,521.86 L586.85,522.79 L587.80,523.87 L588.74,525.10 L589.69,526.49 L590.64,528.02 L591.58,529.69 L592.53,531.46 L593.48,533.34 L594.42,535.29 L595.37,537.30 L596.32,539.37 L597.27,541.46 L598.21,543.56 L599.16,545.66 L600.11,547.75 L601.05,549.80 L602.00,551.83 L602.95,553.82 L603.89,555.77 L604.84,557.68 L605.79,559.55 L606.73,561.36 L607.68,563.11 L608.63,564.80 L609.57,566.43 L610.52,567.99 L611.47,569.49 L612.41,570.92 L613.36,572.30 L614.31,573.62 L615.26,574.88 L616.20,576.09 L617.15,577.26 L618.10,578.38 L619.04,579.45 L619.99,580.49 L620.94,581.47 L621.88,582.39 L622.83,583.23 L623.78,583.98 L624.72,584.61 L625.67,585.12 L626.62,585.49 L627.56,585.71 L628.51,585.75 L629.46,585.60 L630.40,585.26 L631.35,584.73 L632.30,584.01 L633.24,583.12 L634.19,582.07 L635.14,580.86 L636.09,579.50 L637.03,578.01 L637.98,576.39 L638.93,574.65 L639.87,572.80 L640.82,570.85 L641.77,568.82 L642.71,566.72 L643.66,564.57 L644.61,562.38 L645.55,560.17 L646.50,557.95 L647.45,555.74 L648.39,553.55 L649.34,551.40 L650.29,549.30 L651.23,547.26 L652.18,545.28 L653.13,543.36 L654.07,541.50 L655.02,539.72 L655.97,538.00 L656.92,536.35 L657.86,534.77 L658.81,533.26 L659.76,531.83 L660.70,530.48 L661.65,529.22 L662.60,528.04 L663.54,526.96 L664.49,525.98 L665.44,525.11 L666.38,524.36 L667.33,523.72 L668.28,523.22 L669.22,522.84 L670.17,522.60 L671.12,522.50 L672.06,522.53 L673.01,522.69 L673.96,522.97 L674.90,523.36 L675.85,523.86 L676.80,524.47 L677.75,525.17 L678.69,525.97 L679.64,526.85 L680.59,527.82 L681.53,528.86 L682.48,529.97 L683.43,531.16 L684.37,532.41 L685.32,533.73 L686.27,535.11 L687.21,536.55 L688.16,538.05 L689.11,539.60 L690.05,541.20 L691.00,542.84 L691.95,544.52 L692.89,546.23 L693.84,547.94 L694.79,549.66 L695.73,551.36 L696.68,553.04 L697.63,554.69 L698.58,556.29 L699.52,557.84 L700.47,559.32 L701.42,560.73 L702.36,562.09 L703.31,563.40 L704.26,564.68 L705.20,565.94 L706.15,567.19" stroke="#ff7f0e" stroke-width="3.8" fill="none" stroke-dasharray="10.6 6.45" stroke-dashoffset="3.5"/>
</g>
<rect x="408.85" y="415.70" width="312.10" height="263.45" fill="none" stroke="#000" stroke-width="3"/>
<path d="M396.45,427.68H408.85M396.45,547.42H408.85M396.45,667.17H408.85M423.05,679.15V691.55M613.05,679.15V691.55" stroke="#000" stroke-width="3" fill="none"/>
<text transform="translate(595.37,654.92) scale(0.9639,1)" font-size="34.44">(b.ii)</text>
<g clip-path="url(#cp12)">
<path d="M750.55,536.48L764.25,550.18M750.55,550.18L764.25,536.48M769.55,526.42L783.25,540.12M769.55,540.12L783.25,526.42M788.55,535.23L802.25,548.93M788.55,548.93L802.25,535.23M807.55,523.40L821.25,537.10M807.55,537.10L821.25,523.40M826.55,530.19L840.25,543.89M826.55,543.89L840.25,530.19M845.55,529.44L859.25,543.14M845.55,543.14L859.25,529.44M864.55,525.16L878.25,538.86M864.55,538.86L878.25,525.16M883.55,520.63L897.25,534.33M883.55,534.33L897.25,520.63M902.55,518.11L916.25,531.81M902.55,531.81L916.25,518.11M921.55,516.35L935.25,530.05M921.55,530.05L935.25,516.35M940.55,528.43L954.25,542.13M940.55,542.13L954.25,528.43M959.55,515.10L973.25,528.80M959.55,528.80L973.25,515.10M978.55,508.80L992.25,522.50M978.55,522.50L992.25,508.80M997.55,503.77L1011.25,517.47M997.55,517.47L1011.25,503.77M1016.55,510.82L1030.25,524.52M1016.55,524.52L1030.25,510.82" stroke="#000" stroke-width="3.8" fill="none"/>
<path d="M757.40,545.79 L758.35,545.60 L759.29,545.41 L760.24,545.23 L761.19,545.04 L762.13,544.85 L763.08,544.67 L764.03,544.48 L764.97,544.29 L765.92,544.11 L766.87,543.92 L767.82,543.73 L768.76,543.55 L769.71,543.36 L770.66,543.17 L771.60,542.99 L772.55,542.80 L773.50,542.62 L774.44,542.43 L775.39,542.25 L776.34,542.06 L777.28,541.88 L778.23,541.69 L779.18,541.51 L780.12,541.33 L781.07,541.14 L782.02,540.96 L782.96,540.78 L783.91,540.59 L784.86,540.41 L785.80,540.23 L786.75,540.05 L787.70,539.87 L788.65,539.69 L789.59,539.51 L790.54,539.33 L791.49,539.15 L792.43,538.97 L793.38,538.79 L794.33,538.62 L795.27,538.44 L796.22,538.26 L797.17,538.09 L798.11,537.91 L799.06,537.74 L800.01,537.57 L800.95,537.40 L801.90,537.22 L802.85,537.05 L803.79,536.89 L804.74,536.72 L805.69,536.55 L806.63,536.39 L807.58,536.22 L808.53,536.06 L809.48,535.90 L810.42,535.74 L811.37,535.58 L812.32,535.43 L813.26,535.27 L814.21,535.12 L815.16,534.97 L816.10,534.82 L817.05,534.67 L818.00,534.53 L818.94,534.38 L819.89,534.24 L820.84,534.10 L821.78,533.97 L822.73,533.83 L823.68,533.70 L824.62,533.57 L825.57,533.45 L826.52,533.32 L827.46,533.20 L828.41,533.08 L829.36,532.97 L830.31,532.85 L831.25,532.74 L832.20,532.64 L833.15,532.53 L834.09,532.43 L835.04,532.33 L835.99,532.24 L836.93,532.14 L837.88,532.05 L838.83,531.96 L839.77,531.87 L840.72,531.78 L841.67,531.70 L842.61,531.62 L843.56,531.53 L844.51,531.45 L845.45,531.37 L846.40,531.30 L847.35,531.22 L848.29,531.14 L849.24,531.07 L850.19,530.99 L851.14,530.92 L852.08,530.85 L853.03,530.77 L853.98,530.70 L854.92,530.63 L855.87,530.56 L856.82,530.48 L857.76,530.41 L858.71,530.34 L859.66,530.26 L860.60,530.19 L861.55,530.11 L862.50,530.03 L863.44,529.96 L864.39,529.88 L865.34,529.80 L866.28,529.72 L867.23,529.64 L868.18,529.55 L869.13,529.47 L870.07,529.38 L871.02,529.29 L871.97,529.20 L872.91,529.11 L873.86,529.01 L874.81,528.92 L875.75,528.82 L876.70,528.73 L877.65,528.63 L878.59,528.53 L879.54,528.43 L880.49,528.33 L881.43,528.23 L882.38,528.13 L883.33,528.03 L884.27,527.93 L885.22,527.83 L886.17,527.73 L887.11,527.63 L888.06,527.52 L889.01,527.42 L889.96,527.32 L890.90,527.22 L891.85,527.12 L892.80,527.02 L893.74,526.93 L894.69,526.83 L895.64,526.73 L896.58,526.64 L897.53,526.54 L898.48,526.45 L899.42,526.36 L900.37,526.27 L901.32,526.18 L902.26,526.09 L903.21,526.01 L904.16,525.92 L905.10,525.84 L906.05,525.76 L907.00,525.68 L907.94,525.61 L908.89,525.54 L909.84,525.47 L910.79,525.40 L911.73,525.33 L912.68,525.26 L913.63,525.20 L914.57,525.14 L915.52,525.08 L916.47,525.02 L917.41,524.96 L918.36,524.91 L919.31,524.85 L920.25,524.80 L921.20,524.75 L922.15,524.70 L923.09,524.65 L924.04,524.60 L924.99,524.55 L925.93,524.51 L926.88,524.46 L927.83,524.42 L928.77,524.37 L929.72,524.33 L930.67,524.29 L931.62,524.25 L932.56,524.20 L933.51,524.16 L934.46,524.12 L935.40,524.08 L936.35,524.04 L937.30,524.00 L938.24,523.96 L939.19,523.92 L940.14,523.88 L941.08,523.84 L942.03,523.80 L942.98,523.76 L943.92,523.72 L944.87,523.68 L945.82,523.64 L946.76,523.60 L947.71,523.56 L948.66,523.52 L949.61,523.47 L950.55,523.43 L951.50,523.39 L952.45,523.34 L953.39,523.30 L954.34,523.26 L955.29,523.21 L956.23,523.17 L957.18,523.13 L958.13,523.08 L959.07,523.04 L960.02,522.99 L960.97,522.95 L961.91,522.90 L962.86,522.86 L963.81,522.81 L964.75,522.77 L965.70,522.72 L966.65,522.68 L967.59,522.63 L968.54,522.59 L969.49,522.54 L970.44,522.49 L971.38,522.45 L972.33,522.40 L973.28,522.36 L974.22,522.31 L975.17,522.27 L976.12,522.22 L977.06,522.18 L978.01,522.13 L978.96,522.09 L979.90,522.05 L980.85,522.00 L981.80,521.96 L982.74,521.91 L983.69,521.87 L984.64,521.83 L985.58,521.78 L986.53,521.74 L987.48,521.70 L988.42,521.66 L989.37,521.61 L990.32,521.57 L991.27,521.53 L992.21,521.49 L993.16,521.45 L994.11,521.41 L995.05,521.38 L996.00,521.34 L996.95,521.30 L997.89,521.26 L998.84,521.23 L999.79,521.19 L1000.73,521.16 L1001.68,521.13 L1002.63,521.09 L1003.57,521.06 L1004.52,521.03 L1005.47,521.00 L1006.41,520.97 L1007.36,520.94 L1008.31,520.92 L1009.25,520.89 L1010.20,520.87 L1011.15,520.84 L1012.10,520.82 L1013.04,520.80 L1013.99,520.78 L1014.94,520.76 L1015.88,520.74 L1016.83,520.73 L1017.78,520.71 L1018.72,520.70 L1019.67,520.69 L1020.62,520.68 L1021.56,520.67 L1022.51,520.66 L1023.46,520.65 L1024.40,520.65 L1025.35,520.65 L1026.30,520.64 L1027.24,520.64 L1028.19,520.64 L1029.14,520.64 L1030.08,520.64 L1031.03,520.64 L1031.98,520.64 L1032.93,520.65 L1033.87,520.65 L1034.82,520.65 L1035.77,520.66 L1036.71,520.66 L1037.66,520.67 L1038.61,520.67 L1039.55,520.68 L1040.50,520.68" stroke="#1f77b4" stroke-width="3.8" fill="none" stroke-dasharray="10.6 6.45" stroke-dashoffset="0"/>
<path d="M757.40,547.81 L758.35,547.66 L759.29,547.51 L760.24,547.36 L761.19,547.21 L762.13,547.06 L763.08,546.90 L764.03,546.75 L764.97,546.60 L765.92,546.45 L766.87,546.30 L767.82,546.15 L768.76,545.99 L769.71,545.84 L770.66,545.69 L771.60,545.54 L772.55,545.39 L773.50,545.24 L774.44,545.08 L775.39,544.93 L776.34,544.78 L777.28,544.63 L778.23,544.48 L779.18,544.33 L780.12,544.18 L781.07,544.03 L782.02,543.87 L782.96,543.72 L783.91,543.57 L784.86,543.42 L785.80,543.27 L786.75,543.12 L787.70,542.97 L788.65,542.82 L789.59,542.67 L790.54,542.52 L791.49,542.37 L792.43,542.22 L793.38,542.07 L794.33,541.92 L795.27,541.77 L796.22,541.62 L797.17,541.47 L798.11,541.32 L799.06,541.17 L800.01,541.02 L800.95,540.87 L801.90,540.72 L802.85,540.57 L803.79,540.42 L804.74,540.28 L805.69,540.13 L806.63,539.98 L807.58,539.83 L808.53,539.69 L809.48,539.54 L810.42,539.39 L811.37,539.24 L812.32,539.10 L813.26,538.95 L814.21,538.81 L815.16,538.66 L816.10,538.52 L817.05,538.37 L818.00,538.23 L818.94,538.09 L819.89,537.94 L820.84,537.80 L821.78,537.66 L822.73,537.52 L823.68,537.37 L824.62,537.23 L825.57,537.09 L826.52,536.95 L827.46,536.81 L828.41,536.68 L829.36,536.54 L830.31,536.40 L831.25,536.26 L832.20,536.13 L833.15,535.99 L834.09,535.85 L835.04,535.72 L835.99,535.59 L836.93,535.45 L837.88,535.32 L838.83,535.19 L839.77,535.05 L840.72,534.92 L841.67,534.79 L842.61,534.66 L843.56,534.53 L844.51,534.40 L845.45,534.27 L846.40,534.14 L847.35,534.02 L848.29,533.89 L849.24,533.76 L850.19,533.64 L851.14,533.51 L852.08,533.39 L853.03,533.26 L853.98,533.14 L854.92,533.01 L855.87,532.89 L856.82,532.77 L857.76,532.65 L858.71,532.52 L859.66,532.40 L860.60,532.28 L861.55,532.16 L862.50,532.04 L863.44,531.92 L864.39,531.80 L865.34,531.69 L866.28,531.57 L867.23,531.45 L868.18,531.33 L869.13,531.22 L870.07,531.10 L871.02,530.99 L871.97,530.87 L872.91,530.76 L873.86,530.64 L874.81,530.53 L875.75,530.42 L876.70,530.30 L877.65,530.19 L878.59,530.08 L879.54,529.97 L880.49,529.86 L881.43,529.75 L882.38,529.64 L883.33,529.53 L884.27,529.42 L885.22,529.31 L886.17,529.20 L887.11,529.10 L888.06,528.99 L889.01,528.88 L889.96,528.77 L890.90,528.67 L891.85,528.56 L892.80,528.46 L893.74,528.35 L894.69,528.25 L895.64,528.15 L896.58,528.04 L897.53,527.94 L898.48,527.84 L899.42,527.73 L900.37,527.63 L901.32,527.53 L902.26,527.43 L903.21,527.33 L904.16,527.23 L905.10,527.13 L906.05,527.03 L907.00,526.93 L907.94,526.83 L908.89,526.74 L909.84,526.64 L910.79,526.54 L911.73,526.44 L912.68,526.35 L913.63,526.25 L914.57,526.16 L915.52,526.06 L916.47,525.96 L917.41,525.87 L918.36,525.77 L919.31,525.68 L920.25,525.58 L921.20,525.49 L922.15,525.40 L923.09,525.30 L924.04,525.21 L924.99,525.11 L925.93,525.02 L926.88,524.93 L927.83,524.83 L928.77,524.74 L929.72,524.65 L930.67,524.55 L931.62,524.46 L932.56,524.37 L933.51,524.27 L934.46,524.18 L935.40,524.09 L936.35,523.99 L937.30,523.90 L938.24,523.81 L939.19,523.71 L940.14,523.62 L941.08,523.52 L942.03,523.43 L942.98,523.34 L943.92,523.24 L944.87,523.15 L945.82,523.05 L946.76,522.96 L947.71,522.86 L948.66,522.77 L949.61,522.67 L950.55,522.58 L951.50,522.48 L952.45,522.38 L953.39,522.29 L954.34,522.19 L955.29,522.10 L956.23,522.00 L957.18,521.91 L958.13,521.81 L959.07,521.71 L960.02,521.62 L960.97,521.52 L961.91,521.43 L962.86,521.33 L963.81,521.24 L964.75,521.14 L965.70,521.04 L966.65,520.95 L967.59,520.85 L968.54,520.76 L969.49,520.66 L970.44,520.57 L971.38,520.48 L972.33,520.38 L973.28,520.29 L974.22,520.19 L975.17,520.10 L976.12,520.01 L977.06,519.91 L978.01,519.82 L978.96,519.73 L979.90,519.64 L980.85,519.54 L981.80,519.45 L982.74,519.36 L983.69,519.27 L984.64,519.18 L985.58,519.09 L986.53,519.00 L987.48,518.91 L988.42,518.82 L989.37,518.74 L990.32,518.65 L991.27,518.56 L992.21,518.47 L993.16,518.39 L994.11,518.30 L995.05,518.22 L996.00,518.13 L996.95,518.05 L997.89,517.96 L998.84,517.88 L999.79,517.80 L1000.73,517.71 L1001.68,517.63 L1002.63,517.55 L1003.57,517.47 L1004.52,517.39 L1005.47,517.31 L1006.41,517.23 L1007.36,517.15 L1008.31,517.07 L1009.25,516.99 L1010.20,516.91 L1011.15,516.84 L1012.10,516.76 L1013.04,516.68 L1013.99,516.61 L1014.94,516.53 L1015.88,516.46 L1016.83,516.38 L1017.78,516.31 L1018.72,516.24 L1019.67,516.17 L1020.62,516.10 L1021.56,516.03 L1022.51,515.96 L1023.46,515.89 L1024.40,515.82 L1025.35,515.75 L1026.30,515.68 L1027.24,515.61 L1028.19,515.55 L1029.14,515.48 L1030.08,515.41 L1031.03,515.35 L1031.98,515.28 L1032.93,515.21 L1033.87,515.15 L1034.82,515.08 L1035.77,515.02 L1036.71,514.95 L1037.66,514.89 L1038.61,514.82 L1039.55,514.76 L1040.50,514.69" stroke="#ff7f0e" stroke-width="3.8" fill="none" stroke-dasharray="10.6 6.45" stroke-dashoffset="3.5"/>
</g>
<rect x="743.20" y="415.70" width="312.10" height="263.45" fill="none" stroke="#000" stroke-width="3"/>
<path d="M730.80,427.68H743.20M730.80,547.42H743.20M730.80,667.17H743.20M757.40,679.15V691.55M947.40,679.15V691.55" stroke="#000" stroke-width="3" fill="none"/>
<text transform="translate(933.32,654.92) scale(0.9389,1)" font-size="34.44">(c.ii)</text>
<g clip-path="url(#cp13)">
<path d="M1084.90,541.52L1098.60,555.22M1084.90,555.22L1098.60,541.52M1103.90,539.50L1117.60,553.20M1103.90,553.20L1117.60,539.50M1122.90,538.50L1136.60,552.20M1122.90,552.20L1136.60,538.50M1141.90,539.50L1155.60,553.20M1141.90,553.20L1155.60,539.50M1160.90,531.45L1174.60,545.15M1160.90,545.15L1174.60,531.45M1179.90,536.48L1193.60,550.18M1179.90,550.18L1193.60,536.48M1198.90,540.26L1212.60,553.96M1198.90,553.96L1212.60,540.26M1217.90,545.29L1231.60,558.99M1217.90,558.99L1231.60,545.29M1236.90,533.46L1250.60,547.16M1236.90,547.16L1250.60,533.46M1255.90,535.98L1269.60,549.68M1255.90,549.68L1269.60,535.98M1274.90,532.71L1288.60,546.41M1274.90,546.41L1288.60,532.71M1293.90,535.23L1307.60,548.93M1293.90,548.93L1307.60,535.23M1312.90,526.92L1326.60,540.62M1312.90,540.62L1326.60,526.92M1331.90,539.50L1345.60,553.20M1331.90,553.20L1345.60,539.50M1350.90,539.00L1364.60,552.70M1350.90,552.70L1364.60,539.00" stroke="#000" stroke-width="3.8" fill="none"/>
<path d="M1091.75,545.85 L1092.70,545.84 L1093.64,545.83 L1094.59,545.82 L1095.54,545.81 L1096.48,545.80 L1097.43,545.79 L1098.38,545.78 L1099.32,545.77 L1100.27,545.76 L1101.22,545.75 L1102.17,545.74 L1103.11,545.73 L1104.06,545.72 L1105.01,545.71 L1105.95,545.70 L1106.90,545.69 L1107.85,545.68 L1108.79,545.67 L1109.74,545.66 L1110.69,545.65 L1111.63,545.64 L1112.58,545.63 L1113.53,545.63 L1114.47,545.62 L1115.42,545.61 L1116.37,545.60 L1117.31,545.59 L1118.26,545.58 L1119.21,545.57 L1120.15,545.56 L1121.10,545.55 L1122.05,545.54 L1123.00,545.53 L1123.94,545.52 L1124.89,545.51 L1125.84,545.50 L1126.78,545.49 L1127.73,545.48 L1128.68,545.47 L1129.62,545.46 L1130.57,545.45 L1131.52,545.44 L1132.46,545.44 L1133.41,545.43 L1134.36,545.42 L1135.30,545.41 L1136.25,545.40 L1137.20,545.39 L1138.14,545.38 L1139.09,545.37 L1140.04,545.36 L1140.98,545.35 L1141.93,545.34 L1142.88,545.33 L1143.83,545.32 L1144.77,545.31 L1145.72,545.30 L1146.67,545.30 L1147.61,545.29 L1148.56,545.28 L1149.51,545.27 L1150.45,545.26 L1151.40,545.25 L1152.35,545.24 L1153.29,545.23 L1154.24,545.22 L1155.19,545.21 L1156.13,545.20 L1157.08,545.20 L1158.03,545.19 L1158.97,545.18 L1159.92,545.17 L1160.87,545.16 L1161.81,545.15 L1162.76,545.14 L1163.71,545.13 L1164.66,545.12 L1165.60,545.12 L1166.55,545.11 L1167.50,545.10 L1168.44,545.09 L1169.39,545.08 L1170.34,545.07 L1171.28,545.06 L1172.23,545.05 L1173.18,545.05 L1174.12,545.04 L1175.07,545.03 L1176.02,545.02 L1176.96,545.01 L1177.91,545.00 L1178.86,544.99 L1179.80,544.99 L1180.75,544.98 L1181.70,544.97 L1182.64,544.96 L1183.59,544.95 L1184.54,544.94 L1185.49,544.94 L1186.43,544.93 L1187.38,544.92 L1188.33,544.91 L1189.27,544.90 L1190.22,544.89 L1191.17,544.89 L1192.11,544.88 L1193.06,544.87 L1194.01,544.86 L1194.95,544.85 L1195.90,544.85 L1196.85,544.84 L1197.79,544.83 L1198.74,544.82 L1199.69,544.81 L1200.63,544.81 L1201.58,544.80 L1202.53,544.79 L1203.48,544.78 L1204.42,544.77 L1205.37,544.77 L1206.32,544.76 L1207.26,544.75 L1208.21,544.74 L1209.16,544.74 L1210.10,544.73 L1211.05,544.72 L1212.00,544.71 L1212.94,544.71 L1213.89,544.70 L1214.84,544.69 L1215.78,544.68 L1216.73,544.68 L1217.68,544.67 L1218.62,544.66 L1219.57,544.65 L1220.52,544.65 L1221.46,544.64 L1222.41,544.63 L1223.36,544.63 L1224.31,544.62 L1225.25,544.61 L1226.20,544.61 L1227.15,544.60 L1228.09,544.59 L1229.04,544.58 L1229.99,544.58 L1230.93,544.57 L1231.88,544.56 L1232.83,544.56 L1233.77,544.55 L1234.72,544.54 L1235.67,544.54 L1236.61,544.53 L1237.56,544.52 L1238.51,544.52 L1239.45,544.51 L1240.40,544.51 L1241.35,544.50 L1242.29,544.49 L1243.24,544.49 L1244.19,544.48 L1245.14,544.47 L1246.08,544.47 L1247.03,544.46 L1247.98,544.46 L1248.92,544.45 L1249.87,544.44 L1250.82,544.44 L1251.76,544.43 L1252.71,544.43 L1253.66,544.42 L1254.60,544.41 L1255.55,544.41 L1256.50,544.40 L1257.44,544.40 L1258.39,544.39 L1259.34,544.38 L1260.28,544.38 L1261.23,544.37 L1262.18,544.37 L1263.12,544.36 L1264.07,544.36 L1265.02,544.35 L1265.97,544.35 L1266.91,544.34 L1267.86,544.33 L1268.81,544.33 L1269.75,544.32 L1270.70,544.32 L1271.65,544.31 L1272.59,544.31 L1273.54,544.30 L1274.49,544.30 L1275.43,544.29 L1276.38,544.29 L1277.33,544.28 L1278.27,544.28 L1279.22,544.27 L1280.17,544.27 L1281.11,544.26 L1282.06,544.26 L1283.01,544.25 L1283.96,544.25 L1284.90,544.24 L1285.85,544.24 L1286.80,544.23 L1287.74,544.23 L1288.69,544.22 L1289.64,544.22 L1290.58,544.21 L1291.53,544.21 L1292.48,544.20 L1293.42,544.20 L1294.37,544.19 L1295.32,544.19 L1296.26,544.18 L1297.21,544.18 L1298.16,544.17 L1299.10,544.17 L1300.05,544.16 L1301.00,544.16 L1301.94,544.15 L1302.89,544.15 L1303.84,544.15 L1304.79,544.14 L1305.73,544.14 L1306.68,544.13 L1307.63,544.13 L1308.57,544.12 L1309.52,544.12 L1310.47,544.11 L1311.41,544.11 L1312.36,544.11 L1313.31,544.10 L1314.25,544.10 L1315.20,544.09 L1316.15,544.09 L1317.09,544.08 L1318.04,544.08 L1318.99,544.07 L1319.93,544.07 L1320.88,544.07 L1321.83,544.06 L1322.77,544.06 L1323.72,544.05 L1324.67,544.05 L1325.62,544.05 L1326.56,544.04 L1327.51,544.04 L1328.46,544.03 L1329.40,544.03 L1330.35,544.02 L1331.30,544.02 L1332.24,544.02 L1333.19,544.01 L1334.14,544.01 L1335.08,544.00 L1336.03,544.00 L1336.98,544.00 L1337.92,543.99 L1338.87,543.99 L1339.82,543.98 L1340.76,543.98 L1341.71,543.98 L1342.66,543.97 L1343.60,543.97 L1344.55,543.96 L1345.50,543.96 L1346.45,543.96 L1347.39,543.95 L1348.34,543.95 L1349.29,543.94 L1350.23,543.94 L1351.18,543.94 L1352.13,543.93 L1353.07,543.93 L1354.02,543.92 L1354.97,543.92 L1355.91,543.92 L1356.86,543.91 L1357.81,543.91 L1358.75,543.90 L1359.70,543.90 L1360.65,543.90 L1361.59,543.89 L1362.54,543.89 L1363.49,543.89 L1364.43,543.88 L1365.38,543.88 L1366.33,543.87 L1367.28,543.87 L1368.22,543.87 L1369.17,543.86 L1370.12,543.86 L1371.06,543.85 L1372.01,543.85 L1372.96,543.85 L1373.90,543.84 L1374.85,543.84" stroke="#1f77b4" stroke-width="3.8" fill="none" stroke-dasharray="10.6 6.45" stroke-dashoffset="2.5"/>
<path d="M1091.75,546.35 L1092.70,546.33 L1093.64,546.31 L1094.59,546.29 L1095.54,546.28 L1096.48,546.26 L1097.43,546.24 L1098.38,546.22 L1099.32,546.20 L1100.27,546.19 L1101.22,546.17 L1102.17,546.15 L1103.11,546.13 L1104.06,546.12 L1105.01,546.10 L1105.95,546.08 L1106.90,546.06 L1107.85,546.04 L1108.79,546.03 L1109.74,546.01 L1110.69,545.99 L1111.63,545.97 L1112.58,545.96 L1113.53,545.94 L1114.47,545.92 L1115.42,545.90 L1116.37,545.89 L1117.31,545.87 L1118.26,545.85 L1119.21,545.83 L1120.15,545.81 L1121.10,545.80 L1122.05,545.78 L1123.00,545.76 L1123.94,545.74 L1124.89,545.73 L1125.84,545.71 L1126.78,545.69 L1127.73,545.67 L1128.68,545.66 L1129.62,545.64 L1130.57,545.62 L1131.52,545.60 L1132.46,545.58 L1133.41,545.57 L1134.36,545.55 L1135.30,545.53 L1136.25,545.51 L1137.20,545.50 L1138.14,545.48 L1139.09,545.46 L1140.04,545.44 L1140.98,545.43 L1141.93,545.41 L1142.88,545.39 L1143.83,545.37 L1144.77,545.36 L1145.72,545.34 L1146.67,545.32 L1147.61,545.30 L1148.56,545.29 L1149.51,545.27 L1150.45,545.25 L1151.40,545.23 L1152.35,545.21 L1153.29,545.20 L1154.24,545.18 L1155.19,545.16 L1156.13,545.14 L1157.08,545.13 L1158.03,545.11 L1158.97,545.09 L1159.92,545.07 L1160.87,545.06 L1161.81,545.04 L1162.76,545.02 L1163.71,545.00 L1164.66,544.99 L1165.60,544.97 L1166.55,544.95 L1167.50,544.93 L1168.44,544.92 L1169.39,544.90 L1170.34,544.88 L1171.28,544.86 L1172.23,544.85 L1173.18,544.83 L1174.12,544.81 L1175.07,544.80 L1176.02,544.78 L1176.96,544.76 L1177.91,544.74 L1178.86,544.73 L1179.80,544.71 L1180.75,544.69 L1181.70,544.67 L1182.64,544.66 L1183.59,544.64 L1184.54,544.62 L1185.49,544.60 L1186.43,544.59 L1187.38,544.57 L1188.33,544.55 L1189.27,544.54 L1190.22,544.52 L1191.17,544.50 L1192.11,544.48 L1193.06,544.47 L1194.01,544.45 L1194.95,544.43 L1195.90,544.41 L1196.85,544.40 L1197.79,544.38 L1198.74,544.36 L1199.69,544.35 L1200.63,544.33 L1201.58,544.31 L1202.53,544.29 L1203.48,544.28 L1204.42,544.26 L1205.37,544.24 L1206.32,544.23 L1207.26,544.21 L1208.21,544.19 L1209.16,544.17 L1210.10,544.16 L1211.05,544.14 L1212.00,544.12 L1212.94,544.11 L1213.89,544.09 L1214.84,544.07 L1215.78,544.06 L1216.73,544.04 L1217.68,544.02 L1218.62,544.00 L1219.57,543.99 L1220.52,543.97 L1221.46,543.95 L1222.41,543.94 L1223.36,543.92 L1224.31,543.90 L1225.25,543.89 L1226.20,543.87 L1227.15,543.85 L1228.09,543.84 L1229.04,543.82 L1229.99,543.80 L1230.93,543.79 L1231.88,543.77 L1232.83,543.75 L1233.77,543.73 L1234.72,543.72 L1235.67,543.70 L1236.61,543.68 L1237.56,543.67 L1238.51,543.65 L1239.45,543.63 L1240.40,543.62 L1241.35,543.60 L1242.29,543.58 L1243.24,543.57 L1244.19,543.55 L1245.14,543.53 L1246.08,543.52 L1247.03,543.50 L1247.98,543.48 L1248.92,543.47 L1249.87,543.45 L1250.82,543.43 L1251.76,543.42 L1252.71,543.40 L1253.66,543.39 L1254.60,543.37 L1255.55,543.35 L1256.50,543.34 L1257.44,543.32 L1258.39,543.30 L1259.34,543.29 L1260.28,543.27 L1261.23,543.25 L1262.18,543.24 L1263.12,543.22 L1264.07,543.20 L1265.02,543.19 L1265.97,543.17 L1266.91,543.15 L1267.86,543.14 L1268.81,543.12 L1269.75,543.11 L1270.70,543.09 L1271.65,543.07 L1272.59,543.06 L1273.54,543.04 L1274.49,543.02 L1275.43,543.01 L1276.38,542.99 L1277.33,542.98 L1278.27,542.96 L1279.22,542.94 L1280.17,542.93 L1281.11,542.91 L1282.06,542.89 L1283.01,542.88 L1283.96,542.86 L1284.90,542.85 L1285.85,542.83 L1286.80,542.81 L1287.74,542.80 L1288.69,542.78 L1289.64,542.76 L1290.58,542.75 L1291.53,542.73 L1292.48,542.72 L1293.42,542.70 L1294.37,542.68 L1295.32,542.67 L1296.26,542.65 L1297.21,542.63 L1298.16,542.62 L1299.10,542.60 L1300.05,542.59 L1301.00,542.57 L1301.94,542.55 L1302.89,542.54 L1303.84,542.52 L1304.79,542.51 L1305.73,542.49 L1306.68,542.47 L1307.63,542.46 L1308.57,542.44 L1309.52,542.43 L1310.47,542.41 L1311.41,542.39 L1312.36,542.38 L1313.31,542.36 L1314.25,542.35 L1315.20,542.33 L1316.15,542.31 L1317.09,542.30 L1318.04,542.28 L1318.99,542.27 L1319.93,542.25 L1320.88,542.23 L1321.83,542.22 L1322.77,542.20 L1323.72,542.19 L1324.67,542.17 L1325.62,542.15 L1326.56,542.14 L1327.51,542.12 L1328.46,542.11 L1329.40,542.09 L1330.35,542.07 L1331.30,542.06 L1332.24,542.04 L1333.19,542.03 L1334.14,542.01 L1335.08,541.99 L1336.03,541.98 L1336.98,541.96 L1337.92,541.95 L1338.87,541.93 L1339.82,541.91 L1340.76,541.90 L1341.71,541.88 L1342.66,541.87 L1343.60,541.85 L1344.55,541.83 L1345.50,541.82 L1346.45,541.80 L1347.39,541.79 L1348.34,541.77 L1349.29,541.76 L1350.23,541.74 L1351.18,541.72 L1352.13,541.71 L1353.07,541.69 L1354.02,541.68 L1354.97,541.66 L1355.91,541.64 L1356.86,541.63 L1357.81,541.61 L1358.75,541.60 L1359.70,541.58 L1360.65,541.56 L1361.59,541.55 L1362.54,541.53 L1363.49,541.52 L1364.43,541.50 L1365.38,541.49 L1366.33,541.47 L1367.28,541.45 L1368.22,541.44 L1369.17,541.42 L1370.12,541.41 L1371.06,541.39 L1372.01,541.37 L1372.96,541.36 L1373.90,541.34 L1374.85,541.33" stroke="#ff7f0e" stroke-width="3.8" fill="none" stroke-dasharray="10.6 6.45" stroke-dashoffset="3.5"/>
</g>
<rect x="1077.55" y="415.70" width="312.10" height="263.45" fill="none" stroke="#000" stroke-width="3"/>
<path d="M1065.15,427.68H1077.55M1065.15,547.42H1077.55M1065.15,667.17H1077.55M1091.75,679.15V691.55M1281.75,679.15V691.55" stroke="#000" stroke-width="3" fill="none"/>
<text transform="translate(1264.07,654.92) scale(0.9639,1)" font-size="34.44">(d.ii)</text>
<g clip-path="url(#cp14)">
<path d="M1419.25,532.71L1432.95,546.41M1419.25,546.41L1432.95,532.71M1438.25,544.03L1451.95,557.73M1438.25,557.73L1451.95,544.03M1457.25,542.02L1470.95,555.72M1457.25,555.72L1470.95,542.02M1476.25,544.03L1489.95,557.73M1476.25,557.73L1489.95,544.03M1495.25,545.29L1508.95,558.99M1495.25,558.99L1508.95,545.29M1514.25,541.01L1527.95,554.71M1514.25,554.71L1527.95,541.01M1533.25,539.50L1546.95,553.20M1533.25,553.20L1546.95,539.50M1552.25,546.05L1565.95,559.75M1552.25,559.75L1565.95,546.05M1571.25,539.00L1584.95,552.70M1571.25,552.70L1584.95,539.00M1590.25,549.07L1603.95,562.77M1590.25,562.77L1603.95,549.07M1609.25,541.52L1622.95,555.22M1609.25,555.22L1622.95,541.52M1628.25,543.53L1641.95,557.23M1628.25,557.23L1641.95,543.53M1647.25,545.29L1660.95,558.99M1647.25,558.99L1660.95,545.29M1666.25,540.26L1679.95,553.96M1666.25,553.96L1679.95,540.26M1685.25,547.81L1698.95,561.51M1685.25,561.51L1698.95,547.81" stroke="#000" stroke-width="3.8" fill="none"/>
<path d="M1426.10,548.36 L1427.05,548.36 L1427.99,548.36 L1428.94,548.35 L1429.89,548.35 L1430.83,548.35 L1431.78,548.34 L1432.73,548.34 L1433.67,548.34 L1434.62,548.33 L1435.57,548.33 L1436.52,548.33 L1437.46,548.32 L1438.41,548.32 L1439.36,548.32 L1440.30,548.31 L1441.25,548.31 L1442.20,548.30 L1443.14,548.30 L1444.09,548.30 L1445.04,548.29 L1445.98,548.29 L1446.93,548.29 L1447.88,548.28 L1448.82,548.28 L1449.77,548.28 L1450.72,548.27 L1451.66,548.27 L1452.61,548.27 L1453.56,548.26 L1454.50,548.26 L1455.45,548.25 L1456.40,548.25 L1457.35,548.25 L1458.29,548.24 L1459.24,548.24 L1460.19,548.24 L1461.13,548.23 L1462.08,548.23 L1463.03,548.23 L1463.97,548.22 L1464.92,548.22 L1465.87,548.22 L1466.81,548.21 L1467.76,548.21 L1468.71,548.21 L1469.65,548.20 L1470.60,548.20 L1471.55,548.19 L1472.49,548.19 L1473.44,548.19 L1474.39,548.18 L1475.33,548.18 L1476.28,548.18 L1477.23,548.17 L1478.18,548.17 L1479.12,548.17 L1480.07,548.16 L1481.02,548.16 L1481.96,548.16 L1482.91,548.15 L1483.86,548.15 L1484.80,548.15 L1485.75,548.14 L1486.70,548.14 L1487.64,548.13 L1488.59,548.13 L1489.54,548.13 L1490.48,548.12 L1491.43,548.12 L1492.38,548.12 L1493.32,548.11 L1494.27,548.11 L1495.22,548.11 L1496.16,548.10 L1497.11,548.10 L1498.06,548.10 L1499.01,548.09 L1499.95,548.09 L1500.90,548.09 L1501.85,548.08 L1502.79,548.08 L1503.74,548.08 L1504.69,548.07 L1505.63,548.07 L1506.58,548.06 L1507.53,548.06 L1508.47,548.06 L1509.42,548.05 L1510.37,548.05 L1511.31,548.05 L1512.26,548.04 L1513.21,548.04 L1514.15,548.04 L1515.10,548.03 L1516.05,548.03 L1516.99,548.03 L1517.94,548.02 L1518.89,548.02 L1519.84,548.02 L1520.78,548.01 L1521.73,548.01 L1522.68,548.01 L1523.62,548.00 L1524.57,548.00 L1525.52,548.00 L1526.46,547.99 L1527.41,547.99 L1528.36,547.98 L1529.30,547.98 L1530.25,547.98 L1531.20,547.97 L1532.14,547.97 L1533.09,547.97 L1534.04,547.96 L1534.98,547.96 L1535.93,547.96 L1536.88,547.95 L1537.83,547.95 L1538.77,547.95 L1539.72,547.94 L1540.67,547.94 L1541.61,547.94 L1542.56,547.93 L1543.51,547.93 L1544.45,547.93 L1545.40,547.92 L1546.35,547.92 L1547.29,547.92 L1548.24,547.91 L1549.19,547.91 L1550.13,547.91 L1551.08,547.90 L1552.03,547.90 L1552.97,547.90 L1553.92,547.89 L1554.87,547.89 L1555.81,547.89 L1556.76,547.88 L1557.71,547.88 L1558.66,547.88 L1559.60,547.87 L1560.55,547.87 L1561.50,547.87 L1562.44,547.86 L1563.39,547.86 L1564.34,547.86 L1565.28,547.85 L1566.23,547.85 L1567.18,547.85 L1568.12,547.84 L1569.07,547.84 L1570.02,547.84 L1570.96,547.83 L1571.91,547.83 L1572.86,547.83 L1573.80,547.82 L1574.75,547.82 L1575.70,547.82 L1576.64,547.81 L1577.59,547.81 L1578.54,547.81 L1579.49,547.80 L1580.43,547.80 L1581.38,547.80 L1582.33,547.79 L1583.27,547.79 L1584.22,547.79 L1585.17,547.78 L1586.11,547.78 L1587.06,547.78 L1588.01,547.77 L1588.95,547.77 L1589.90,547.77 L1590.85,547.76 L1591.79,547.76 L1592.74,547.76 L1593.69,547.75 L1594.63,547.75 L1595.58,547.75 L1596.53,547.74 L1597.47,547.74 L1598.42,547.74 L1599.37,547.73 L1600.32,547.73 L1601.26,547.73 L1602.21,547.72 L1603.16,547.72 L1604.10,547.72 L1605.05,547.71 L1606.00,547.71 L1606.94,547.71 L1607.89,547.70 L1608.84,547.70 L1609.78,547.70 L1610.73,547.69 L1611.68,547.69 L1612.62,547.69 L1613.57,547.68 L1614.52,547.68 L1615.46,547.68 L1616.41,547.67 L1617.36,547.67 L1618.31,547.67 L1619.25,547.66 L1620.20,547.66 L1621.15,547.66 L1622.09,547.65 L1623.04,547.65 L1623.99,547.65 L1624.93,547.64 L1625.88,547.64 L1626.83,547.64 L1627.77,547.63 L1628.72,547.63 L1629.67,547.63 L1630.61,547.63 L1631.56,547.62 L1632.51,547.62 L1633.45,547.62 L1634.40,547.61 L1635.35,547.61 L1636.29,547.61 L1637.24,547.60 L1638.19,547.60 L1639.14,547.60 L1640.08,547.59 L1641.03,547.59 L1641.98,547.59 L1642.92,547.58 L1643.87,547.58 L1644.82,547.58 L1645.76,547.57 L1646.71,547.57 L1647.66,547.57 L1648.60,547.56 L1649.55,547.56 L1650.50,547.56 L1651.44,547.55 L1652.39,547.55 L1653.34,547.55 L1654.28,547.54 L1655.23,547.54 L1656.18,547.54 L1657.12,547.54 L1658.07,547.53 L1659.02,547.53 L1659.97,547.53 L1660.91,547.52 L1661.86,547.52 L1662.81,547.52 L1663.75,547.51 L1664.70,547.51 L1665.65,547.51 L1666.59,547.50 L1667.54,547.50 L1668.49,547.50 L1669.43,547.49 L1670.38,547.49 L1671.33,547.49 L1672.27,547.48 L1673.22,547.48 L1674.17,547.48 L1675.11,547.47 L1676.06,547.47 L1677.01,547.47 L1677.95,547.47 L1678.90,547.46 L1679.85,547.46 L1680.80,547.46 L1681.74,547.45 L1682.69,547.45 L1683.64,547.45 L1684.58,547.44 L1685.53,547.44 L1686.48,547.44 L1687.42,547.43 L1688.37,547.43 L1689.32,547.43 L1690.26,547.42 L1691.21,547.42 L1692.16,547.42 L1693.10,547.41 L1694.05,547.41 L1695.00,547.41 L1695.94,547.40 L1696.89,547.40 L1697.84,547.40 L1698.78,547.40 L1699.73,547.39 L1700.68,547.39 L1701.63,547.39 L1702.57,547.38 L1703.52,547.38 L1704.47,547.38 L1705.41,547.37 L1706.36,547.37 L1707.31,547.37 L1708.25,547.36 L1709.20,547.36" stroke="#1f77b4" stroke-width="3.8" fill="none" stroke-dasharray="10.6 6.45" stroke-dashoffset="2.5"/>
<path d="M1426.10,547.36 L1427.05,547.35 L1427.99,547.35 L1428.94,547.35 L1429.89,547.34 L1430.83,547.34 L1431.78,547.34 L1432.73,547.33 L1433.67,547.33 L1434.62,547.33 L1435.57,547.32 L1436.52,547.32 L1437.46,547.32 L1438.41,547.31 L1439.36,547.31 L1440.30,547.31 L1441.25,547.30 L1442.20,547.30 L1443.14,547.29 L1444.09,547.29 L1445.04,547.29 L1445.98,547.28 L1446.93,547.28 L1447.88,547.28 L1448.82,547.27 L1449.77,547.27 L1450.72,547.27 L1451.66,547.26 L1452.61,547.26 L1453.56,547.26 L1454.50,547.25 L1455.45,547.25 L1456.40,547.24 L1457.35,547.24 L1458.29,547.24 L1459.24,547.23 L1460.19,547.23 L1461.13,547.23 L1462.08,547.22 L1463.03,547.22 L1463.97,547.22 L1464.92,547.21 L1465.87,547.21 L1466.81,547.21 L1467.76,547.20 L1468.71,547.20 L1469.65,547.20 L1470.60,547.19 L1471.55,547.19 L1472.49,547.18 L1473.44,547.18 L1474.39,547.18 L1475.33,547.17 L1476.28,547.17 L1477.23,547.17 L1478.18,547.16 L1479.12,547.16 L1480.07,547.16 L1481.02,547.15 L1481.96,547.15 L1482.91,547.15 L1483.86,547.14 L1484.80,547.14 L1485.75,547.14 L1486.70,547.13 L1487.64,547.13 L1488.59,547.12 L1489.54,547.12 L1490.48,547.12 L1491.43,547.11 L1492.38,547.11 L1493.32,547.11 L1494.27,547.10 L1495.22,547.10 L1496.16,547.10 L1497.11,547.09 L1498.06,547.09 L1499.01,547.09 L1499.95,547.08 L1500.90,547.08 L1501.85,547.08 L1502.79,547.07 L1503.74,547.07 L1504.69,547.07 L1505.63,547.06 L1506.58,547.06 L1507.53,547.05 L1508.47,547.05 L1509.42,547.05 L1510.37,547.04 L1511.31,547.04 L1512.26,547.04 L1513.21,547.03 L1514.15,547.03 L1515.10,547.03 L1516.05,547.02 L1516.99,547.02 L1517.94,547.02 L1518.89,547.01 L1519.84,547.01 L1520.78,547.01 L1521.73,547.00 L1522.68,547.00 L1523.62,547.00 L1524.57,546.99 L1525.52,546.99 L1526.46,546.99 L1527.41,546.98 L1528.36,546.98 L1529.30,546.97 L1530.25,546.97 L1531.20,546.97 L1532.14,546.96 L1533.09,546.96 L1534.04,546.96 L1534.98,546.95 L1535.93,546.95 L1536.88,546.95 L1537.83,546.94 L1538.77,546.94 L1539.72,546.94 L1540.67,546.93 L1541.61,546.93 L1542.56,546.93 L1543.51,546.92 L1544.45,546.92 L1545.40,546.92 L1546.35,546.91 L1547.29,546.91 L1548.24,546.91 L1549.19,546.90 L1550.13,546.90 L1551.08,546.90 L1552.03,546.89 L1552.97,546.89 L1553.92,546.89 L1554.87,546.88 L1555.81,546.88 L1556.76,546.88 L1557.71,546.87 L1558.66,546.87 L1559.60,546.87 L1560.55,546.86 L1561.50,546.86 L1562.44,546.86 L1563.39,546.85 L1564.34,546.85 L1565.28,546.85 L1566.23,546.84 L1567.18,546.84 L1568.12,546.84 L1569.07,546.83 L1570.02,546.83 L1570.96,546.83 L1571.91,546.82 L1572.86,546.82 L1573.80,546.82 L1574.75,546.81 L1575.70,546.81 L1576.64,546.81 L1577.59,546.80 L1578.54,546.80 L1579.49,546.80 L1580.43,546.79 L1581.38,546.79 L1582.33,546.79 L1583.27,546.78 L1584.22,546.78 L1585.17,546.78 L1586.11,546.77 L1587.06,546.77 L1588.01,546.77 L1588.95,546.76 L1589.90,546.76 L1590.85,546.76 L1591.79,546.75 L1592.74,546.75 L1593.69,546.75 L1594.63,546.74 L1595.58,546.74 L1596.53,546.74 L1597.47,546.73 L1598.42,546.73 L1599.37,546.73 L1600.32,546.72 L1601.26,546.72 L1602.21,546.72 L1603.16,546.71 L1604.10,546.71 L1605.05,546.71 L1606.00,546.70 L1606.94,546.70 L1607.89,546.70 L1608.84,546.69 L1609.78,546.69 L1610.73,546.69 L1611.68,546.68 L1612.62,546.68 L1613.57,546.68 L1614.52,546.67 L1615.46,546.67 L1616.41,546.67 L1617.36,546.66 L1618.31,546.66 L1619.25,546.66 L1620.20,546.65 L1621.15,546.65 L1622.09,546.65 L1623.04,546.64 L1623.99,546.64 L1624.93,546.64 L1625.88,546.63 L1626.83,546.63 L1627.77,546.63 L1628.72,546.62 L1629.67,546.62 L1630.61,546.62 L1631.56,546.62 L1632.51,546.61 L1633.45,546.61 L1634.40,546.61 L1635.35,546.60 L1636.29,546.60 L1637.24,546.60 L1638.19,546.59 L1639.14,546.59 L1640.08,546.59 L1641.03,546.58 L1641.98,546.58 L1642.92,546.58 L1643.87,546.57 L1644.82,546.57 L1645.76,546.57 L1646.71,546.56 L1647.66,546.56 L1648.60,546.56 L1649.55,546.55 L1650.50,546.55 L1651.44,546.55 L1652.39,546.54 L1653.34,546.54 L1654.28,546.54 L1655.23,546.53 L1656.18,546.53 L1657.12,546.53 L1658.07,546.53 L1659.02,546.52 L1659.97,546.52 L1660.91,546.52 L1661.86,546.51 L1662.81,546.51 L1663.75,546.51 L1664.70,546.50 L1665.65,546.50 L1666.59,546.50 L1667.54,546.49 L1668.49,546.49 L1669.43,546.49 L1670.38,546.48 L1671.33,546.48 L1672.27,546.48 L1673.22,546.47 L1674.17,546.47 L1675.11,546.47 L1676.06,546.46 L1677.01,546.46 L1677.95,546.46 L1678.90,546.46 L1679.85,546.45 L1680.80,546.45 L1681.74,546.45 L1682.69,546.44 L1683.64,546.44 L1684.58,546.44 L1685.53,546.43 L1686.48,546.43 L1687.42,546.43 L1688.37,546.42 L1689.32,546.42 L1690.26,546.42 L1691.21,546.41 L1692.16,546.41 L1693.10,546.41 L1694.05,546.40 L1695.00,546.40 L1695.94,546.40 L1696.89,546.39 L1697.84,546.39 L1698.78,546.39 L1699.73,546.39 L1700.68,546.38 L1701.63,546.38 L1702.57,546.38 L1703.52,546.37 L1704.47,546.37 L1705.41,546.37 L1706.36,546.36 L1707.31,546.36 L1708.25,546.36 L1709.20,546.35" stroke="#ff7f0e" stroke-width="3.8" fill="none" stroke-dasharray="10.6 6.45" stroke-dashoffset="3.5"/>
</g>
<rect x="1411.90" y="415.70" width="312.10" height="263.45" fill="none" stroke="#000" stroke-width="3"/>
<path d="M1399.50,427.68H1411.90M1399.50,547.42H1411.90M1399.50,667.17H1411.90M1426.10,679.15V691.55M1616.10,679.15V691.55" stroke="#000" stroke-width="3" fill="none"/>
<text transform="translate(1602.02,654.92) scale(0.9389,1)" font-size="34.44">(e.ii)</text>
<g clip-path="url(#cp20)">
<path d="M81.85,821.23L95.55,834.93M81.85,834.93L95.55,821.23M100.85,815.69L114.55,829.39M100.85,829.39L114.55,815.69M119.85,819.21L133.55,832.91M119.85,832.91L133.55,819.21M138.85,814.43L152.55,828.13M138.85,828.13L152.55,814.43M157.85,813.68L171.55,827.38M157.85,827.38L171.55,813.68M176.85,812.42L190.55,826.12M176.85,826.12L190.55,812.42M195.85,806.63L209.55,820.33M195.85,820.33L209.55,806.63M214.85,808.14L228.55,821.84M214.85,821.84L228.55,808.14M233.85,801.10L247.55,814.80M233.85,814.80L247.55,801.10M252.85,802.35L266.55,816.05M252.85,816.05L266.55,802.35M271.85,801.10L285.55,814.80M271.85,814.80L285.55,801.10M290.85,793.55L304.55,807.25M290.85,807.25L304.55,793.55M309.85,791.78L323.55,805.48M309.85,805.48L323.55,791.78M328.85,791.78L342.55,805.48M328.85,805.48L342.55,791.78M347.85,793.55L361.55,807.25M347.85,807.25L361.55,793.55" stroke="#000" stroke-width="3.8" fill="none"/>
<path d="M88.70,833.85 L89.65,833.70 L90.59,833.54 L91.54,833.39 L92.49,833.24 L93.43,833.09 L94.38,832.94 L95.33,832.79 L96.27,832.64 L97.22,832.49 L98.17,832.34 L99.12,832.18 L100.06,832.03 L101.01,831.88 L101.96,831.73 L102.90,831.58 L103.85,831.43 L104.80,831.28 L105.74,831.13 L106.69,830.98 L107.64,830.83 L108.58,830.68 L109.53,830.53 L110.48,830.38 L111.42,830.23 L112.37,830.08 L113.32,829.93 L114.26,829.78 L115.21,829.63 L116.16,829.48 L117.10,829.33 L118.05,829.18 L119.00,829.03 L119.95,828.88 L120.89,828.73 L121.84,828.58 L122.79,828.43 L123.73,828.28 L124.68,828.13 L125.63,827.99 L126.57,827.84 L127.52,827.69 L128.47,827.54 L129.41,827.39 L130.36,827.25 L131.31,827.10 L132.25,826.95 L133.20,826.80 L134.15,826.66 L135.09,826.51 L136.04,826.36 L136.99,826.22 L137.93,826.07 L138.88,825.92 L139.83,825.78 L140.78,825.63 L141.72,825.49 L142.67,825.34 L143.62,825.20 L144.56,825.05 L145.51,824.91 L146.46,824.76 L147.40,824.62 L148.35,824.47 L149.30,824.33 L150.24,824.19 L151.19,824.04 L152.14,823.90 L153.08,823.76 L154.03,823.62 L154.98,823.47 L155.92,823.33 L156.87,823.19 L157.82,823.05 L158.76,822.91 L159.71,822.76 L160.66,822.62 L161.61,822.48 L162.55,822.34 L163.50,822.20 L164.45,822.06 L165.39,821.92 L166.34,821.78 L167.29,821.64 L168.23,821.50 L169.18,821.36 L170.13,821.22 L171.07,821.08 L172.02,820.94 L172.97,820.80 L173.91,820.66 L174.86,820.52 L175.81,820.38 L176.75,820.24 L177.70,820.10 L178.65,819.96 L179.59,819.82 L180.54,819.68 L181.49,819.54 L182.44,819.40 L183.38,819.26 L184.33,819.12 L185.28,818.98 L186.22,818.84 L187.17,818.70 L188.12,818.56 L189.06,818.42 L190.01,818.28 L190.96,818.14 L191.90,818.00 L192.85,817.86 L193.80,817.72 L194.74,817.58 L195.69,817.44 L196.64,817.29 L197.58,817.15 L198.53,817.01 L199.48,816.87 L200.43,816.73 L201.37,816.59 L202.32,816.45 L203.27,816.30 L204.21,816.16 L205.16,816.02 L206.11,815.88 L207.05,815.73 L208.00,815.59 L208.95,815.45 L209.89,815.30 L210.84,815.16 L211.79,815.02 L212.73,814.87 L213.68,814.73 L214.63,814.58 L215.57,814.44 L216.52,814.29 L217.47,814.15 L218.41,814.00 L219.36,813.85 L220.31,813.71 L221.26,813.56 L222.20,813.41 L223.15,813.26 L224.10,813.12 L225.04,812.97 L225.99,812.82 L226.94,812.67 L227.88,812.52 L228.83,812.37 L229.78,812.22 L230.72,812.07 L231.67,811.92 L232.62,811.77 L233.56,811.62 L234.51,811.47 L235.46,811.32 L236.40,811.17 L237.35,811.01 L238.30,810.86 L239.24,810.71 L240.19,810.56 L241.14,810.41 L242.09,810.26 L243.03,810.10 L243.98,809.95 L244.93,809.80 L245.87,809.65 L246.82,809.50 L247.77,809.35 L248.71,809.19 L249.66,809.04 L250.61,808.89 L251.55,808.74 L252.50,808.59 L253.45,808.44 L254.39,808.29 L255.34,808.14 L256.29,807.99 L257.23,807.84 L258.18,807.69 L259.13,807.54 L260.07,807.39 L261.02,807.24 L261.97,807.10 L262.92,806.95 L263.86,806.80 L264.81,806.66 L265.76,806.51 L266.70,806.36 L267.65,806.22 L268.60,806.07 L269.54,805.93 L270.49,805.79 L271.44,805.64 L272.38,805.50 L273.33,805.36 L274.28,805.22 L275.22,805.08 L276.17,804.94 L277.12,804.80 L278.06,804.66 L279.01,804.53 L279.96,804.39 L280.91,804.25 L281.85,804.12 L282.80,803.98 L283.75,803.85 L284.69,803.72 L285.64,803.59 L286.59,803.46 L287.53,803.33 L288.48,803.20 L289.43,803.07 L290.37,802.94 L291.32,802.82 L292.27,802.69 L293.21,802.57 L294.16,802.44 L295.11,802.32 L296.05,802.20 L297.00,802.08 L297.95,801.96 L298.89,801.85 L299.84,801.73 L300.79,801.62 L301.74,801.50 L302.68,801.39 L303.63,801.28 L304.58,801.17 L305.52,801.06 L306.47,800.95 L307.42,800.85 L308.36,800.74 L309.31,800.64 L310.26,800.53 L311.20,800.43 L312.15,800.33 L313.10,800.23 L314.04,800.13 L314.99,800.03 L315.94,799.93 L316.88,799.84 L317.83,799.74 L318.78,799.65 L319.72,799.55 L320.67,799.46 L321.62,799.37 L322.57,799.28 L323.51,799.19 L324.46,799.10 L325.41,799.01 L326.35,798.92 L327.30,798.83 L328.25,798.75 L329.19,798.66 L330.14,798.57 L331.09,798.49 L332.03,798.41 L332.98,798.32 L333.93,798.24 L334.87,798.16 L335.82,798.08 L336.77,798.00 L337.71,797.92 L338.66,797.84 L339.61,797.76 L340.55,797.68 L341.50,797.60 L342.45,797.53 L343.40,797.45 L344.34,797.38 L345.29,797.30 L346.24,797.22 L347.18,797.15 L348.13,797.07 L349.08,797.00 L350.02,796.93 L350.97,796.85 L351.92,796.78 L352.86,796.71 L353.81,796.64 L354.76,796.56 L355.70,796.49 L356.65,796.42 L357.60,796.35 L358.54,796.28 L359.49,796.21 L360.44,796.14 L361.38,796.07 L362.33,796.00 L363.28,795.93 L364.23,795.86 L365.17,795.79 L366.12,795.72 L367.07,795.65 L368.01,795.58 L368.96,795.51 L369.91,795.44 L370.85,795.37 L371.80,795.30" stroke="#1f77b4" stroke-width="3.8" fill="none" stroke-dasharray="10.6 6.45" stroke-dashoffset="2.5"/>
<path d="M88.70,833.60 L89.65,833.44 L90.59,833.29 L91.54,833.14 L92.49,832.99 L93.43,832.84 L94.38,832.69 L95.33,832.54 L96.27,832.39 L97.22,832.23 L98.17,832.08 L99.12,831.93 L100.06,831.78 L101.01,831.63 L101.96,831.48 L102.90,831.33 L103.85,831.18 L104.80,831.03 L105.74,830.88 L106.69,830.73 L107.64,830.58 L108.58,830.43 L109.53,830.27 L110.48,830.12 L111.42,829.97 L112.37,829.82 L113.32,829.67 L114.26,829.52 L115.21,829.37 L116.16,829.22 L117.10,829.08 L118.05,828.93 L119.00,828.78 L119.95,828.63 L120.89,828.48 L121.84,828.33 L122.79,828.18 L123.73,828.03 L124.68,827.88 L125.63,827.73 L126.57,827.59 L127.52,827.44 L128.47,827.29 L129.41,827.14 L130.36,826.99 L131.31,826.85 L132.25,826.70 L133.20,826.55 L134.15,826.40 L135.09,826.26 L136.04,826.11 L136.99,825.96 L137.93,825.82 L138.88,825.67 L139.83,825.53 L140.78,825.38 L141.72,825.24 L142.67,825.09 L143.62,824.95 L144.56,824.80 L145.51,824.66 L146.46,824.51 L147.40,824.37 L148.35,824.22 L149.30,824.08 L150.24,823.94 L151.19,823.79 L152.14,823.65 L153.08,823.51 L154.03,823.36 L154.98,823.22 L155.92,823.08 L156.87,822.94 L157.82,822.80 L158.76,822.65 L159.71,822.51 L160.66,822.37 L161.61,822.23 L162.55,822.09 L163.50,821.95 L164.45,821.81 L165.39,821.67 L166.34,821.53 L167.29,821.39 L168.23,821.25 L169.18,821.11 L170.13,820.96 L171.07,820.82 L172.02,820.68 L172.97,820.54 L173.91,820.40 L174.86,820.26 L175.81,820.13 L176.75,819.99 L177.70,819.85 L178.65,819.71 L179.59,819.57 L180.54,819.43 L181.49,819.29 L182.44,819.15 L183.38,819.01 L184.33,818.87 L185.28,818.73 L186.22,818.59 L187.17,818.45 L188.12,818.31 L189.06,818.17 L190.01,818.03 L190.96,817.89 L191.90,817.75 L192.85,817.61 L193.80,817.47 L194.74,817.32 L195.69,817.18 L196.64,817.04 L197.58,816.90 L198.53,816.76 L199.48,816.62 L200.43,816.48 L201.37,816.34 L202.32,816.19 L203.27,816.05 L204.21,815.91 L205.16,815.77 L206.11,815.62 L207.05,815.48 L208.00,815.34 L208.95,815.20 L209.89,815.05 L210.84,814.91 L211.79,814.76 L212.73,814.62 L213.68,814.47 L214.63,814.33 L215.57,814.18 L216.52,814.04 L217.47,813.89 L218.41,813.75 L219.36,813.60 L220.31,813.45 L221.26,813.31 L222.20,813.16 L223.15,813.01 L224.10,812.86 L225.04,812.72 L225.99,812.57 L226.94,812.42 L227.88,812.27 L228.83,812.12 L229.78,811.97 L230.72,811.82 L231.67,811.67 L232.62,811.52 L233.56,811.37 L234.51,811.22 L235.46,811.07 L236.40,810.91 L237.35,810.76 L238.30,810.61 L239.24,810.46 L240.19,810.31 L241.14,810.16 L242.09,810.00 L243.03,809.85 L243.98,809.70 L244.93,809.55 L245.87,809.40 L246.82,809.25 L247.77,809.09 L248.71,808.94 L249.66,808.79 L250.61,808.64 L251.55,808.49 L252.50,808.34 L253.45,808.19 L254.39,808.04 L255.34,807.89 L256.29,807.74 L257.23,807.59 L258.18,807.44 L259.13,807.29 L260.07,807.14 L261.02,806.99 L261.97,806.84 L262.92,806.70 L263.86,806.55 L264.81,806.40 L265.76,806.26 L266.70,806.11 L267.65,805.97 L268.60,805.82 L269.54,805.68 L270.49,805.54 L271.44,805.39 L272.38,805.25 L273.33,805.11 L274.28,804.97 L275.22,804.83 L276.17,804.69 L277.12,804.55 L278.06,804.41 L279.01,804.27 L279.96,804.14 L280.91,804.00 L281.85,803.87 L282.80,803.73 L283.75,803.60 L284.69,803.47 L285.64,803.33 L286.59,803.20 L287.53,803.07 L288.48,802.94 L289.43,802.82 L290.37,802.69 L291.32,802.56 L292.27,802.44 L293.21,802.32 L294.16,802.19 L295.11,802.07 L296.05,801.95 L297.00,801.83 L297.95,801.71 L298.89,801.60 L299.84,801.48 L300.79,801.36 L301.74,801.25 L302.68,801.14 L303.63,801.03 L304.58,800.92 L305.52,800.81 L306.47,800.70 L307.42,800.59 L308.36,800.49 L309.31,800.38 L310.26,800.28 L311.20,800.18 L312.15,800.08 L313.10,799.98 L314.04,799.88 L314.99,799.78 L315.94,799.68 L316.88,799.58 L317.83,799.49 L318.78,799.39 L319.72,799.30 L320.67,799.21 L321.62,799.11 L322.57,799.02 L323.51,798.93 L324.46,798.84 L325.41,798.76 L326.35,798.67 L327.30,798.58 L328.25,798.49 L329.19,798.41 L330.14,798.32 L331.09,798.24 L332.03,798.16 L332.98,798.07 L333.93,797.99 L334.87,797.91 L335.82,797.83 L336.77,797.75 L337.71,797.67 L338.66,797.59 L339.61,797.51 L340.55,797.43 L341.50,797.35 L342.45,797.28 L343.40,797.20 L344.34,797.12 L345.29,797.05 L346.24,796.97 L347.18,796.90 L348.13,796.82 L349.08,796.75 L350.02,796.68 L350.97,796.60 L351.92,796.53 L352.86,796.46 L353.81,796.38 L354.76,796.31 L355.70,796.24 L356.65,796.17 L357.60,796.10 L358.54,796.03 L359.49,795.96 L360.44,795.89 L361.38,795.82 L362.33,795.74 L363.28,795.67 L364.23,795.60 L365.17,795.53 L366.12,795.47 L367.07,795.40 L368.01,795.33 L368.96,795.26 L369.91,795.19 L370.85,795.12 L371.80,795.05" stroke="#ff7f0e" stroke-width="3.8" fill="none" stroke-dasharray="10.6 6.45" stroke-dashoffset="3.5"/>
</g>
<rect x="74.50" y="701.90" width="312.10" height="263.45" fill="none" stroke="#000" stroke-width="3"/>
<path d="M62.10,713.88H74.50M62.10,833.62H74.50M62.10,953.38H74.50M88.70,965.35V977.75M278.70,965.35V977.75" stroke="#000" stroke-width="3" fill="none"/>
<text transform="translate(35.22,723.38) scale(1.0751,1)" font-size="28.70">1</text>
<text transform="translate(35.28,842.75) scale(1.0884,1)" font-size="28.00">0</text>
<text transform="translate(35.22,962.98) scale(1.1105,1)" font-size="27.79">1</text>
<text transform="translate(13.98,968.56) scale(1.0130,1)" font-size="38.00">−</text>
<text transform="translate(80.98,1008.62) scale(1.0884,1)" font-size="28.00">0</text>
<text transform="translate(256.35,1008.62) scale(1.0771,1)" font-size="27.85">100</text>
<text transform="translate(220.31,1049.46) scale(1.3114,1)" font-size="31.40" font-style="italic">n</text>
<text transform="translate(253.97,941.12) scale(0.9605,1)" font-size="34.44">(a.iii)</text>
<g clip-path="url(#cp21)">
<path d="M416.20,822.48L429.90,836.18M416.20,836.18L429.90,822.48M435.20,787.76L448.90,801.46M435.20,801.46L448.90,787.76M454.20,797.32L467.90,811.02M454.20,811.02L467.90,797.32M473.20,828.78L486.90,842.48M473.20,842.48L486.90,828.78M492.20,826.26L505.90,839.96M492.20,839.96L505.90,826.26M511.20,787.76L524.90,801.46M511.20,801.46L524.90,787.76M530.20,760.08L543.90,773.78M530.20,773.78L543.90,760.08M549.20,789.27L562.90,802.97M549.20,802.97L562.90,789.27M568.20,810.41L581.90,824.11M568.20,824.11L581.90,810.41M587.20,801.85L600.90,815.55M587.20,815.55L600.90,801.85M606.20,769.14L619.90,782.84M606.20,782.84L619.90,769.14M625.20,758.32L638.90,772.02M625.20,772.02L638.90,758.32M644.20,779.71L657.90,793.41M644.20,793.41L657.90,779.71M663.20,801.10L676.90,814.80M663.20,814.80L676.90,801.10M682.20,786.00L695.90,799.70M682.20,799.70L695.90,786.00" stroke="#000" stroke-width="3.8" fill="none"/>
<path d="M423.05,833.03 L424.00,832.66 L424.94,832.29 L425.89,831.92 L426.84,831.56 L427.78,831.19 L428.73,830.82 L429.68,830.45 L430.62,830.08 L431.57,829.72 L432.52,829.35 L433.47,828.99 L434.41,828.62 L435.36,828.25 L436.31,827.89 L437.25,827.53 L438.20,827.16 L439.15,826.80 L440.09,826.44 L441.04,826.08 L441.99,825.72 L442.93,825.36 L443.88,825.00 L444.83,824.65 L445.77,824.29 L446.72,823.94 L447.67,823.58 L448.61,823.23 L449.56,822.88 L450.51,822.53 L451.45,822.18 L452.40,821.84 L453.35,821.49 L454.30,821.15 L455.24,820.81 L456.19,820.47 L457.14,820.13 L458.08,819.80 L459.03,819.46 L459.98,819.13 L460.92,818.80 L461.87,818.48 L462.82,818.15 L463.76,817.83 L464.71,817.51 L465.66,817.20 L466.60,816.88 L467.55,816.57 L468.50,816.26 L469.44,815.96 L470.39,815.66 L471.34,815.36 L472.28,815.06 L473.23,814.77 L474.18,814.48 L475.13,814.20 L476.07,813.91 L477.02,813.63 L477.97,813.36 L478.91,813.08 L479.86,812.81 L480.81,812.55 L481.75,812.28 L482.70,812.02 L483.65,811.76 L484.59,811.51 L485.54,811.26 L486.49,811.01 L487.43,810.77 L488.38,810.53 L489.33,810.29 L490.27,810.06 L491.22,809.83 L492.17,809.60 L493.11,809.38 L494.06,809.16 L495.01,808.94 L495.96,808.73 L496.90,808.52 L497.85,808.31 L498.80,808.11 L499.74,807.91 L500.69,807.71 L501.64,807.52 L502.58,807.33 L503.53,807.14 L504.48,806.96 L505.42,806.78 L506.37,806.60 L507.32,806.42 L508.26,806.25 L509.21,806.08 L510.16,805.92 L511.10,805.75 L512.05,805.59 L513.00,805.44 L513.94,805.28 L514.89,805.13 L515.84,804.98 L516.79,804.83 L517.73,804.69 L518.68,804.54 L519.63,804.40 L520.57,804.27 L521.52,804.13 L522.47,804.00 L523.41,803.87 L524.36,803.74 L525.31,803.61 L526.25,803.49 L527.20,803.36 L528.15,803.24 L529.09,803.12 L530.04,803.00 L530.99,802.89 L531.93,802.77 L532.88,802.66 L533.83,802.55 L534.78,802.44 L535.72,802.33 L536.67,802.22 L537.62,802.11 L538.56,802.00 L539.51,801.90 L540.46,801.79 L541.40,801.69 L542.35,801.59 L543.30,801.48 L544.24,801.38 L545.19,801.28 L546.14,801.18 L547.08,801.08 L548.03,800.98 L548.98,800.88 L549.92,800.78 L550.87,800.68 L551.82,800.58 L552.76,800.48 L553.71,800.38 L554.66,800.28 L555.61,800.18 L556.55,800.09 L557.50,799.99 L558.45,799.89 L559.39,799.80 L560.34,799.70 L561.29,799.61 L562.23,799.52 L563.18,799.42 L564.13,799.33 L565.07,799.24 L566.02,799.15 L566.97,799.06 L567.91,798.97 L568.86,798.88 L569.81,798.79 L570.75,798.71 L571.70,798.62 L572.65,798.54 L573.59,798.45 L574.54,798.37 L575.49,798.29 L576.44,798.21 L577.38,798.13 L578.33,798.05 L579.28,797.97 L580.22,797.89 L581.17,797.81 L582.12,797.74 L583.06,797.66 L584.01,797.59 L584.96,797.51 L585.90,797.44 L586.85,797.36 L587.80,797.29 L588.74,797.22 L589.69,797.15 L590.64,797.07 L591.58,797.00 L592.53,796.93 L593.48,796.86 L594.42,796.79 L595.37,796.72 L596.32,796.65 L597.27,796.58 L598.21,796.51 L599.16,796.44 L600.11,796.38 L601.05,796.31 L602.00,796.24 L602.95,796.17 L603.89,796.10 L604.84,796.04 L605.79,795.97 L606.73,795.90 L607.68,795.83 L608.63,795.77 L609.57,795.70 L610.52,795.64 L611.47,795.57 L612.41,795.50 L613.36,795.44 L614.31,795.37 L615.26,795.31 L616.20,795.24 L617.15,795.18 L618.10,795.11 L619.04,795.05 L619.99,794.99 L620.94,794.92 L621.88,794.86 L622.83,794.80 L623.78,794.73 L624.72,794.67 L625.67,794.61 L626.62,794.55 L627.56,794.49 L628.51,794.43 L629.46,794.37 L630.40,794.31 L631.35,794.25 L632.30,794.19 L633.24,794.13 L634.19,794.07 L635.14,794.01 L636.09,793.96 L637.03,793.90 L637.98,793.84 L638.93,793.79 L639.87,793.74 L640.82,793.68 L641.77,793.63 L642.71,793.58 L643.66,793.53 L644.61,793.48 L645.55,793.43 L646.50,793.38 L647.45,793.33 L648.39,793.28 L649.34,793.24 L650.29,793.19 L651.23,793.15 L652.18,793.11 L653.13,793.06 L654.07,793.02 L655.02,792.98 L655.97,792.94 L656.92,792.90 L657.86,792.86 L658.81,792.83 L659.76,792.79 L660.70,792.75 L661.65,792.72 L662.60,792.68 L663.54,792.65 L664.49,792.61 L665.44,792.58 L666.38,792.54 L667.33,792.51 L668.28,792.48 L669.22,792.44 L670.17,792.41 L671.12,792.38 L672.06,792.35 L673.01,792.32 L673.96,792.29 L674.90,792.26 L675.85,792.23 L676.80,792.20 L677.75,792.17 L678.69,792.14 L679.64,792.11 L680.59,792.08 L681.53,792.05 L682.48,792.02 L683.43,791.99 L684.37,791.96 L685.32,791.93 L686.27,791.91 L687.21,791.88 L688.16,791.85 L689.11,791.82 L690.05,791.79 L691.00,791.77 L691.95,791.74 L692.89,791.71 L693.84,791.68 L694.79,791.66 L695.73,791.63 L696.68,791.60 L697.63,791.58 L698.58,791.55 L699.52,791.52 L700.47,791.50 L701.42,791.47 L702.36,791.44 L703.31,791.42 L704.26,791.39 L705.20,791.36 L706.15,791.34" stroke="#1f77b4" stroke-width="3.8" fill="none" stroke-dasharray="10.6 6.45" stroke-dashoffset="0"/>
<path d="M423.05,831.30 L424.00,828.73 L424.94,826.17 L425.89,823.64 L426.84,821.15 L427.78,818.70 L428.73,816.32 L429.68,814.00 L430.62,811.77 L431.57,809.64 L432.52,807.60 L433.47,805.67 L434.41,803.86 L435.36,802.17 L436.31,800.60 L437.25,799.17 L438.20,797.88 L439.15,796.73 L440.09,795.72 L441.04,794.87 L441.99,794.16 L442.93,793.59 L443.88,793.18 L444.83,792.91 L445.77,792.79 L446.72,792.81 L447.67,792.98 L448.61,793.30 L449.56,793.74 L450.51,794.30 L451.45,794.97 L452.40,795.74 L453.35,796.59 L454.30,797.52 L455.24,798.51 L456.19,799.56 L457.14,800.66 L458.08,801.82 L459.03,803.03 L459.98,804.31 L460.92,805.66 L461.87,807.09 L462.82,808.60 L463.76,810.20 L464.71,811.89 L465.66,813.67 L466.60,815.53 L467.55,817.44 L468.50,819.39 L469.44,821.35 L470.39,823.31 L471.34,825.25 L472.28,827.14 L473.23,828.97 L474.18,830.72 L475.13,832.37 L476.07,833.95 L477.02,835.43 L477.97,836.82 L478.91,838.13 L479.86,839.34 L480.81,840.47 L481.75,841.50 L482.70,842.44 L483.65,843.28 L484.59,844.01 L485.54,844.62 L486.49,845.10 L487.43,845.46 L488.38,845.67 L489.33,845.74 L490.27,845.66 L491.22,845.43 L492.17,845.05 L493.11,844.53 L494.06,843.85 L495.01,843.02 L495.96,842.05 L496.90,840.92 L497.85,839.65 L498.80,838.25 L499.74,836.72 L500.69,835.07 L501.64,833.32 L502.58,831.47 L503.53,829.53 L504.48,827.50 L505.42,825.41 L506.37,823.25 L507.32,821.04 L508.26,818.79 L509.21,816.51 L510.16,814.20 L511.10,811.88 L512.05,809.56 L513.00,807.24 L513.94,804.95 L514.89,802.68 L515.84,800.46 L516.79,798.30 L517.73,796.21 L518.68,794.19 L519.63,792.26 L520.57,790.43 L521.52,788.70 L522.47,787.06 L523.41,785.53 L524.36,784.09 L525.31,782.76 L526.25,781.54 L527.20,780.43 L528.15,779.42 L529.09,778.52 L530.04,777.72 L530.99,777.03 L531.93,776.45 L532.88,775.96 L533.83,775.58 L534.78,775.30 L535.72,775.12 L536.67,775.04 L537.62,775.06 L538.56,775.18 L539.51,775.40 L540.46,775.72 L541.40,776.15 L542.35,776.68 L543.30,777.31 L544.24,778.04 L545.19,778.87 L546.14,779.79 L547.08,780.80 L548.03,781.87 L548.98,783.00 L549.92,784.18 L550.87,785.40 L551.82,786.65 L552.76,787.91 L553.71,789.20 L554.66,790.49 L555.61,791.80 L556.55,793.12 L557.50,794.47 L558.45,795.83 L559.39,797.22 L560.34,798.63 L561.29,800.07 L562.23,801.54 L563.18,803.02 L564.13,804.51 L565.07,805.99 L566.02,807.44 L566.97,808.85 L567.91,810.20 L568.86,811.48 L569.81,812.67 L570.75,813.78 L571.70,814.79 L572.65,815.70 L573.59,816.52 L574.54,817.24 L575.49,817.86 L576.44,818.38 L577.38,818.79 L578.33,819.10 L579.28,819.30 L580.22,819.39 L581.17,819.37 L582.12,819.25 L583.06,819.04 L584.01,818.72 L584.96,818.32 L585.90,817.83 L586.85,817.25 L587.80,816.59 L588.74,815.86 L589.69,815.05 L590.64,814.16 L591.58,813.19 L592.53,812.14 L593.48,810.99 L594.42,809.75 L595.37,808.42 L596.32,806.98 L597.27,805.42 L598.21,803.76 L599.16,801.99 L600.11,800.13 L601.05,798.20 L602.00,796.24 L602.95,794.26 L603.89,792.29 L604.84,790.35 L605.79,788.47 L606.73,786.66 L607.68,784.96 L608.63,783.36 L609.57,781.86 L610.52,780.44 L611.47,779.10 L612.41,777.84 L613.36,776.64 L614.31,775.51 L615.26,774.43 L616.20,773.40 L617.15,772.42 L618.10,771.47 L619.04,770.57 L619.99,769.71 L620.94,768.90 L621.88,768.15 L622.83,767.45 L623.78,766.81 L624.72,766.24 L625.67,765.73 L626.62,765.29 L627.56,764.93 L628.51,764.64 L629.46,764.45 L630.40,764.34 L631.35,764.35 L632.30,764.46 L633.24,764.69 L634.19,765.05 L635.14,765.54 L636.09,766.18 L637.03,766.95 L637.98,767.86 L638.93,768.88 L639.87,770.00 L640.82,771.20 L641.77,772.48 L642.71,773.81 L643.66,775.19 L644.61,776.59 L645.55,778.02 L646.50,779.45 L647.45,780.89 L648.39,782.34 L649.34,783.78 L650.29,785.22 L651.23,786.65 L652.18,788.06 L653.13,789.46 L654.07,790.83 L655.02,792.18 L655.97,793.50 L656.92,794.78 L657.86,796.01 L658.81,797.19 L659.76,798.31 L660.70,799.37 L661.65,800.35 L662.60,801.25 L663.54,802.07 L664.49,802.79 L665.44,803.41 L666.38,803.92 L667.33,804.32 L668.28,804.60 L669.22,804.75 L670.17,804.77 L671.12,804.64 L672.06,804.38 L673.01,803.99 L673.96,803.50 L674.90,802.92 L675.85,802.26 L676.80,801.54 L677.75,800.79 L678.69,800.02 L679.64,799.24 L680.59,798.48 L681.53,797.72 L682.48,796.96 L683.43,796.20 L684.37,795.43 L685.32,794.64 L686.27,793.81 L687.21,792.95 L688.16,792.05 L689.11,791.10 L690.05,790.09 L691.00,789.01 L691.95,787.88 L692.89,786.68 L693.84,785.43 L694.79,784.12 L695.73,782.76 L696.68,781.34 L697.63,779.88 L698.58,778.37 L699.52,776.82 L700.47,775.23 L701.42,773.61 L702.36,771.97 L703.31,770.30 L704.26,768.62 L705.20,766.93 L706.15,765.24" stroke="#ff7f0e" stroke-width="3.8" fill="none" stroke-dasharray="10.6 6.45" stroke-dashoffset="3.5"/>
</g>
<rect x="408.85" y="701.90" width="312.10" height="263.45" fill="none" stroke="#000" stroke-width="3"/>
<path d="M396.45,713.88H408.85M396.45,833.62H408.85M396.45,953.38H408.85M423.05,965.35V977.75M613.05,965.35V977.75" stroke="#000" stroke-width="3" fill="none"/>
<text transform="translate(415.33,1008.62) scale(1.0884,1)" font-size="28.00">0</text>
<text transform="translate(590.70,1008.62) scale(1.0771,1)" font-size="27.85">100</text>
<text transform="translate(554.66,1049.46) scale(1.3114,1)" font-size="31.40" font-style="italic">n</text>
<text transform="translate(586.54,941.12) scale(0.9600,1)" font-size="34.44">(b.iii)</text>
<g clip-path="url(#cp22)">
<path d="M750.55,823.74L764.25,837.44M750.55,837.44L764.25,823.74M769.55,789.27L783.25,802.97M769.55,802.97L783.25,789.27M788.55,811.16L802.25,824.86M788.55,824.86L802.25,811.16M807.55,877.34L821.25,891.04M807.55,891.04L821.25,877.34M826.55,912.57L840.25,926.27M826.55,926.27L840.25,912.57M845.55,888.41L859.25,902.11M845.55,902.11L859.25,888.41M864.55,838.84L878.25,852.54M864.55,852.54L878.25,838.84M883.55,813.68L897.25,827.38M883.55,827.38L897.25,813.68M902.55,831.29L916.25,844.99M902.55,844.99L916.25,831.29M921.55,860.23L935.25,873.93M921.55,873.93L935.25,860.23M940.55,847.65L954.25,861.35M940.55,861.35L954.25,847.65M959.55,811.92L973.25,825.62M959.55,825.62L973.25,811.92M978.55,779.20L992.25,792.90M978.55,792.90L992.25,779.20M997.55,782.22L1011.25,795.92M997.55,795.92L1011.25,782.22M1016.55,811.16L1030.25,824.86M1016.55,824.86L1030.25,811.16" stroke="#000" stroke-width="3.8" fill="none"/>
<path d="M757.40,832.41 L758.35,834.11 L759.29,835.81 L760.24,837.50 L761.19,839.19 L762.13,840.87 L763.08,842.53 L764.03,844.17 L764.97,845.80 L765.92,847.41 L766.87,849.00 L767.82,850.56 L768.76,852.08 L769.71,853.58 L770.66,855.04 L771.60,856.45 L772.55,857.82 L773.50,859.15 L774.44,860.42 L775.39,861.64 L776.34,862.81 L777.28,863.91 L778.23,864.96 L779.18,865.96 L780.12,866.90 L781.07,867.80 L782.02,868.66 L782.96,869.47 L783.91,870.24 L784.86,870.98 L785.80,871.68 L786.75,872.35 L787.70,872.98 L788.65,873.59 L789.59,874.18 L790.54,874.74 L791.49,875.27 L792.43,875.78 L793.38,876.26 L794.33,876.71 L795.27,877.14 L796.22,877.55 L797.17,877.92 L798.11,878.28 L799.06,878.60 L800.01,878.90 L800.95,879.18 L801.90,879.43 L802.85,879.65 L803.79,879.86 L804.74,880.04 L805.69,880.20 L806.63,880.33 L807.58,880.46 L808.53,880.56 L809.48,880.65 L810.42,880.72 L811.37,880.78 L812.32,880.83 L813.26,880.87 L814.21,880.89 L815.16,880.91 L816.10,880.92 L817.05,880.92 L818.00,880.92 L818.94,880.91 L819.89,880.89 L820.84,880.86 L821.78,880.82 L822.73,880.76 L823.68,880.70 L824.62,880.62 L825.57,880.53 L826.52,880.42 L827.46,880.30 L828.41,880.15 L829.36,880.00 L830.31,879.82 L831.25,879.62 L832.20,879.41 L833.15,879.17 L834.09,878.92 L835.04,878.65 L835.99,878.37 L836.93,878.07 L837.88,877.75 L838.83,877.43 L839.77,877.10 L840.72,876.75 L841.67,876.40 L842.61,876.04 L843.56,875.67 L844.51,875.29 L845.45,874.92 L846.40,874.54 L847.35,874.15 L848.29,873.77 L849.24,873.38 L850.19,872.99 L851.14,872.60 L852.08,872.20 L853.03,871.81 L853.98,871.41 L854.92,871.02 L855.87,870.62 L856.82,870.22 L857.76,869.82 L858.71,869.42 L859.66,869.02 L860.60,868.62 L861.55,868.22 L862.50,867.82 L863.44,867.42 L864.39,867.02 L865.34,866.62 L866.28,866.22 L867.23,865.82 L868.18,865.42 L869.13,865.02 L870.07,864.63 L871.02,864.23 L871.97,863.84 L872.91,863.45 L873.86,863.06 L874.81,862.68 L875.75,862.29 L876.70,861.91 L877.65,861.53 L878.59,861.16 L879.54,860.78 L880.49,860.41 L881.43,860.04 L882.38,859.66 L883.33,859.29 L884.27,858.92 L885.22,858.55 L886.17,858.17 L887.11,857.80 L888.06,857.42 L889.01,857.04 L889.96,856.66 L890.90,856.28 L891.85,855.89 L892.80,855.50 L893.74,855.10 L894.69,854.70 L895.64,854.30 L896.58,853.89 L897.53,853.48 L898.48,853.07 L899.42,852.66 L900.37,852.24 L901.32,851.83 L902.26,851.41 L903.21,851.00 L904.16,850.58 L905.10,850.17 L906.05,849.76 L907.00,849.36 L907.94,848.96 L908.89,848.56 L909.84,848.17 L910.79,847.78 L911.73,847.40 L912.68,847.02 L913.63,846.65 L914.57,846.29 L915.52,845.93 L916.47,845.58 L917.41,845.24 L918.36,844.90 L919.31,844.57 L920.25,844.24 L921.20,843.92 L922.15,843.60 L923.09,843.29 L924.04,842.99 L924.99,842.69 L925.93,842.39 L926.88,842.10 L927.83,841.82 L928.77,841.54 L929.72,841.26 L930.67,840.99 L931.62,840.73 L932.56,840.46 L933.51,840.21 L934.46,839.95 L935.40,839.70 L936.35,839.45 L937.30,839.21 L938.24,838.97 L939.19,838.73 L940.14,838.49 L941.08,838.26 L942.03,838.03 L942.98,837.80 L943.92,837.57 L944.87,837.35 L945.82,837.12 L946.76,836.90 L947.71,836.68 L948.66,836.45 L949.61,836.23 L950.55,836.02 L951.50,835.80 L952.45,835.59 L953.39,835.37 L954.34,835.16 L955.29,834.95 L956.23,834.75 L957.18,834.55 L958.13,834.35 L959.07,834.15 L960.02,833.96 L960.97,833.77 L961.91,833.58 L962.86,833.40 L963.81,833.22 L964.75,833.05 L965.70,832.88 L966.65,832.72 L967.59,832.56 L968.54,832.40 L969.49,832.25 L970.44,832.10 L971.38,831.96 L972.33,831.82 L973.28,831.68 L974.22,831.55 L975.17,831.42 L976.12,831.29 L977.06,831.17 L978.01,831.06 L978.96,830.94 L979.90,830.83 L980.85,830.72 L981.80,830.62 L982.74,830.52 L983.69,830.42 L984.64,830.33 L985.58,830.24 L986.53,830.15 L987.48,830.07 L988.42,829.99 L989.37,829.91 L990.32,829.84 L991.27,829.77 L992.21,829.71 L993.16,829.65 L994.11,829.59 L995.05,829.54 L996.00,829.49 L996.95,829.44 L997.89,829.40 L998.84,829.36 L999.79,829.33 L1000.73,829.30 L1001.68,829.28 L1002.63,829.26 L1003.57,829.24 L1004.52,829.22 L1005.47,829.21 L1006.41,829.21 L1007.36,829.20 L1008.31,829.20 L1009.25,829.20 L1010.20,829.20 L1011.15,829.21 L1012.10,829.22 L1013.04,829.23 L1013.99,829.24 L1014.94,829.25 L1015.88,829.26 L1016.83,829.28 L1017.78,829.30 L1018.72,829.31 L1019.67,829.33 L1020.62,829.35 L1021.56,829.37 L1022.51,829.39 L1023.46,829.41 L1024.40,829.43 L1025.35,829.45 L1026.30,829.47 L1027.24,829.49 L1028.19,829.51 L1029.14,829.54 L1030.08,829.56 L1031.03,829.58 L1031.98,829.61 L1032.93,829.63 L1033.87,829.65 L1034.82,829.68 L1035.77,829.70 L1036.71,829.72 L1037.66,829.75 L1038.61,829.77 L1039.55,829.80 L1040.50,829.82" stroke="#1f77b4" stroke-width="3.8" fill="none" stroke-dasharray="10.6 6.45" stroke-dashoffset="0"/>
<path d="M757.40,831.11 L758.35,828.85 L759.29,826.63 L760.24,824.48 L761.19,822.42 L762.13,820.49 L763.08,818.71 L764.03,817.06 L764.97,815.47 L765.92,813.88 L766.87,812.24 L767.82,810.50 L768.76,808.69 L769.71,806.90 L770.66,805.22 L771.60,803.72 L772.55,802.42 L773.50,801.36 L774.44,800.53 L775.39,799.97 L776.34,799.67 L777.28,799.67 L778.23,799.95 L779.18,800.44 L780.12,801.07 L781.07,801.79 L782.02,802.52 L782.96,803.20 L783.91,803.75 L784.86,804.14 L785.80,804.44 L786.75,804.87 L787.70,805.62 L788.65,806.91 L789.59,808.94 L790.54,811.92 L791.49,815.93 L792.43,819.94 L793.38,822.75 L794.33,824.61 L795.27,825.99 L796.22,827.40 L797.17,829.30 L798.11,831.92 L799.06,835.09 L800.01,838.59 L800.95,842.21 L801.90,845.79 L802.85,849.30 L803.79,852.74 L804.74,856.12 L805.69,859.46 L806.63,862.74 L807.58,865.98 L808.53,869.17 L809.48,872.30 L810.42,875.38 L811.37,878.38 L812.32,881.30 L813.26,884.12 L814.21,886.85 L815.16,889.48 L816.10,892.01 L817.05,894.44 L818.00,896.77 L818.94,899.01 L819.89,901.15 L820.84,903.21 L821.78,905.17 L822.73,907.04 L823.68,908.81 L824.62,910.47 L825.57,912.02 L826.52,913.46 L827.46,914.78 L828.41,915.98 L829.36,917.04 L830.31,917.96 L831.25,918.72 L832.20,919.31 L833.15,919.72 L834.09,919.92 L835.04,919.90 L835.99,919.66 L836.93,919.22 L837.88,918.59 L838.83,917.80 L839.77,916.86 L840.72,915.78 L841.67,914.60 L842.61,913.33 L843.56,911.98 L844.51,910.55 L845.45,909.02 L846.40,907.39 L847.35,905.65 L848.29,903.79 L849.24,901.81 L850.19,899.70 L851.14,897.44 L852.08,895.04 L853.03,892.52 L853.98,889.89 L854.92,887.17 L855.87,884.40 L856.82,881.58 L857.76,878.76 L858.71,875.93 L859.66,873.14 L860.60,870.40 L861.55,867.72 L862.50,865.11 L863.44,862.56 L864.39,860.08 L865.34,857.68 L866.28,855.34 L867.23,853.08 L868.18,850.90 L869.13,848.79 L870.07,846.77 L871.02,844.82 L871.97,842.96 L872.91,841.18 L873.86,839.48 L874.81,837.87 L875.75,836.33 L876.70,834.88 L877.65,833.51 L878.59,832.23 L879.54,831.03 L880.49,829.91 L881.43,828.89 L882.38,827.95 L883.33,827.12 L884.27,826.38 L885.22,825.74 L886.17,825.21 L887.11,824.79 L888.06,824.49 L889.01,824.29 L889.96,824.22 L890.90,824.25 L891.85,824.39 L892.80,824.63 L893.74,824.95 L894.69,825.36 L895.64,825.84 L896.58,826.40 L897.53,827.01 L898.48,827.68 L899.42,828.39 L900.37,829.15 L901.32,829.95 L902.26,830.79 L903.21,831.68 L904.16,832.61 L905.10,833.58 L906.05,834.60 L907.00,835.66 L907.94,836.76 L908.89,837.91 L909.84,839.10 L910.79,840.33 L911.73,841.59 L912.68,842.88 L913.63,844.19 L914.57,845.51 L915.52,846.85 L916.47,848.20 L917.41,849.54 L918.36,850.88 L919.31,852.21 L920.25,853.52 L921.20,854.80 L922.15,856.04 L923.09,857.22 L924.04,858.34 L924.99,859.39 L925.93,860.35 L926.88,861.21 L927.83,861.96 L928.77,862.59 L929.72,863.10 L930.67,863.50 L931.62,863.79 L932.56,863.99 L933.51,864.10 L934.46,864.12 L935.40,864.07 L936.35,863.95 L937.30,863.75 L938.24,863.47 L939.19,863.12 L940.14,862.67 L941.08,862.13 L942.03,861.49 L942.98,860.75 L943.92,859.91 L944.87,858.95 L945.82,857.88 L946.76,856.70 L947.71,855.43 L948.66,854.08 L949.61,852.64 L950.55,851.13 L951.50,849.55 L952.45,847.92 L953.39,846.23 L954.34,844.50 L955.29,842.73 L956.23,840.93 L957.18,839.09 L958.13,837.23 L959.07,835.35 L960.02,833.44 L960.97,831.51 L961.91,829.56 L962.86,827.60 L963.81,825.62 L964.75,823.64 L965.70,821.65 L966.65,819.67 L967.59,817.69 L968.54,815.73 L969.49,813.79 L970.44,811.88 L971.38,810.01 L972.33,808.18 L973.28,806.40 L974.22,804.67 L975.17,803.01 L976.12,801.42 L977.06,799.91 L978.01,798.49 L978.96,797.16 L979.90,795.93 L980.85,794.80 L981.80,793.80 L982.74,792.92 L983.69,792.16 L984.64,791.55 L985.58,791.08 L986.53,790.73 L987.48,790.50 L988.42,790.36 L989.37,790.30 L990.32,790.31 L991.27,790.36 L992.21,790.45 L993.16,790.58 L994.11,790.75 L995.05,790.98 L996.00,791.25 L996.95,791.58 L997.89,791.96 L998.84,792.41 L999.79,792.91 L1000.73,793.49 L1001.68,794.12 L1002.63,794.81 L1003.57,795.56 L1004.52,796.37 L1005.47,797.23 L1006.41,798.13 L1007.36,799.08 L1008.31,800.08 L1009.25,801.12 L1010.20,802.19 L1011.15,803.30 L1012.10,804.44 L1013.04,805.60 L1013.99,806.79 L1014.94,807.99 L1015.88,809.20 L1016.83,810.42 L1017.78,811.64 L1018.72,812.86 L1019.67,814.07 L1020.62,815.27 L1021.56,816.46 L1022.51,817.62 L1023.46,818.76 L1024.40,819.88 L1025.35,820.96 L1026.30,822.01 L1027.24,823.01 L1028.19,823.98 L1029.14,824.89 L1030.08,825.76 L1031.03,826.57 L1031.98,827.33 L1032.93,828.05 L1033.87,828.72 L1034.82,829.36 L1035.77,829.98 L1036.71,830.56 L1037.66,831.12 L1038.61,831.67 L1039.55,832.20 L1040.50,832.73" stroke="#ff7f0e" stroke-width="3.8" fill="none" stroke-dasharray="10.6 6.45" stroke-dashoffset="3.5"/>
</g>
<rect x="743.20" y="701.90" width="312.10" height="263.45" fill="none" stroke="#000" stroke-width="3"/>
<path d="M730.80,713.88H743.20M730.80,833.62H743.20M730.80,953.38H743.20M757.40,965.35V977.75M947.40,965.35V977.75" stroke="#000" stroke-width="3" fill="none"/>
<text transform="translate(749.68,1008.62) scale(1.0884,1)" font-size="28.00">0</text>
<text transform="translate(925.05,1008.62) scale(1.0771,1)" font-size="27.85">100</text>
<text transform="translate(889.01,1049.46) scale(1.3114,1)" font-size="31.40" font-style="italic">n</text>
<text transform="translate(924.49,941.12) scale(0.9359,1)" font-size="34.44">(c.iii)</text>
<g clip-path="url(#cp23)">
<path d="M1084.90,829.53L1098.60,843.23M1084.90,843.23L1098.60,829.53M1103.90,819.97L1117.60,833.67M1103.90,833.67L1117.60,819.97M1122.90,827.52L1136.60,841.22M1122.90,841.22L1136.60,827.52M1141.90,825.00L1155.60,838.70M1141.90,838.70L1155.60,825.00M1160.90,828.02L1174.60,841.72M1160.90,841.72L1174.60,828.02M1179.90,818.71L1193.60,832.41M1179.90,832.41L1193.60,818.71M1198.90,821.73L1212.60,835.43M1198.90,835.43L1212.60,821.73M1217.90,818.71L1231.60,832.41M1217.90,832.41L1231.60,818.71M1236.90,826.76L1250.60,840.46M1236.90,840.46L1250.60,826.76M1255.90,820.47L1269.60,834.17M1255.90,834.17L1269.60,820.47M1274.90,812.42L1288.60,826.12M1274.90,826.12L1288.60,812.42M1293.90,821.23L1307.60,834.93M1293.90,834.93L1307.60,821.23M1312.90,831.29L1326.60,844.99M1312.90,844.99L1326.60,831.29M1331.90,829.53L1345.60,843.23M1331.90,843.23L1345.60,829.53M1350.90,822.48L1364.60,836.18M1350.90,836.18L1364.60,822.48" stroke="#000" stroke-width="3.8" fill="none"/>
<path d="M1091.75,833.36 L1092.70,833.36 L1093.64,833.36 L1094.59,833.35 L1095.54,833.35 L1096.48,833.35 L1097.43,833.35 L1098.38,833.34 L1099.32,833.34 L1100.27,833.34 L1101.22,833.34 L1102.17,833.34 L1103.11,833.33 L1104.06,833.33 L1105.01,833.33 L1105.95,833.33 L1106.90,833.32 L1107.85,833.32 L1108.79,833.32 L1109.74,833.32 L1110.69,833.32 L1111.63,833.31 L1112.58,833.31 L1113.53,833.31 L1114.47,833.31 L1115.42,833.31 L1116.37,833.30 L1117.31,833.30 L1118.26,833.30 L1119.21,833.30 L1120.15,833.30 L1121.10,833.29 L1122.05,833.29 L1123.00,833.29 L1123.94,833.29 L1124.89,833.28 L1125.84,833.28 L1126.78,833.28 L1127.73,833.28 L1128.68,833.28 L1129.62,833.27 L1130.57,833.27 L1131.52,833.27 L1132.46,833.27 L1133.41,833.27 L1134.36,833.26 L1135.30,833.26 L1136.25,833.26 L1137.20,833.26 L1138.14,833.26 L1139.09,833.25 L1140.04,833.25 L1140.98,833.25 L1141.93,833.25 L1142.88,833.25 L1143.83,833.24 L1144.77,833.24 L1145.72,833.24 L1146.67,833.24 L1147.61,833.24 L1148.56,833.23 L1149.51,833.23 L1150.45,833.23 L1151.40,833.23 L1152.35,833.23 L1153.29,833.22 L1154.24,833.22 L1155.19,833.22 L1156.13,833.22 L1157.08,833.22 L1158.03,833.22 L1158.97,833.21 L1159.92,833.21 L1160.87,833.21 L1161.81,833.21 L1162.76,833.21 L1163.71,833.20 L1164.66,833.20 L1165.60,833.20 L1166.55,833.20 L1167.50,833.20 L1168.44,833.20 L1169.39,833.19 L1170.34,833.19 L1171.28,833.19 L1172.23,833.19 L1173.18,833.19 L1174.12,833.18 L1175.07,833.18 L1176.02,833.18 L1176.96,833.18 L1177.91,833.18 L1178.86,833.18 L1179.80,833.17 L1180.75,833.17 L1181.70,833.17 L1182.64,833.17 L1183.59,833.17 L1184.54,833.17 L1185.49,833.17 L1186.43,833.16 L1187.38,833.16 L1188.33,833.16 L1189.27,833.16 L1190.22,833.16 L1191.17,833.16 L1192.11,833.15 L1193.06,833.15 L1194.01,833.15 L1194.95,833.15 L1195.90,833.15 L1196.85,833.15 L1197.79,833.15 L1198.74,833.14 L1199.69,833.14 L1200.63,833.14 L1201.58,833.14 L1202.53,833.14 L1203.48,833.14 L1204.42,833.14 L1205.37,833.14 L1206.32,833.13 L1207.26,833.13 L1208.21,833.13 L1209.16,833.13 L1210.10,833.13 L1211.05,833.13 L1212.00,833.13 L1212.94,833.13 L1213.89,833.12 L1214.84,833.12 L1215.78,833.12 L1216.73,833.12 L1217.68,833.12 L1218.62,833.12 L1219.57,833.12 L1220.52,833.12 L1221.46,833.12 L1222.41,833.11 L1223.36,833.11 L1224.31,833.11 L1225.25,833.11 L1226.20,833.11 L1227.15,833.11 L1228.09,833.11 L1229.04,833.11 L1229.99,833.11 L1230.93,833.11 L1231.88,833.11 L1232.83,833.10 L1233.77,833.10 L1234.72,833.10 L1235.67,833.10 L1236.61,833.10 L1237.56,833.10 L1238.51,833.10 L1239.45,833.10 L1240.40,833.10 L1241.35,833.10 L1242.29,833.10 L1243.24,833.10 L1244.19,833.10 L1245.14,833.10 L1246.08,833.09 L1247.03,833.09 L1247.98,833.09 L1248.92,833.09 L1249.87,833.09 L1250.82,833.09 L1251.76,833.09 L1252.71,833.09 L1253.66,833.09 L1254.60,833.09 L1255.55,833.09 L1256.50,833.09 L1257.44,833.09 L1258.39,833.09 L1259.34,833.09 L1260.28,833.09 L1261.23,833.09 L1262.18,833.09 L1263.12,833.09 L1264.07,833.09 L1265.02,833.09 L1265.97,833.09 L1266.91,833.08 L1267.86,833.08 L1268.81,833.08 L1269.75,833.08 L1270.70,833.08 L1271.65,833.08 L1272.59,833.08 L1273.54,833.08 L1274.49,833.08 L1275.43,833.08 L1276.38,833.08 L1277.33,833.08 L1278.27,833.08 L1279.22,833.08 L1280.17,833.08 L1281.11,833.08 L1282.06,833.08 L1283.01,833.08 L1283.96,833.08 L1284.90,833.08 L1285.85,833.08 L1286.80,833.08 L1287.74,833.08 L1288.69,833.08 L1289.64,833.08 L1290.58,833.08 L1291.53,833.08 L1292.48,833.08 L1293.42,833.08 L1294.37,833.08 L1295.32,833.08 L1296.26,833.08 L1297.21,833.08 L1298.16,833.08 L1299.10,833.08 L1300.05,833.08 L1301.00,833.08 L1301.94,833.08 L1302.89,833.08 L1303.84,833.08 L1304.79,833.08 L1305.73,833.08 L1306.68,833.08 L1307.63,833.08 L1308.57,833.08 L1309.52,833.08 L1310.47,833.08 L1311.41,833.08 L1312.36,833.08 L1313.31,833.08 L1314.25,833.08 L1315.20,833.08 L1316.15,833.09 L1317.09,833.09 L1318.04,833.09 L1318.99,833.09 L1319.93,833.09 L1320.88,833.09 L1321.83,833.09 L1322.77,833.09 L1323.72,833.09 L1324.67,833.09 L1325.62,833.09 L1326.56,833.09 L1327.51,833.09 L1328.46,833.09 L1329.40,833.09 L1330.35,833.09 L1331.30,833.09 L1332.24,833.09 L1333.19,833.09 L1334.14,833.09 L1335.08,833.09 L1336.03,833.09 L1336.98,833.09 L1337.92,833.09 L1338.87,833.09 L1339.82,833.09 L1340.76,833.09 L1341.71,833.09 L1342.66,833.09 L1343.60,833.09 L1344.55,833.09 L1345.50,833.10 L1346.45,833.10 L1347.39,833.10 L1348.34,833.10 L1349.29,833.10 L1350.23,833.10 L1351.18,833.10 L1352.13,833.10 L1353.07,833.10 L1354.02,833.10 L1354.97,833.10 L1355.91,833.10 L1356.86,833.10 L1357.81,833.10 L1358.75,833.10 L1359.70,833.10 L1360.65,833.10 L1361.59,833.10 L1362.54,833.10 L1363.49,833.10 L1364.43,833.10 L1365.38,833.10 L1366.33,833.10 L1367.28,833.10 L1368.22,833.11 L1369.17,833.11 L1370.12,833.11 L1371.06,833.11 L1372.01,833.11 L1372.96,833.11 L1373.90,833.11 L1374.85,833.11" stroke="#1f77b4" stroke-width="3.8" fill="none" stroke-dasharray="10.6 6.45" stroke-dashoffset="2.5"/>
<path d="M1091.75,833.11 L1092.70,833.11 L1093.64,833.10 L1094.59,833.10 L1095.54,833.10 L1096.48,833.10 L1097.43,833.09 L1098.38,833.09 L1099.32,833.09 L1100.27,833.09 L1101.22,833.09 L1102.17,833.08 L1103.11,833.08 L1104.06,833.08 L1105.01,833.08 L1105.95,833.08 L1106.90,833.07 L1107.85,833.07 L1108.79,833.07 L1109.74,833.07 L1110.69,833.06 L1111.63,833.06 L1112.58,833.06 L1113.53,833.06 L1114.47,833.06 L1115.42,833.05 L1116.37,833.05 L1117.31,833.05 L1118.26,833.05 L1119.21,833.05 L1120.15,833.04 L1121.10,833.04 L1122.05,833.04 L1123.00,833.04 L1123.94,833.04 L1124.89,833.03 L1125.84,833.03 L1126.78,833.03 L1127.73,833.03 L1128.68,833.02 L1129.62,833.02 L1130.57,833.02 L1131.52,833.02 L1132.46,833.02 L1133.41,833.01 L1134.36,833.01 L1135.30,833.01 L1136.25,833.01 L1137.20,833.01 L1138.14,833.00 L1139.09,833.00 L1140.04,833.00 L1140.98,833.00 L1141.93,833.00 L1142.88,832.99 L1143.83,832.99 L1144.77,832.99 L1145.72,832.99 L1146.67,832.99 L1147.61,832.98 L1148.56,832.98 L1149.51,832.98 L1150.45,832.98 L1151.40,832.98 L1152.35,832.97 L1153.29,832.97 L1154.24,832.97 L1155.19,832.97 L1156.13,832.97 L1157.08,832.97 L1158.03,832.96 L1158.97,832.96 L1159.92,832.96 L1160.87,832.96 L1161.81,832.96 L1162.76,832.95 L1163.71,832.95 L1164.66,832.95 L1165.60,832.95 L1166.55,832.95 L1167.50,832.95 L1168.44,832.94 L1169.39,832.94 L1170.34,832.94 L1171.28,832.94 L1172.23,832.94 L1173.18,832.93 L1174.12,832.93 L1175.07,832.93 L1176.02,832.93 L1176.96,832.93 L1177.91,832.93 L1178.86,832.92 L1179.80,832.92 L1180.75,832.92 L1181.70,832.92 L1182.64,832.92 L1183.59,832.92 L1184.54,832.91 L1185.49,832.91 L1186.43,832.91 L1187.38,832.91 L1188.33,832.91 L1189.27,832.91 L1190.22,832.91 L1191.17,832.90 L1192.11,832.90 L1193.06,832.90 L1194.01,832.90 L1194.95,832.90 L1195.90,832.90 L1196.85,832.90 L1197.79,832.89 L1198.74,832.89 L1199.69,832.89 L1200.63,832.89 L1201.58,832.89 L1202.53,832.89 L1203.48,832.89 L1204.42,832.88 L1205.37,832.88 L1206.32,832.88 L1207.26,832.88 L1208.21,832.88 L1209.16,832.88 L1210.10,832.88 L1211.05,832.88 L1212.00,832.87 L1212.94,832.87 L1213.89,832.87 L1214.84,832.87 L1215.78,832.87 L1216.73,832.87 L1217.68,832.87 L1218.62,832.87 L1219.57,832.87 L1220.52,832.86 L1221.46,832.86 L1222.41,832.86 L1223.36,832.86 L1224.31,832.86 L1225.25,832.86 L1226.20,832.86 L1227.15,832.86 L1228.09,832.86 L1229.04,832.86 L1229.99,832.86 L1230.93,832.85 L1231.88,832.85 L1232.83,832.85 L1233.77,832.85 L1234.72,832.85 L1235.67,832.85 L1236.61,832.85 L1237.56,832.85 L1238.51,832.85 L1239.45,832.85 L1240.40,832.85 L1241.35,832.85 L1242.29,832.85 L1243.24,832.84 L1244.19,832.84 L1245.14,832.84 L1246.08,832.84 L1247.03,832.84 L1247.98,832.84 L1248.92,832.84 L1249.87,832.84 L1250.82,832.84 L1251.76,832.84 L1252.71,832.84 L1253.66,832.84 L1254.60,832.84 L1255.55,832.84 L1256.50,832.84 L1257.44,832.84 L1258.39,832.84 L1259.34,832.84 L1260.28,832.84 L1261.23,832.84 L1262.18,832.83 L1263.12,832.83 L1264.07,832.83 L1265.02,832.83 L1265.97,832.83 L1266.91,832.83 L1267.86,832.83 L1268.81,832.83 L1269.75,832.83 L1270.70,832.83 L1271.65,832.83 L1272.59,832.83 L1273.54,832.83 L1274.49,832.83 L1275.43,832.83 L1276.38,832.83 L1277.33,832.83 L1278.27,832.83 L1279.22,832.83 L1280.17,832.83 L1281.11,832.83 L1282.06,832.83 L1283.01,832.83 L1283.96,832.83 L1284.90,832.83 L1285.85,832.83 L1286.80,832.83 L1287.74,832.83 L1288.69,832.83 L1289.64,832.83 L1290.58,832.83 L1291.53,832.83 L1292.48,832.83 L1293.42,832.83 L1294.37,832.83 L1295.32,832.83 L1296.26,832.83 L1297.21,832.83 L1298.16,832.83 L1299.10,832.83 L1300.05,832.83 L1301.00,832.83 L1301.94,832.83 L1302.89,832.83 L1303.84,832.83 L1304.79,832.83 L1305.73,832.83 L1306.68,832.83 L1307.63,832.83 L1308.57,832.83 L1309.52,832.83 L1310.47,832.83 L1311.41,832.83 L1312.36,832.83 L1313.31,832.83 L1314.25,832.83 L1315.20,832.83 L1316.15,832.83 L1317.09,832.83 L1318.04,832.83 L1318.99,832.83 L1319.93,832.83 L1320.88,832.83 L1321.83,832.83 L1322.77,832.84 L1323.72,832.84 L1324.67,832.84 L1325.62,832.84 L1326.56,832.84 L1327.51,832.84 L1328.46,832.84 L1329.40,832.84 L1330.35,832.84 L1331.30,832.84 L1332.24,832.84 L1333.19,832.84 L1334.14,832.84 L1335.08,832.84 L1336.03,832.84 L1336.98,832.84 L1337.92,832.84 L1338.87,832.84 L1339.82,832.84 L1340.76,832.84 L1341.71,832.84 L1342.66,832.84 L1343.60,832.84 L1344.55,832.84 L1345.50,832.84 L1346.45,832.84 L1347.39,832.84 L1348.34,832.84 L1349.29,832.85 L1350.23,832.85 L1351.18,832.85 L1352.13,832.85 L1353.07,832.85 L1354.02,832.85 L1354.97,832.85 L1355.91,832.85 L1356.86,832.85 L1357.81,832.85 L1358.75,832.85 L1359.70,832.85 L1360.65,832.85 L1361.59,832.85 L1362.54,832.85 L1363.49,832.85 L1364.43,832.85 L1365.38,832.85 L1366.33,832.85 L1367.28,832.85 L1368.22,832.85 L1369.17,832.85 L1370.12,832.85 L1371.06,832.86 L1372.01,832.86 L1372.96,832.86 L1373.90,832.86 L1374.85,832.86" stroke="#ff7f0e" stroke-width="3.8" fill="none" stroke-dasharray="10.6 6.45" stroke-dashoffset="3.5"/>
</g>
<rect x="1077.55" y="701.90" width="312.10" height="263.45" fill="none" stroke="#000" stroke-width="3"/>
<path d="M1065.15,713.88H1077.55M1065.15,833.62H1077.55M1065.15,953.38H1077.55M1091.75,965.35V977.75M1281.75,965.35V977.75" stroke="#000" stroke-width="3" fill="none"/>
<text transform="translate(1084.03,1008.62) scale(1.0884,1)" font-size="28.00">0</text>
<text transform="translate(1259.40,1008.62) scale(1.0771,1)" font-size="27.85">100</text>
<text transform="translate(1223.36,1049.46) scale(1.3114,1)" font-size="31.40" font-style="italic">n</text>
<text transform="translate(1255.24,941.12) scale(0.9600,1)" font-size="34.44">(d.iii)</text>
<g clip-path="url(#cp24)">
<path d="M1419.25,830.03L1432.95,843.73M1419.25,843.73L1432.95,830.03M1438.25,819.97L1451.95,833.67M1438.25,833.67L1451.95,819.97M1457.25,826.26L1470.95,839.96M1457.25,839.96L1470.95,826.26M1476.25,822.48L1489.95,836.18M1476.25,836.18L1489.95,822.48M1495.25,821.98L1508.95,835.68M1495.25,835.68L1508.95,821.98M1514.25,820.47L1527.95,834.17M1514.25,834.17L1527.95,820.47M1533.25,816.19L1546.95,829.89M1533.25,829.89L1546.95,816.19M1552.25,812.42L1565.95,826.12M1552.25,826.12L1565.95,812.42M1571.25,814.43L1584.95,828.13M1571.25,828.13L1584.95,814.43M1590.25,814.43L1603.95,828.13M1590.25,828.13L1603.95,814.43M1609.25,801.85L1622.95,815.55M1609.25,815.55L1622.95,801.85M1628.25,801.10L1641.95,814.80M1628.25,814.80L1641.95,801.10M1647.25,801.10L1660.95,814.80M1647.25,814.80L1660.95,801.10M1666.25,809.40L1679.95,823.10M1666.25,823.10L1679.95,809.40M1685.25,801.85L1698.95,815.55M1685.25,815.55L1698.95,801.85" stroke="#000" stroke-width="3.8" fill="none"/>
<path d="M1426.10,832.41 L1427.05,831.11 L1427.99,829.82 L1428.94,828.53 L1429.89,827.25 L1430.83,825.99 L1431.78,824.74 L1432.73,823.51 L1433.67,822.31 L1434.62,821.13 L1435.57,819.98 L1436.52,818.86 L1437.46,817.77 L1438.41,816.72 L1439.36,815.69 L1440.30,814.69 L1441.25,813.72 L1442.20,812.77 L1443.14,811.84 L1444.09,810.93 L1445.04,810.04 L1445.98,809.17 L1446.93,808.31 L1447.88,807.46 L1448.82,806.62 L1449.77,805.79 L1450.72,804.97 L1451.66,804.16 L1452.61,803.36 L1453.56,802.57 L1454.50,801.79 L1455.45,801.03 L1456.40,800.28 L1457.35,799.54 L1458.29,798.82 L1459.24,798.12 L1460.19,797.43 L1461.13,796.76 L1462.08,796.10 L1463.03,795.47 L1463.97,794.85 L1464.92,794.25 L1465.87,793.66 L1466.81,793.09 L1467.76,792.53 L1468.71,791.98 L1469.65,791.44 L1470.60,790.91 L1471.55,790.39 L1472.49,789.88 L1473.44,789.37 L1474.39,788.87 L1475.33,788.38 L1476.28,787.89 L1477.23,787.40 L1478.18,786.92 L1479.12,786.44 L1480.07,785.96 L1481.02,785.50 L1481.96,785.04 L1482.91,784.58 L1483.86,784.14 L1484.80,783.71 L1485.75,783.29 L1486.70,782.88 L1487.64,782.48 L1488.59,782.10 L1489.54,781.74 L1490.48,781.39 L1491.43,781.05 L1492.38,780.74 L1493.32,780.44 L1494.27,780.16 L1495.22,779.89 L1496.16,779.64 L1497.11,779.41 L1498.06,779.19 L1499.01,778.98 L1499.95,778.79 L1500.90,778.61 L1501.85,778.44 L1502.79,778.28 L1503.74,778.14 L1504.69,778.00 L1505.63,777.87 L1506.58,777.75 L1507.53,777.64 L1508.47,777.54 L1509.42,777.45 L1510.37,777.36 L1511.31,777.28 L1512.26,777.21 L1513.21,777.15 L1514.15,777.10 L1515.10,777.05 L1516.05,777.01 L1516.99,776.99 L1517.94,776.96 L1518.89,776.95 L1519.84,776.95 L1520.78,776.95 L1521.73,776.97 L1522.68,776.99 L1523.62,777.02 L1524.57,777.06 L1525.52,777.12 L1526.46,777.18 L1527.41,777.26 L1528.36,777.34 L1529.30,777.44 L1530.25,777.55 L1531.20,777.67 L1532.14,777.80 L1533.09,777.95 L1534.04,778.10 L1534.98,778.27 L1535.93,778.44 L1536.88,778.63 L1537.83,778.83 L1538.77,779.03 L1539.72,779.24 L1540.67,779.46 L1541.61,779.68 L1542.56,779.91 L1543.51,780.15 L1544.45,780.39 L1545.40,780.63 L1546.35,780.88 L1547.29,781.13 L1548.24,781.38 L1549.19,781.63 L1550.13,781.89 L1551.08,782.15 L1552.03,782.41 L1552.97,782.67 L1553.92,782.94 L1554.87,783.20 L1555.81,783.48 L1556.76,783.75 L1557.71,784.02 L1558.66,784.30 L1559.60,784.58 L1560.55,784.86 L1561.50,785.15 L1562.44,785.44 L1563.39,785.73 L1564.34,786.02 L1565.28,786.32 L1566.23,786.62 L1567.18,786.92 L1568.12,787.23 L1569.07,787.54 L1570.02,787.86 L1570.96,788.17 L1571.91,788.50 L1572.86,788.82 L1573.80,789.15 L1574.75,789.49 L1575.70,789.83 L1576.64,790.17 L1577.59,790.52 L1578.54,790.87 L1579.49,791.23 L1580.43,791.59 L1581.38,791.95 L1582.33,792.32 L1583.27,792.69 L1584.22,793.06 L1585.17,793.43 L1586.11,793.79 L1587.06,794.16 L1588.01,794.53 L1588.95,794.90 L1589.90,795.26 L1590.85,795.62 L1591.79,795.97 L1592.74,796.33 L1593.69,796.68 L1594.63,797.02 L1595.58,797.36 L1596.53,797.71 L1597.47,798.05 L1598.42,798.38 L1599.37,798.72 L1600.32,799.06 L1601.26,799.41 L1602.21,799.75 L1603.16,800.10 L1604.10,800.45 L1605.05,800.80 L1606.00,801.16 L1606.94,801.52 L1607.89,801.90 L1608.84,802.27 L1609.78,802.65 L1610.73,803.04 L1611.68,803.43 L1612.62,803.83 L1613.57,804.23 L1614.52,804.63 L1615.46,805.03 L1616.41,805.43 L1617.36,805.83 L1618.31,806.23 L1619.25,806.64 L1620.20,807.04 L1621.15,807.43 L1622.09,807.83 L1623.04,808.22 L1623.99,808.61 L1624.93,808.99 L1625.88,809.37 L1626.83,809.75 L1627.77,810.12 L1628.72,810.49 L1629.67,810.86 L1630.61,811.22 L1631.56,811.58 L1632.51,811.93 L1633.45,812.28 L1634.40,812.63 L1635.35,812.97 L1636.29,813.31 L1637.24,813.65 L1638.19,813.98 L1639.14,814.31 L1640.08,814.64 L1641.03,814.96 L1641.98,815.28 L1642.92,815.60 L1643.87,815.92 L1644.82,816.23 L1645.76,816.54 L1646.71,816.85 L1647.66,817.16 L1648.60,817.47 L1649.55,817.78 L1650.50,818.09 L1651.44,818.40 L1652.39,818.71 L1653.34,819.02 L1654.28,819.32 L1655.23,819.63 L1656.18,819.94 L1657.12,820.25 L1658.07,820.56 L1659.02,820.86 L1659.97,821.17 L1660.91,821.47 L1661.86,821.77 L1662.81,822.07 L1663.75,822.36 L1664.70,822.65 L1665.65,822.94 L1666.59,823.23 L1667.54,823.51 L1668.49,823.79 L1669.43,824.06 L1670.38,824.33 L1671.33,824.59 L1672.27,824.85 L1673.22,825.11 L1674.17,825.36 L1675.11,825.62 L1676.06,825.86 L1677.01,826.11 L1677.95,826.36 L1678.90,826.60 L1679.85,826.84 L1680.80,827.08 L1681.74,827.32 L1682.69,827.55 L1683.64,827.79 L1684.58,828.02 L1685.53,828.26 L1686.48,828.49 L1687.42,828.73 L1688.37,828.96 L1689.32,829.20 L1690.26,829.43 L1691.21,829.67 L1692.16,829.90 L1693.10,830.14 L1694.05,830.38 L1695.00,830.61 L1695.94,830.85 L1696.89,831.10 L1697.84,831.34 L1698.78,831.59 L1699.73,831.83 L1700.68,832.08 L1701.63,832.33 L1702.57,832.58 L1703.52,832.84 L1704.47,833.09 L1705.41,833.35 L1706.36,833.60 L1707.31,833.86 L1708.25,834.11 L1709.20,834.37" stroke="#1f77b4" stroke-width="3.8" fill="none" stroke-dasharray="10.6 6.45" stroke-dashoffset="0"/>
<path d="M1426.10,833.71 L1427.05,833.89 L1427.99,834.08 L1428.94,834.26 L1429.89,834.45 L1430.83,834.63 L1431.78,834.81 L1432.73,834.99 L1433.67,835.17 L1434.62,835.34 L1435.57,835.52 L1436.52,835.69 L1437.46,835.86 L1438.41,836.03 L1439.36,836.19 L1440.30,836.35 L1441.25,836.51 L1442.20,836.67 L1443.14,836.82 L1444.09,836.97 L1445.04,837.11 L1445.98,837.25 L1446.93,837.39 L1447.88,837.52 L1448.82,837.65 L1449.77,837.77 L1450.72,837.89 L1451.66,838.00 L1452.61,838.11 L1453.56,838.21 L1454.50,838.31 L1455.45,838.41 L1456.40,838.50 L1457.35,838.58 L1458.29,838.66 L1459.24,838.74 L1460.19,838.81 L1461.13,838.88 L1462.08,838.95 L1463.03,839.01 L1463.97,839.06 L1464.92,839.11 L1465.87,839.16 L1466.81,839.21 L1467.76,839.24 L1468.71,839.28 L1469.65,839.31 L1470.60,839.34 L1471.55,839.36 L1472.49,839.37 L1473.44,839.39 L1474.39,839.40 L1475.33,839.40 L1476.28,839.40 L1477.23,839.40 L1478.18,839.39 L1479.12,839.37 L1480.07,839.36 L1481.02,839.33 L1481.96,839.31 L1482.91,839.28 L1483.86,839.25 L1484.80,839.22 L1485.75,839.18 L1486.70,839.14 L1487.64,839.10 L1488.59,839.05 L1489.54,839.00 L1490.48,838.95 L1491.43,838.90 L1492.38,838.85 L1493.32,838.79 L1494.27,838.74 L1495.22,838.67 L1496.16,838.61 L1497.11,838.55 L1498.06,838.48 L1499.01,838.40 L1499.95,838.32 L1500.90,838.24 L1501.85,838.16 L1502.79,838.06 L1503.74,837.97 L1504.69,837.87 L1505.63,837.76 L1506.58,837.64 L1507.53,837.52 L1508.47,837.40 L1509.42,837.26 L1510.37,837.12 L1511.31,836.98 L1512.26,836.83 L1513.21,836.68 L1514.15,836.52 L1515.10,836.36 L1516.05,836.19 L1516.99,836.02 L1517.94,835.85 L1518.89,835.67 L1519.84,835.49 L1520.78,835.31 L1521.73,835.12 L1522.68,834.93 L1523.62,834.74 L1524.57,834.55 L1525.52,834.36 L1526.46,834.16 L1527.41,833.96 L1528.36,833.76 L1529.30,833.55 L1530.25,833.35 L1531.20,833.14 L1532.14,832.93 L1533.09,832.72 L1534.04,832.50 L1534.98,832.28 L1535.93,832.06 L1536.88,831.84 L1537.83,831.61 L1538.77,831.38 L1539.72,831.15 L1540.67,830.92 L1541.61,830.68 L1542.56,830.45 L1543.51,830.21 L1544.45,829.97 L1545.40,829.73 L1546.35,829.49 L1547.29,829.25 L1548.24,829.01 L1549.19,828.77 L1550.13,828.53 L1551.08,828.29 L1552.03,828.05 L1552.97,827.81 L1553.92,827.57 L1554.87,827.33 L1555.81,827.09 L1556.76,826.86 L1557.71,826.62 L1558.66,826.38 L1559.60,826.15 L1560.55,825.91 L1561.50,825.68 L1562.44,825.44 L1563.39,825.20 L1564.34,824.97 L1565.28,824.73 L1566.23,824.50 L1567.18,824.26 L1568.12,824.02 L1569.07,823.79 L1570.02,823.55 L1570.96,823.31 L1571.91,823.08 L1572.86,822.84 L1573.80,822.60 L1574.75,822.36 L1575.70,822.13 L1576.64,821.89 L1577.59,821.65 L1578.54,821.42 L1579.49,821.18 L1580.43,820.94 L1581.38,820.71 L1582.33,820.47 L1583.27,820.24 L1584.22,820.01 L1585.17,819.77 L1586.11,819.54 L1587.06,819.30 L1588.01,819.07 L1588.95,818.84 L1589.90,818.60 L1590.85,818.37 L1591.79,818.13 L1592.74,817.89 L1593.69,817.65 L1594.63,817.41 L1595.58,817.17 L1596.53,816.93 L1597.47,816.68 L1598.42,816.44 L1599.37,816.19 L1600.32,815.94 L1601.26,815.69 L1602.21,815.45 L1603.16,815.20 L1604.10,814.95 L1605.05,814.71 L1606.00,814.47 L1606.94,814.23 L1607.89,814.00 L1608.84,813.77 L1609.78,813.55 L1610.73,813.33 L1611.68,813.12 L1612.62,812.91 L1613.57,812.71 L1614.52,812.52 L1615.46,812.33 L1616.41,812.15 L1617.36,811.98 L1618.31,811.81 L1619.25,811.64 L1620.20,811.49 L1621.15,811.34 L1622.09,811.19 L1623.04,811.05 L1623.99,810.91 L1624.93,810.78 L1625.88,810.66 L1626.83,810.53 L1627.77,810.42 L1628.72,810.30 L1629.67,810.19 L1630.61,810.09 L1631.56,809.99 L1632.51,809.90 L1633.45,809.80 L1634.40,809.72 L1635.35,809.64 L1636.29,809.56 L1637.24,809.49 L1638.19,809.43 L1639.14,809.37 L1640.08,809.32 L1641.03,809.27 L1641.98,809.22 L1642.92,809.19 L1643.87,809.16 L1644.82,809.13 L1645.76,809.11 L1646.71,809.10 L1647.66,809.08 L1648.60,809.08 L1649.55,809.08 L1650.50,809.08 L1651.44,809.09 L1652.39,809.10 L1653.34,809.11 L1654.28,809.12 L1655.23,809.14 L1656.18,809.17 L1657.12,809.19 L1658.07,809.22 L1659.02,809.25 L1659.97,809.28 L1660.91,809.31 L1661.86,809.34 L1662.81,809.38 L1663.75,809.42 L1664.70,809.47 L1665.65,809.51 L1666.59,809.56 L1667.54,809.61 L1668.49,809.67 L1669.43,809.73 L1670.38,809.79 L1671.33,809.86 L1672.27,809.93 L1673.22,810.00 L1674.17,810.08 L1675.11,810.16 L1676.06,810.24 L1677.01,810.33 L1677.95,810.42 L1678.90,810.52 L1679.85,810.63 L1680.80,810.74 L1681.74,810.85 L1682.69,810.97 L1683.64,811.10 L1684.58,811.23 L1685.53,811.36 L1686.48,811.51 L1687.42,811.66 L1688.37,811.81 L1689.32,811.98 L1690.26,812.15 L1691.21,812.32 L1692.16,812.50 L1693.10,812.69 L1694.05,812.88 L1695.00,813.07 L1695.94,813.27 L1696.89,813.47 L1697.84,813.68 L1698.78,813.88 L1699.73,814.09 L1700.68,814.30 L1701.63,814.52 L1702.57,814.73 L1703.52,814.94 L1704.47,815.16 L1705.41,815.38 L1706.36,815.60 L1707.31,815.81 L1708.25,816.03 L1709.20,816.25" stroke="#ff7f0e" stroke-width="3.8" fill="none" stroke-dasharray="10.6 6.45" stroke-dashoffset="3.5"/>
</g>
<rect x="1411.90" y="701.90" width="312.10" height="263.45" fill="none" stroke="#000" stroke-width="3"/>
<path d="M1399.50,713.88H1411.90M1399.50,833.62H1411.90M1399.50,953.38H1411.90M1426.10,965.35V977.75M1616.10,965.35V977.75" stroke="#000" stroke-width="3" fill="none"/>
<text transform="translate(1418.38,1008.62) scale(1.0884,1)" font-size="28.00">0</text>
<text transform="translate(1593.75,1008.62) scale(1.0771,1)" font-size="27.85">100</text>
<text transform="translate(1557.71,1049.46) scale(1.3114,1)" font-size="31.40" font-style="italic">n</text>
<text transform="translate(1593.19,941.12) scale(0.9359,1)" font-size="34.44">(e.iii)</text>
<text transform="translate(169.98,102.35) scale(1.0304,1)" font-size="35.35" font-style="italic">θ</text>
<text transform="translate(187.27,107.55) scale(1.1106,1)" font-size="24.93">full</text>
<text transform="translate(236.33,104.49) scale(1.4721,1)" font-size="33.60">=</text>
<text transform="translate(272.34,102.74) scale(1.0203,1)" font-size="35.70">0</text>
<text transform="translate(495.68,102.35) scale(1.0304,1)" font-size="35.35" font-style="italic">θ</text>
<text transform="translate(512.97,107.55) scale(1.1106,1)" font-size="24.93">full</text>
<text transform="translate(562.03,104.49) scale(1.4721,1)" font-size="33.60">=</text>
<text transform="translate(602.26,88.60) scale(1.3118,1)" font-size="24.39">2</text>
<text transform="translate(617.16,88.56) scale(1.1417,1)" font-size="24.09" font-style="italic">π</text>
<rect x="602.30" y="92.45" width="30.7" height="1.5" fill="#000"/>
<text transform="translate(611.01,114.05) scale(1.0552,1)" font-size="25.11">5</text>
<text transform="translate(837.18,102.35) scale(1.0304,1)" font-size="35.35" font-style="italic">θ</text>
<text transform="translate(854.47,107.55) scale(1.1106,1)" font-size="24.93">full</text>
<text transform="translate(903.53,104.49) scale(1.4721,1)" font-size="33.60">=</text>
<text transform="translate(940.92,102.36) scale(1.0470,1)" font-size="33.98" font-style="italic">π</text>
<text transform="translate(1162.98,102.35) scale(1.0304,1)" font-size="35.35" font-style="italic">θ</text>
<text transform="translate(1180.27,107.55) scale(1.1106,1)" font-size="24.93">full</text>
<text transform="translate(1229.33,104.49) scale(1.4721,1)" font-size="33.60">=</text>
<text transform="translate(1265.65,102.60) scale(1.0278,1)" font-size="35.76">2</text>
<text transform="translate(1283.42,102.36) scale(1.0753,1)" font-size="33.98" font-style="italic">π</text>
<text transform="translate(1497.33,102.35) scale(1.0304,1)" font-size="35.35" font-style="italic">θ</text>
<text transform="translate(1514.62,107.55) scale(1.1106,1)" font-size="24.93">full</text>
<text transform="translate(1563.68,104.49) scale(1.4721,1)" font-size="33.60">=</text>
<text transform="translate(1599.86,102.25) scale(1.0179,1)" font-size="35.22">3</text>
<text transform="translate(1617.77,102.36) scale(1.0753,1)" font-size="33.98" font-style="italic">π</text>
<text transform="translate(26.22,290.58) rotate(-90) scale(1.0805,1)" font-size="34.49" style="stroke-width:0.9px">⟨</text>
<text transform="translate(23.44,277.63) rotate(-90) scale(1.2851,1)" font-size="26.10" font-style="italic">σ</text>
<text transform="translate(22.39,272.79) rotate(-90) scale(0.8983,1)" font-size="29.33">ˆ</text>
<text transform="translate(27.00,258.27) rotate(-90) scale(1.2377,1)" font-size="20.88" font-style="italic">x</text>
<text transform="translate(26.22,246.11) rotate(-90) scale(1.0805,1)" font-size="34.49" style="stroke-width:0.9px">⟩</text>
<text transform="translate(26.22,576.78) rotate(-90) scale(1.0805,1)" font-size="34.49" style="stroke-width:0.9px">⟨</text>
<text transform="translate(23.44,563.83) rotate(-90) scale(1.2851,1)" font-size="26.10" font-style="italic">σ</text>
<text transform="translate(22.39,558.99) rotate(-90) scale(0.8983,1)" font-size="29.33">ˆ</text>
<text transform="translate(26.51,542.96) rotate(-90) scale(0.9933,1)" font-size="20.90" font-style="italic">y</text>
<text transform="translate(26.22,532.31) rotate(-90) scale(1.0805,1)" font-size="34.49" style="stroke-width:0.9px">⟩</text>
<text transform="translate(26.22,862.98) rotate(-90) scale(1.0805,1)" font-size="34.49" style="stroke-width:0.9px">⟨</text>
<text transform="translate(23.44,850.03) rotate(-90) scale(1.2851,1)" font-size="26.10" font-style="italic">σ</text>
<text transform="translate(22.39,845.19) rotate(-90) scale(0.8983,1)" font-size="29.33">ˆ</text>
<text transform="translate(27.00,830.46) rotate(-90) scale(1.2306,1)" font-size="21.74" font-style="italic">z</text>
<text transform="translate(26.22,818.51) rotate(-90) scale(1.0805,1)" font-size="34.49" style="stroke-width:0.9px">⟩</text>
<rect x="610.05" y="1.2" width="503.1" height="46.6" rx="5.5" fill="#fff" stroke="#d5d5d5" stroke-width="3.75"/>
<path d="M621,22H676" stroke="#1f77b4" stroke-width="3.8" stroke-dasharray="10.6 6.45"/>
<text transform="translate(697.78,31.92) scale(1.0968,1)" font-size="27.86">Markovian</text>
<path d="M886.8,22H941.8" stroke="#ff7f0e" stroke-width="3.8" stroke-dasharray="10.6 6.45" stroke-dashoffset="3.5"/>
<text transform="translate(963.63,31.14) scale(1.1649,1)" font-size="27.31">Qubit-TLS</text>
</svg></body></html>
